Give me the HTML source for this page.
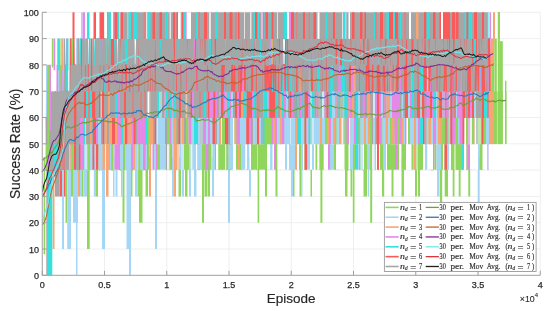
<!DOCTYPE html>
<html><head><meta charset="utf-8"><style>html,body{margin:0;padding:0;background:#fff;}svg{display:block}</style></head>
<body><svg width="550" height="311" viewBox="0 0 550 311">
<rect width="550" height="311" fill="#fff"/>
<path d="M104.50 12.30V275.30M166.75 12.30V275.30M229.00 12.30V275.30M291.25 12.30V275.30M353.50 12.30V275.30M415.75 12.30V275.30M478.00 12.30V275.30M540.25 12.30V275.30M42.25 249.00H540.25M42.25 222.70H540.25M42.25 196.40H540.25M42.25 170.10H540.25M42.25 143.80H540.25M42.25 117.50H540.25M42.25 91.20H540.25M42.25 64.90H540.25M42.25 38.60H540.25M42.25 12.30H540.25" stroke="#ebebeb" stroke-width="0.8" fill="none"/>
<path d="M43.6 157.0H45.2V254.3H43.6ZM65.5 157.0H67.2V222.7H65.5ZM71.0 157.0H73.0V196.4H71.0ZM82.0 157.0H83.3V196.4H82.0ZM87.0 157.0H89.7V249.0H87.0ZM96.0 157.0H98.0V196.4H96.0ZM122.5 157.0H124.5V222.7H122.5ZM131.0 157.0H132.5V196.4H131.0ZM137.5 157.0H139.0V196.4H137.5ZM139.0 157.0H142.5V222.7H139.0ZM145.5 157.0H148.0V196.4H145.5ZM178.5 157.0H181.0V196.4H178.5ZM185.0 157.0H187.5V196.4H185.0ZM202.0 157.0H204.0V222.7H202.0ZM204.5 157.0H205.5V196.4H204.5ZM205.5 157.0H207.0V196.4H205.5ZM207.5 157.0H210.0V196.4H207.5ZM257.6 157.0H259.2V222.7H257.6ZM265.0 157.0H267.0V196.4H265.0ZM275.5 157.0H277.5V196.4H275.5ZM293.0 157.0H294.5V196.4H293.0ZM299.5 157.0H301.0V196.4H299.5ZM310.5 157.0H312.0V196.4H310.5ZM320.4 157.0H322.4V222.7H320.4ZM345.0 157.0H347.5V196.4H345.0ZM350.5 157.0H352.3V196.4H350.5ZM352.8 157.0H354.5V222.7H352.8ZM363.5 157.0H367.0V196.4H363.5ZM370.2 157.0H372.2V222.7H370.2ZM382.0 157.0H384.2V196.4H382.0ZM391.5 157.0H393.5V196.4H391.5ZM401.5 157.0H404.0V196.4H401.5ZM415.0 157.0H417.0V196.4H415.0ZM418.0 157.0H420.0V196.4H418.0ZM440.0 157.0H442.2V222.7H440.0ZM444.7 157.0H448.0V196.4H444.7ZM452.7 157.0H454.5V196.4H452.7ZM458.7 157.0H460.6V196.4H458.7ZM468.3 157.0H470.2V196.4H468.3Z" fill="#90d65c"/>
<path d="M62.0 157.0H64.0V249.0H62.0ZM67.2 157.0H71.0V249.0H67.2ZM73.0 157.0H78.0V222.7H73.0ZM76.0 157.0H77.5V275.3H76.0ZM80.0 157.0H82.0V196.4H80.0ZM83.3 157.0H87.0V196.4H83.3ZM93.8 157.0H96.0V196.4H93.8ZM102.0 157.0H105.0V249.0H102.0ZM113.0 157.0H114.5V196.4H113.0ZM115.5 157.0H117.5V196.4H115.5ZM121.0 157.0H122.5V196.4H121.0ZM126.5 157.0H129.0V249.0H126.5ZM129.0 157.0H131.0V275.3H129.0ZM135.0 157.0H137.5V196.4H135.0ZM155.0 157.0H157.0V249.0H155.0ZM172.0 157.0H174.0V196.4H172.0ZM182.0 157.0H184.0V196.4H182.0ZM189.0 157.0H191.0V196.4H189.0ZM194.0 157.0H196.5V196.4H194.0ZM212.0 157.0H214.0V196.4H212.0ZM228.0 157.0H230.0V222.7H228.0ZM249.0 157.0H251.0V196.4H249.0ZM291.0 157.0H293.0V196.4H291.0ZM301.0 157.0H302.5V196.4H301.0ZM368.0 157.0H369.2V196.4H368.0ZM437.0 157.0H439.6V196.4H437.0ZM477.8 157.0H479.7V222.7H477.8Z" fill="#a5d7f5"/>
<path d="M52.6 157.0H54.5V249.0H52.6ZM78.0 157.0H80.0V196.4H78.0ZM106.0 157.0H108.5V196.4H106.0ZM149.0 157.0H151.0V196.4H149.0ZM174.0 157.0H176.0V196.4H174.0Z" fill="#f8a574"/>
<path d="M47.9 157.0H52.3V275.3H47.9Z" fill="#35e0de"/>
<path d="M59.5 157.0H62.0V196.4H59.5ZM64.0 157.0H65.5V196.4H64.0Z" fill="#fa5a5a"/>
<path d="M46.3 157.0H47.9V275.3H46.3ZM55.0 157.0H59.5V196.4H55.0Z" fill="#a6a6a6"/>
<path d="M46.30 170.1 46.80 143.8 47.30 143.8 47.80 170.1 48.30 143.8 48.80 91.2 49.30 170.1 49.80 170.1 50.30 143.8 50.80 117.5 51.30 170.1 51.80 143.8 52.30 91.2 52.80 170.1 53.30 170.1 53.80 143.8 54.30 170.1 54.80 170.1 55.30 91.2 55.80 143.8 56.30 117.5 56.80 170.1 57.30 170.1 57.80 143.8 58.30 170.1 58.80 117.5 59.30 170.1 59.80 38.6 60.30 143.8 60.80 170.1 61.30 64.9 61.80 143.8 62.80 143.8 63.30 117.5 63.80 170.1 64.30 91.2 64.80 117.5 65.30 64.9 65.80 117.5 66.30 143.8 66.80 117.5 67.30 143.8 67.80 143.8 68.30 91.2 68.80 143.8 69.30 170.1 70.80 170.1 71.30 143.8 71.80 143.8 72.30 38.6 72.80 64.9 73.30 91.2 73.80 117.5 74.30 143.8 74.80 170.1 75.30 117.5 75.80 170.1 76.30 143.8 76.80 143.8 77.30 170.1 78.30 170.1 78.80 117.5 79.80 117.5 80.30 91.2 80.80 117.5 81.30 143.8 81.80 64.9 82.30 117.5 82.80 143.8 83.30 91.2 83.80 143.8 84.30 170.1 84.80 117.5 85.30 91.2 85.80 143.8 86.30 91.2 86.80 143.8 87.30 170.1 87.80 143.8 88.30 64.9 88.80 170.1 89.30 143.8 89.80 170.1 90.30 117.5 90.80 91.2 91.30 170.1 91.80 117.5 92.30 64.9 92.80 91.2 93.30 143.8 93.80 64.9 94.30 143.8 95.30 143.8 95.80 91.2 96.30 117.5 96.80 170.1 97.30 170.1 97.80 117.5 98.30 38.6 98.80 91.2 99.30 170.1 99.80 170.1 100.30 143.8 100.80 91.2 101.30 117.5 101.80 143.8 102.30 117.5 102.80 91.2 103.30 91.2 103.80 64.9 104.30 91.2 104.80 117.5 105.30 170.1 105.80 117.5 106.30 143.8 106.80 64.9 107.30 117.5 107.80 38.6 108.30 143.8 109.30 143.8 109.80 170.1 110.30 143.8 110.80 170.1 111.30 143.8 111.80 170.1 112.30 170.1 112.80 143.8 113.30 143.8 113.80 91.2 114.30 117.5 114.80 91.2 115.30 143.8 115.80 117.5 116.30 143.8 117.30 143.8 117.80 117.5 118.30 143.8 118.80 91.2 119.30 117.5 119.80 117.5 120.30 170.1 120.80 170.1 121.30 64.9 121.80 117.5 122.30 91.2 122.80 117.5 123.30 143.8 123.80 170.1 124.30 117.5 124.80 91.2 125.30 91.2 125.80 170.1 126.30 143.8 126.80 143.8 127.30 64.9 127.80 143.8 128.30 117.5 129.30 117.5 129.80 170.1 130.30 143.8 130.80 91.2 131.30 117.5 131.80 91.2 132.30 170.1 132.80 170.1 133.30 91.2 133.80 91.2 134.30 64.9 134.80 91.2 135.30 170.1 135.80 117.5 136.80 117.5 137.30 170.1 137.80 117.5 138.30 91.2 138.80 117.5 139.30 143.8 139.80 170.1 140.30 64.9 140.80 91.2 141.30 170.1 141.80 117.5 142.30 143.8 142.80 64.9 143.30 143.8 143.80 117.5 144.30 91.2 144.80 143.8 145.30 117.5 145.80 117.5 146.30 143.8 146.80 64.9 147.30 91.2 147.80 38.6 148.30 117.5 148.80 91.2 149.30 143.8 149.80 38.6 150.30 117.5 150.80 91.2 151.30 143.8 151.80 117.5 152.30 117.5 152.80 91.2 153.30 38.6 153.80 117.5 154.30 117.5 154.80 170.1 155.30 117.5 156.30 117.5 156.80 91.2 157.30 143.8 157.80 143.8 158.30 38.6 158.80 117.5 159.30 143.8 159.80 91.2 160.30 143.8 160.80 117.5 161.30 117.5 161.80 91.2 162.30 143.8 162.80 143.8 163.30 117.5 163.80 117.5 164.30 91.2 164.80 117.5 165.30 91.2 166.30 91.2 166.80 143.8 167.30 170.1 167.80 117.5 168.30 117.5 168.80 170.1 169.30 91.2 170.30 91.2 170.80 170.1 171.30 91.2 171.80 117.5 172.80 117.5 173.30 64.9 173.80 143.8 174.30 143.8 174.80 117.5 175.80 117.5 176.30 170.1 176.80 117.5 177.30 143.8 177.80 117.5 178.30 117.5 178.80 143.8 179.30 91.2 179.80 117.5 180.30 143.8 180.80 117.5 181.80 117.5 182.30 91.2 182.80 143.8 183.30 143.8 183.80 91.2 184.30 117.5 184.80 117.5 185.30 91.2 185.80 91.2 186.30 143.8 186.80 143.8 187.30 170.1 187.80 117.5 188.30 117.5 188.80 91.2 189.30 117.5 189.80 64.9 190.30 64.9 190.80 170.1 191.30 91.2 191.80 64.9 192.30 91.2 192.80 143.8 193.30 117.5 193.80 143.8 194.30 117.5 194.80 170.1 195.30 117.5 196.30 117.5 196.80 91.2 197.30 117.5 197.80 170.1 198.30 117.5 198.80 143.8 199.30 91.2 199.80 143.8 200.30 91.2 200.80 91.2 201.30 117.5 201.80 170.1 202.30 117.5 202.80 64.9 203.30 91.2 203.80 38.6 204.30 143.8 204.80 91.2 205.30 117.5 205.80 170.1 206.30 91.2 206.80 143.8 207.30 117.5 207.80 143.8 208.30 117.5 208.80 117.5 209.30 143.8 209.80 170.1 210.30 143.8 210.80 117.5 211.30 117.5 211.80 64.9 212.30 143.8 212.80 117.5 213.30 117.5 213.80 143.8 214.30 91.2 214.80 117.5 215.30 64.9 215.80 38.6 216.30 143.8 216.80 117.5 217.30 170.1 217.80 91.2 218.30 143.8 218.80 170.1 219.30 117.5 220.30 117.5 220.80 91.2 221.30 117.5 221.80 91.2 222.30 143.8 222.80 91.2 223.30 91.2 223.80 117.5 224.80 117.5 225.30 91.2 225.80 143.8 226.30 91.2 226.80 170.1 227.30 117.5 227.80 64.9 228.30 143.8 228.80 91.2 229.30 170.1 229.80 170.1 230.30 143.8 230.80 91.2 231.30 117.5 231.80 38.6 232.30 91.2 233.30 91.2 233.80 117.5 234.30 143.8 234.80 91.2 235.30 38.6 235.80 91.2 236.30 91.2 236.80 143.8 237.30 117.5 237.80 91.2 238.30 143.8 238.80 91.2 239.30 91.2 239.80 64.9 240.30 91.2 240.80 91.2 241.30 170.1 241.80 64.9 242.30 64.9 242.80 117.5 243.30 64.9 243.80 117.5 244.30 38.6 244.80 91.2 245.30 91.2 245.80 38.6 246.30 64.9 246.80 64.9 247.30 91.2 247.80 117.5 248.30 143.8 248.80 117.5 249.30 91.2 249.80 91.2 250.30 64.9 250.80 91.2 251.30 117.5 251.80 38.6 252.30 117.5 252.80 91.2 253.80 91.2 254.30 143.8 254.80 38.6 255.30 64.9 255.80 91.2 256.30 64.9 256.80 117.5 258.30 117.5 258.80 91.2 259.30 91.2 259.80 117.5 260.30 91.2 260.80 117.5 261.30 91.2 261.80 143.8 262.30 91.2 262.80 117.5 263.80 117.5 264.30 143.8 264.80 64.9 265.30 143.8 265.80 170.1 266.30 143.8 266.80 117.5 267.30 117.5 267.80 170.1 268.30 91.2 268.80 170.1 269.30 143.8 269.80 117.5 270.80 117.5 271.30 64.9 271.80 117.5 272.30 38.6 272.80 91.2 273.30 143.8 273.80 91.2 274.30 117.5 274.80 117.5 275.30 143.8 275.80 117.5 276.30 170.1 276.80 91.2 277.30 117.5 277.80 117.5 278.30 91.2 278.80 91.2 279.30 117.5 279.80 117.5 280.30 170.1 280.80 64.9 281.30 117.5 281.80 143.8 282.30 91.2 282.80 117.5 283.30 91.2 283.80 143.8 284.30 91.2 284.80 117.5 285.30 143.8 285.80 64.9 286.30 143.8 286.80 38.6 287.30 143.8 287.80 91.2 288.30 117.5 288.80 91.2 290.30 91.2 290.80 117.5 291.30 117.5 291.80 64.9 292.30 91.2 292.80 64.9 293.30 117.5 293.80 91.2 294.30 91.2 294.80 117.5 295.30 143.8 295.80 143.8 296.30 117.5 296.80 143.8 297.30 170.1 297.80 117.5 298.30 91.2 299.30 91.2 299.80 38.6 300.30 91.2 300.80 91.2 301.30 117.5 301.80 64.9 302.30 117.5 303.30 117.5 303.80 91.2 304.30 64.9 304.80 170.1 305.30 91.2 305.80 117.5 306.30 170.1 306.80 117.5 307.30 143.8 308.80 143.8 309.30 64.9 309.80 64.9 310.30 117.5 310.80 117.5 311.30 170.1 311.80 117.5 312.30 143.8 312.80 64.9 313.30 64.9 313.80 143.8 314.30 64.9 314.80 38.6 315.30 91.2 315.80 64.9 316.30 117.5 316.80 64.9 317.30 117.5 317.80 143.8 318.30 117.5 318.80 91.2 319.30 38.6 319.80 38.6 320.30 91.2 320.80 143.8 321.30 170.1 321.80 64.9 322.30 91.2 322.80 91.2 323.30 64.9 323.80 64.9 324.30 170.1 324.80 143.8 325.30 117.5 325.80 143.8 326.30 117.5 326.80 91.2 327.30 64.9 327.80 143.8 328.30 64.9 328.80 64.9 329.30 117.5 329.80 64.9 330.30 117.5 330.80 117.5 331.30 91.2 331.80 91.2 332.30 143.8 332.80 91.2 334.30 91.2 334.80 64.9 335.30 91.2 335.80 170.1 336.30 143.8 336.80 170.1 337.30 91.2 337.80 91.2 338.30 170.1 338.80 38.6 339.30 38.6 339.80 91.2 340.30 38.6 340.80 143.8 341.30 117.5 341.80 64.9 342.30 170.1 342.80 91.2 343.80 91.2 344.30 143.8 344.80 117.5 345.30 91.2 345.80 64.9 346.30 91.2 346.80 170.1 347.80 170.1 348.30 117.5 348.80 38.6 349.30 170.1 349.80 91.2 350.30 117.5 350.80 91.2 351.30 91.2 351.80 143.8 352.80 143.8 353.30 91.2 353.80 170.1 354.30 117.5 354.80 117.5 355.30 143.8 355.80 91.2 356.30 117.5 356.80 64.9 357.30 117.5 358.80 117.5 359.30 64.9 359.80 170.1 360.30 91.2 360.80 91.2 361.30 143.8 361.80 117.5 362.30 170.1 362.80 143.8 363.30 170.1 363.80 170.1 364.30 143.8 364.80 91.2 365.30 91.2 365.80 64.9 366.30 91.2 366.80 143.8 367.30 91.2 367.80 117.5 368.30 64.9 368.80 117.5 369.80 117.5 370.30 143.8 370.80 91.2 371.30 117.5 371.80 64.9 372.30 170.1 372.80 91.2 373.30 91.2 373.80 143.8 374.30 117.5 374.80 64.9 375.30 91.2 375.80 170.1 376.30 91.2 376.80 91.2 377.30 143.8 378.30 143.8 378.80 64.9 379.30 91.2 379.80 64.9 380.30 170.1 380.80 91.2 381.30 91.2 381.80 143.8 382.30 91.2 382.80 91.2 383.30 170.1 383.80 117.5 384.30 117.5 384.80 170.1 385.30 91.2 385.80 117.5 386.30 143.8 386.80 91.2 387.30 117.5 387.80 64.9 388.30 117.5 388.80 170.1 389.30 143.8 389.80 117.5 390.30 38.6 390.80 91.2 391.30 91.2 391.80 38.6 392.30 143.8 392.80 91.2 393.30 64.9 393.80 143.8 394.30 117.5 394.80 91.2 395.30 117.5 395.80 64.9 396.30 117.5 396.80 64.9 397.30 143.8 397.80 117.5 398.30 91.2 398.80 117.5 399.30 143.8 399.80 117.5 400.30 117.5 400.80 64.9 401.30 117.5 401.80 143.8 402.30 117.5 402.80 91.2 403.30 117.5 403.80 91.2 404.30 91.2 404.80 117.5 405.30 170.1 405.80 117.5 406.30 117.5 406.80 64.9 407.30 64.9 407.80 143.8 408.30 91.2 408.80 91.2 409.30 143.8 409.80 143.8 410.30 91.2 410.80 117.5 411.30 143.8 411.80 143.8 412.30 64.9 412.80 64.9 413.30 143.8 413.80 91.2 414.30 143.8 414.80 91.2 415.30 170.1 415.80 143.8 416.30 117.5 416.80 143.8 417.30 38.6 417.80 64.9 418.30 170.1 418.80 117.5 419.30 170.1 419.80 64.9 420.30 143.8 420.80 170.1 421.30 64.9 421.80 143.8 422.30 64.9 422.80 143.8 423.30 64.9 423.80 91.2 424.30 170.1 424.80 143.8 425.30 117.5 425.80 64.9 426.30 117.5 426.80 143.8 427.30 91.2 427.80 117.5 428.30 117.5 428.80 91.2 429.30 170.1 429.80 64.9 430.30 117.5 430.80 91.2 431.30 64.9 431.80 170.1 432.30 170.1 432.80 91.2 433.30 64.9 433.80 117.5 434.30 64.9 434.80 117.5 435.30 91.2 435.80 117.5 436.30 91.2 436.80 117.5 437.30 117.5 437.80 91.2 438.30 64.9 438.80 91.2 439.30 170.1 439.80 117.5 440.30 143.8 440.80 117.5 441.30 170.1 441.80 91.2 442.30 117.5 442.80 117.5 443.30 64.9 443.80 143.8 444.30 170.1 444.80 117.5 445.30 38.6 445.80 91.2 446.30 64.9 446.80 91.2 447.30 38.6 447.80 91.2 448.30 143.8 448.80 91.2 449.30 143.8 449.80 38.6 450.30 143.8 450.80 91.2 451.30 143.8 451.80 91.2 452.30 170.1 452.80 91.2 453.30 117.5 453.80 117.5 454.30 170.1 454.80 143.8 455.30 64.9 455.80 91.2 456.30 91.2 456.80 143.8 457.30 117.5 457.80 91.2 458.30 38.6 458.80 143.8 459.30 38.6 459.80 64.9 460.30 64.9 460.80 38.6 461.30 64.9 461.80 91.2 462.30 117.5 462.80 91.2 463.30 117.5 463.80 117.5 464.30 64.9 464.80 64.9 465.30 143.8 465.80 38.6 466.30 170.1 466.80 117.5 467.30 64.9 467.80 64.9 468.30 91.2 468.80 143.8 469.30 91.2 469.80 117.5 470.30 64.9 470.80 117.5 471.30 170.1 471.80 117.5 472.80 117.5 473.30 64.9 473.80 91.2 474.30 64.9 474.80 91.2 475.30 143.8 475.80 117.5 476.30 91.2 476.80 117.5 477.80 117.5 478.30 143.8 478.80 143.8 479.30 117.5 480.30 117.5 480.80 91.2 481.30 91.2 481.80 38.6 482.30 64.9 482.80 170.1 483.30 117.5 483.80 117.5 484.30 91.2 484.80 64.9 485.30 117.5 485.80 117.5 486.30 91.2 486.80 117.5 487.30 91.2 487.80 117.5 488.30 64.9 488.80 64.9 489.30 143.8 489.80 117.5 490.30 64.9 490.80 64.9 491.30 117.5 491.80 91.2 492.30 143.8 492.80 64.9 493.30 117.5 493.80 38.6" stroke="#90d65c" stroke-width="1.5" fill="none" stroke-linejoin="bevel" stroke-miterlimit="4"/>
<path d="M46.30 170.1 46.80 64.9 47.30 170.1 47.80 170.1 48.30 117.5 48.80 170.1 50.80 170.1 51.30 143.8 51.80 170.1 52.30 170.1 52.80 143.8 53.30 170.1 57.80 170.1 58.30 38.6 58.80 170.1 59.80 170.1 60.30 91.2 60.80 117.5 61.30 170.1 61.80 170.1 62.30 38.6 62.80 170.1 63.30 143.8 63.80 91.2 64.30 143.8 64.80 91.2 65.30 170.1 65.80 170.1 66.30 117.5 66.80 143.8 67.30 170.1 68.30 170.1 68.80 91.2 69.30 170.1 69.80 170.1 70.30 143.8 70.80 170.1 71.30 143.8 71.80 117.5 72.30 143.8 72.80 170.1 73.30 143.8 73.80 143.8 74.30 170.1 74.80 170.1 75.30 64.9 75.80 143.8 76.30 143.8 76.80 38.6 77.30 143.8 77.80 170.1 78.30 143.8 78.80 91.2 79.30 143.8 80.30 143.8 80.80 170.1 81.30 64.9 81.80 143.8 82.30 64.9 82.80 117.5 83.30 117.5 83.80 143.8 84.30 143.8 84.80 170.1 85.30 143.8 85.80 170.1 87.30 170.1 87.80 91.2 88.30 143.8 88.80 64.9 89.30 170.1 89.80 170.1 90.30 91.2 90.80 170.1 91.30 64.9 91.80 143.8 92.30 170.1 92.80 117.5 93.30 143.8 93.80 64.9 94.30 91.2 94.80 117.5 97.30 117.5 97.80 91.2 98.30 117.5 98.80 91.2 99.30 117.5 99.80 117.5 100.30 143.8 100.80 117.5 101.30 170.1 101.80 170.1 102.30 143.8 102.80 38.6 103.30 38.6 103.80 117.5 104.30 170.1 104.80 117.5 105.30 38.6 105.80 143.8 106.30 38.6 106.80 117.5 107.30 117.5 107.80 91.2 108.30 64.9 108.80 117.5 109.30 91.2 109.80 117.5 110.30 91.2 110.80 91.2 111.30 117.5 111.80 38.6 112.30 91.2 112.80 143.8 113.30 143.8 113.80 117.5 114.30 91.2 114.80 143.8 115.30 117.5 115.80 38.6 116.30 64.9 116.80 117.5 117.30 91.2 117.80 117.5 118.30 117.5 118.80 91.2 119.30 117.5 119.80 38.6 120.30 170.1 120.80 117.5 121.30 143.8 121.80 91.2 122.80 91.2 123.30 143.8 123.80 91.2 124.30 117.5 124.80 117.5 125.30 143.8 125.80 117.5 126.30 117.5 126.80 38.6 127.30 143.8 127.80 91.2 128.30 91.2 128.80 117.5 129.30 170.1 129.80 38.6 130.30 91.2 130.80 143.8 131.30 38.6 131.80 91.2 132.30 91.2 132.80 117.5 133.30 91.2 133.80 170.1 134.30 117.5 134.80 91.2 135.30 117.5 135.80 143.8 136.30 170.1 136.80 143.8 137.30 170.1 137.80 170.1 138.30 117.5 138.80 64.9 139.30 117.5 139.80 143.8 140.30 91.2 140.80 170.1 141.30 91.2 141.80 117.5 142.30 91.2 142.80 64.9 143.30 170.1 143.80 170.1 144.30 117.5 144.80 91.2 145.30 91.2 145.80 170.1 146.30 91.2 146.80 117.5 147.30 143.8 147.80 117.5 148.30 38.6 148.80 64.9 149.30 117.5 149.80 64.9 150.30 91.2 150.80 143.8 151.30 117.5 151.80 143.8 152.30 91.2 152.80 143.8 153.80 143.8 154.30 170.1 154.80 143.8 155.30 64.9 155.80 117.5 156.30 143.8 156.80 170.1 157.30 143.8 157.80 91.2 158.30 38.6 158.80 64.9 159.30 117.5 159.80 117.5 160.30 143.8 160.80 143.8 161.30 117.5 161.80 91.2 162.30 117.5 162.80 143.8 163.30 117.5 164.30 117.5 164.80 91.2 165.30 91.2 165.80 143.8 166.30 38.6 166.80 64.9 167.30 64.9 167.80 91.2 168.30 64.9 168.80 143.8 169.30 170.1 169.80 91.2 170.30 170.1 170.80 143.8 171.30 91.2 171.80 117.5 172.80 117.5 173.30 64.9 173.80 117.5 174.30 117.5 174.80 64.9 175.30 117.5 175.80 64.9 176.30 117.5 176.80 91.2 177.30 91.2 177.80 38.6 178.30 38.6 178.80 91.2 179.30 64.9 179.80 117.5 180.30 91.2 181.30 91.2 181.80 64.9 182.30 117.5 182.80 64.9 183.30 91.2 183.80 91.2 184.30 143.8 184.80 117.5 185.30 38.6 185.80 91.2 186.30 117.5 186.80 91.2 187.30 64.9 187.80 117.5 188.30 117.5 188.80 38.6 189.30 64.9 189.80 64.9 190.30 117.5 190.80 143.8 191.30 117.5 191.80 170.1 192.30 117.5 192.80 117.5 193.30 64.9 193.80 117.5 194.30 91.2 194.80 143.8 195.30 117.5 195.80 117.5 196.30 91.2 196.80 64.9 197.30 38.6 197.80 143.8 198.30 38.6 198.80 117.5 199.30 117.5 199.80 64.9 200.30 117.5 201.80 117.5 202.30 143.8 202.80 117.5 203.30 143.8 203.80 64.9 204.30 117.5 204.80 38.6 205.30 64.9 205.80 91.2 206.30 170.1 206.80 170.1 207.30 143.8 207.80 91.2 208.30 117.5 208.80 117.5 209.30 91.2 209.80 170.1 210.30 170.1 210.80 117.5 211.80 117.5 212.30 143.8 212.80 64.9 213.30 117.5 213.80 38.6 214.30 143.8 214.80 117.5 215.30 170.1 215.80 117.5 216.30 170.1 216.80 143.8 217.30 143.8 217.80 91.2 218.30 143.8 218.80 91.2 219.30 117.5 219.80 143.8 220.30 117.5 220.80 64.9 221.30 91.2 221.80 64.9 222.30 64.9 222.80 91.2 223.30 38.6 223.80 91.2 224.30 64.9 224.80 38.6 225.30 170.1 225.80 143.8 226.30 91.2 226.80 117.5 227.30 38.6 227.80 64.9 228.80 64.9 229.30 117.5 229.80 117.5 230.30 64.9 230.80 64.9 231.30 91.2 231.80 91.2 232.30 117.5 232.80 64.9 233.30 91.2 233.80 117.5 234.30 64.9 234.80 64.9 235.30 117.5 235.80 38.6 236.30 117.5 236.80 38.6 237.30 64.9 237.80 117.5 238.30 117.5 238.80 91.2 239.30 64.9 239.80 170.1 240.30 64.9 240.80 91.2 241.30 64.9 241.80 91.2 242.80 91.2 243.30 64.9 243.80 117.5 244.30 91.2 244.80 91.2 245.30 117.5 245.80 117.5 246.30 64.9 246.80 91.2 247.30 91.2 247.80 64.9 248.30 91.2 248.80 117.5 249.30 38.6 249.80 91.2 250.30 117.5 250.80 91.2 251.30 170.1 251.80 91.2 252.30 170.1 252.80 91.2 254.30 91.2 254.80 143.8 255.30 64.9 255.80 117.5 256.30 38.6 256.80 143.8 257.30 91.2 258.30 91.2 258.80 117.5 259.30 91.2 259.80 38.6 260.30 64.9 260.80 38.6 261.30 91.2 261.80 117.5 262.30 91.2 262.80 117.5 263.30 38.6 263.80 117.5 264.30 38.6 264.80 117.5 265.30 91.2 265.80 91.2 266.30 64.9 266.80 64.9 267.30 38.6 267.80 64.9 268.30 38.6 268.80 91.2 269.30 91.2 269.80 64.9 270.30 91.2 270.80 64.9 271.30 64.9 271.80 143.8 272.30 64.9 272.80 170.1 273.30 91.2 273.80 91.2 274.30 38.6 274.80 91.2 275.30 117.5 275.80 91.2 276.30 143.8 276.80 38.6 277.30 38.6 277.80 91.2 278.30 117.5 278.80 91.2 279.30 91.2 279.80 117.5 280.30 38.6 280.80 143.8 281.30 117.5 281.80 117.5 282.30 91.2 282.80 143.8 283.30 91.2 283.80 64.9 284.30 64.9 284.80 143.8 285.30 64.9 285.80 117.5 286.30 117.5 286.80 91.2 287.30 91.2 287.80 64.9 288.30 170.1 288.80 64.9 289.30 91.2 289.80 170.1 290.30 64.9 290.80 117.5 291.30 64.9 291.80 38.6 292.30 91.2 292.80 143.8 293.30 38.6 293.80 91.2 294.30 91.2 294.80 117.5 295.30 38.6 295.80 38.6 296.30 117.5 296.80 91.2 297.30 117.5 297.80 91.2 298.80 91.2 299.30 64.9 299.80 117.5 300.80 117.5 301.30 143.8 301.80 38.6 302.30 143.8 302.80 170.1 303.30 91.2 303.80 64.9 304.30 91.2 304.80 38.6 305.30 117.5 305.80 91.2 306.30 64.9 306.80 143.8 307.30 91.2 307.80 117.5 308.30 143.8 308.80 91.2 309.30 64.9 309.80 91.2 310.30 64.9 310.80 64.9 311.30 91.2 311.80 91.2 312.30 64.9 312.80 117.5 313.30 117.5 313.80 143.8 314.30 117.5 314.80 64.9 315.30 91.2 315.80 38.6 316.30 117.5 316.80 117.5 317.30 143.8 317.80 38.6 318.30 143.8 318.80 64.9 319.30 91.2 319.80 143.8 320.30 91.2 320.80 64.9 321.30 117.5 321.80 143.8 322.30 38.6 322.80 91.2 323.30 64.9 323.80 117.5 324.30 91.2 324.80 117.5 325.30 117.5 325.80 38.6 326.30 91.2 326.80 64.9 327.30 64.9 327.80 91.2 328.30 91.2 328.80 117.5 329.30 143.8 329.80 91.2 330.30 170.1 330.80 91.2 331.30 64.9 331.80 117.5 332.30 38.6 332.80 91.2 333.30 117.5 333.80 117.5 334.30 91.2 334.80 91.2 335.30 117.5 335.80 38.6 336.30 91.2 336.80 64.9 337.30 91.2 337.80 91.2 338.30 64.9 338.80 38.6 339.30 91.2 339.80 117.5 340.30 170.1 340.80 117.5 341.30 117.5 341.80 38.6 342.30 117.5 342.80 91.2 343.30 38.6 343.80 143.8 344.30 64.9 344.80 91.2 345.30 117.5 346.30 117.5 346.80 91.2 347.30 117.5 347.80 64.9 348.30 91.2 348.80 91.2 349.30 143.8 349.80 143.8 350.30 117.5 350.80 64.9 353.30 64.9 353.80 38.6 354.30 38.6 354.80 64.9 355.30 117.5 355.80 64.9 356.30 91.2 356.80 117.5 357.30 143.8 357.80 117.5 359.30 117.5 359.80 38.6 360.30 170.1 360.80 64.9 361.30 117.5 361.80 91.2 362.30 117.5 362.80 64.9 363.30 64.9 363.80 117.5 364.30 64.9 364.80 117.5 365.30 117.5 365.80 170.1 366.30 143.8 366.80 117.5 367.30 64.9 367.80 143.8 368.30 117.5 368.80 91.2 369.30 117.5 369.80 91.2 370.30 117.5 370.80 91.2 371.30 91.2 371.80 143.8 372.30 117.5 372.80 91.2 373.30 91.2 373.80 117.5 374.30 91.2 375.30 91.2 375.80 117.5 376.30 117.5 376.80 91.2 377.30 117.5 377.80 91.2 378.80 91.2 379.30 117.5 379.80 91.2 380.30 117.5 380.80 64.9 381.30 143.8 381.80 91.2 382.30 143.8 382.80 117.5 383.80 117.5 384.30 91.2 384.80 170.1 385.30 117.5 385.80 117.5 386.30 91.2 386.80 117.5 387.30 143.8 387.80 91.2 388.30 117.5 388.80 91.2 389.30 91.2 389.80 143.8 390.30 117.5 390.80 38.6 391.30 143.8 391.80 117.5 392.30 38.6 392.80 91.2 394.30 91.2 394.80 117.5 395.30 91.2 395.80 38.6 396.30 91.2 396.80 91.2 397.30 64.9 397.80 91.2 398.30 64.9 398.80 117.5 399.30 143.8 399.80 117.5 400.30 91.2 401.30 91.2 401.80 117.5 402.30 143.8 402.80 170.1 403.30 91.2 403.80 38.6 404.30 91.2 405.30 91.2 405.80 64.9 406.30 91.2 407.30 91.2 407.80 117.5 408.30 64.9 408.80 117.5 409.30 91.2 409.80 64.9 410.30 91.2 410.80 64.9 411.30 91.2 411.80 117.5 412.30 38.6 412.80 117.5 413.30 91.2 413.80 117.5 414.30 38.6 414.80 117.5 415.30 91.2 415.80 91.2 416.30 38.6 416.80 64.9 417.30 64.9 417.80 91.2 418.30 117.5 418.80 91.2 419.30 117.5 419.80 64.9 420.30 91.2 420.80 91.2 421.30 64.9 421.80 91.2 422.30 64.9 422.80 91.2 423.30 64.9 423.80 117.5 425.30 117.5 425.80 64.9 426.30 91.2 426.80 117.5 427.80 117.5 428.30 38.6 428.80 117.5 429.30 64.9 429.80 117.5 430.30 64.9 430.80 117.5 431.80 117.5 432.30 38.6 432.80 91.2 433.30 170.1 433.80 117.5 434.30 117.5 434.80 91.2 435.30 64.9 435.80 91.2 436.30 64.9 437.30 64.9 437.80 91.2 438.30 64.9 438.80 64.9 439.30 38.6 439.80 117.5 440.30 117.5 440.80 91.2 441.30 91.2 441.80 170.1 442.30 38.6 442.80 64.9 443.30 117.5 443.80 117.5 444.30 38.6 444.80 91.2 445.30 64.9 445.80 91.2 446.80 91.2 447.30 117.5 447.80 91.2 448.30 91.2 448.80 64.9 449.30 91.2 449.80 143.8 450.30 170.1 450.80 117.5 451.30 91.2 451.80 143.8 452.30 143.8 452.80 38.6 453.30 91.2 454.80 91.2 455.30 38.6 455.80 91.2 456.30 91.2 456.80 170.1 457.30 91.2 457.80 117.5 458.30 64.9 458.80 117.5 459.80 117.5 460.30 170.1 460.80 91.2 461.30 117.5 461.80 64.9 462.30 117.5 462.80 91.2 463.30 117.5 463.80 38.6 464.30 117.5 464.80 38.6 465.30 117.5 465.80 91.2 466.30 91.2 466.80 117.5 467.30 91.2 467.80 64.9 468.30 117.5 468.80 64.9 469.30 91.2 469.80 38.6 470.30 91.2 470.80 64.9 471.80 64.9 472.30 38.6 473.30 38.6 473.80 91.2 474.30 117.5 474.80 91.2 475.30 91.2 475.80 117.5 476.30 91.2 476.80 117.5 477.30 64.9 477.80 117.5 478.30 64.9 478.80 117.5 479.30 64.9 479.80 117.5 480.30 91.2 480.80 117.5 481.30 91.2 481.80 64.9 482.30 117.5 482.80 91.2 483.30 91.2 483.80 64.9 484.30 170.1 484.80 117.5 485.30 64.9 485.80 91.2 486.30 143.8 486.80 91.2 487.30 91.2 487.80 170.1 488.30 143.8 488.80 143.8 489.30 91.2" stroke="#a5d7f5" stroke-width="1.5" fill="none" stroke-linejoin="bevel" stroke-miterlimit="4"/>
<path d="M46.30 170.1 57.80 170.1 58.30 117.5 58.80 143.8 59.30 143.8 59.80 170.1 60.30 170.1 60.80 143.8 61.30 170.1 61.80 117.5 62.30 117.5 62.80 170.1 63.30 143.8 63.80 143.8 64.30 170.1 64.80 143.8 65.30 143.8 65.80 170.1 66.30 143.8 66.80 143.8 67.30 117.5 67.80 91.2 68.30 117.5 68.80 117.5 69.30 91.2 69.80 170.1 70.30 38.6 70.80 117.5 71.30 91.2 72.30 91.2 72.80 170.1 73.30 117.5 74.30 117.5 74.80 91.2 75.30 91.2 75.80 117.5 76.30 117.5 76.80 64.9 77.30 117.5 77.80 38.6 78.30 91.2 78.80 91.2 79.30 143.8 79.80 64.9 80.30 91.2 81.30 91.2 81.80 64.9 82.30 91.2 82.80 91.2 83.30 117.5 83.80 117.5 84.30 38.6 84.80 91.2 85.30 117.5 85.80 91.2 86.30 117.5 86.80 91.2 87.30 64.9 87.80 91.2 88.30 117.5 88.80 143.8 89.30 91.2 89.80 117.5 90.30 117.5 90.80 91.2 91.30 117.5 91.80 64.9 92.30 64.9 92.80 117.5 93.30 64.9 93.80 91.2 94.30 64.9 94.80 91.2 95.30 91.2 95.80 143.8 96.30 91.2 96.80 117.5 97.30 91.2 97.80 91.2 98.30 117.5 98.80 91.2 99.30 64.9 99.80 64.9 100.30 117.5 100.80 91.2 101.30 143.8 101.80 91.2 102.30 91.2 102.80 117.5 103.30 91.2 103.80 117.5 104.30 91.2 104.80 117.5 105.30 38.6 105.80 143.8 106.30 91.2 106.80 38.6 107.30 64.9 108.80 64.9 109.30 91.2 109.80 117.5 110.30 64.9 110.80 64.9 111.30 91.2 111.80 64.9 112.30 91.2 112.80 64.9 113.30 117.5 113.80 91.2 114.30 143.8 114.80 64.9 115.30 91.2 115.80 64.9 116.30 91.2 117.30 91.2 117.80 117.5 118.30 64.9 118.80 117.5 119.30 91.2 119.80 117.5 120.30 64.9 120.80 91.2 121.30 91.2 121.80 64.9 122.80 64.9 123.30 91.2 123.80 38.6 124.30 91.2 124.80 117.5 125.30 117.5 125.80 38.6 126.30 64.9 126.80 91.2 127.30 64.9 127.80 117.5 128.30 91.2 128.80 91.2 129.30 143.8 129.80 91.2 130.30 64.9 130.80 64.9 131.30 91.2 133.80 91.2 134.30 143.8 134.80 64.9 135.30 91.2 135.80 143.8 136.30 91.2 136.80 117.5 137.30 117.5 137.80 64.9 138.30 91.2 138.80 117.5 139.30 64.9 139.80 117.5 140.30 91.2 140.80 91.2 141.30 64.9 141.80 91.2 142.30 64.9 143.30 64.9 143.80 117.5 144.30 91.2 144.80 91.2 145.30 143.8 145.80 91.2 146.30 38.6 146.80 117.5 147.30 64.9 147.80 91.2 148.30 143.8 148.80 91.2 149.30 91.2 149.80 143.8 150.30 117.5 150.80 143.8 151.30 170.1 151.80 38.6 152.80 38.6 153.30 64.9 153.80 38.6 154.30 38.6 154.80 91.2 155.30 38.6 155.80 64.9 156.30 91.2 157.30 91.2 157.80 143.8 158.30 117.5 158.80 91.2 159.30 91.2 159.80 38.6 160.30 91.2 160.80 91.2 161.30 117.5 161.80 91.2 162.30 64.9 162.80 64.9 163.30 91.2 163.80 64.9 164.30 38.6 164.80 91.2 165.30 64.9 165.80 117.5 166.30 64.9 166.80 38.6 167.30 38.6 167.80 117.5 168.30 91.2 169.30 91.2 169.80 64.9 170.30 91.2 173.30 91.2 173.80 64.9 174.30 117.5 174.80 91.2 176.30 91.2 176.80 117.5 177.30 64.9 177.80 117.5 178.30 91.2 179.30 91.2 179.80 143.8 180.30 117.5 180.80 117.5 181.30 91.2 181.80 117.5 182.30 64.9 182.80 143.8 183.30 91.2 183.80 91.2 184.30 143.8 184.80 91.2 185.30 64.9 185.80 64.9 186.30 91.2 186.80 64.9 187.30 91.2 187.80 64.9 188.30 64.9 188.80 91.2 189.30 64.9 189.80 91.2 190.30 91.2 190.80 64.9 191.30 38.6 191.80 91.2 192.30 91.2 192.80 64.9 193.80 64.9 194.30 117.5 194.80 91.2 195.30 91.2 195.80 117.5 196.30 91.2 196.80 170.1 197.30 91.2 197.80 64.9 199.30 64.9 199.80 38.6 200.30 64.9 200.80 64.9 201.30 91.2 201.80 64.9 202.30 91.2 202.80 64.9 203.30 91.2 204.30 91.2 204.80 64.9 205.30 91.2 206.30 91.2 206.80 38.6 207.30 38.6 207.80 91.2 208.30 64.9 208.80 117.5 209.30 64.9 211.30 64.9 211.80 91.2 212.30 91.2 212.80 64.9 213.30 64.9 213.80 91.2 214.30 38.6 214.80 91.2 215.30 91.2 215.80 64.9 216.30 38.6 216.80 38.6 217.30 117.5 217.80 38.6 218.30 38.6 218.80 64.9 219.30 38.6 219.80 38.6 220.30 91.2 220.80 117.5 221.30 91.2 221.80 91.2 222.30 117.5 222.80 38.6 223.30 91.2 223.80 64.9 224.30 91.2 224.80 117.5 225.30 117.5 225.80 38.6 226.30 117.5 226.80 91.2 227.30 117.5 227.80 64.9 228.30 91.2 228.80 117.5 229.30 91.2 229.80 64.9 230.30 91.2 230.80 91.2 231.30 117.5 231.80 64.9 232.30 64.9 232.80 143.8 233.30 91.2 233.80 64.9 234.30 117.5 234.80 64.9 235.30 117.5 235.80 117.5 236.30 64.9 236.80 91.2 237.30 91.2 237.80 64.9 238.30 64.9 238.80 38.6 239.30 117.5 239.80 38.6 240.30 117.5 240.80 38.6 241.30 117.5 241.80 64.9 242.30 170.1 242.80 91.2 243.30 91.2 243.80 64.9 244.30 117.5 244.80 91.2 245.30 117.5 245.80 143.8 246.30 91.2 246.80 64.9 247.80 64.9 248.30 91.2 249.30 91.2 249.80 117.5 250.30 91.2 250.80 143.8 251.30 64.9 251.80 38.6 252.30 38.6 252.80 64.9 253.30 38.6 253.80 117.5 254.30 64.9 254.80 117.5 255.30 38.6 255.80 64.9 256.30 143.8 256.80 91.2 257.30 64.9 257.80 91.2 258.30 64.9 259.30 64.9 259.80 91.2 260.80 91.2 261.30 64.9 261.80 143.8 262.30 91.2 262.80 64.9 263.30 91.2 263.80 91.2 264.30 64.9 265.30 64.9 265.80 117.5 266.30 38.6 266.80 64.9 267.30 38.6 267.80 64.9 268.80 64.9 269.30 38.6 269.80 64.9 270.30 117.5 270.80 64.9 271.30 64.9 271.80 38.6 272.30 64.9 272.80 117.5 273.30 64.9 273.80 91.2 274.30 64.9 274.80 64.9 275.30 117.5 275.80 64.9 276.30 117.5 276.80 38.6 277.30 91.2 277.80 91.2 278.30 38.6 278.80 64.9 279.30 64.9 279.80 38.6 280.30 64.9 280.80 64.9 281.30 143.8 281.80 91.2 282.30 38.6 282.80 64.9 283.30 117.5 283.80 64.9 285.80 64.9 286.30 91.2 287.30 91.2 287.80 117.5 288.30 91.2 288.80 64.9 289.30 91.2 289.80 64.9 290.30 38.6 290.80 64.9 291.30 38.6 291.80 64.9 292.30 38.6 292.80 64.9 293.30 64.9 293.80 38.6 294.30 91.2 294.80 64.9 295.30 64.9 295.80 117.5 296.30 91.2 296.80 64.9 297.30 117.5 297.80 64.9 298.30 91.2 298.80 91.2 299.30 64.9 299.80 64.9 300.30 143.8 300.80 91.2 301.30 38.6 301.80 117.5 302.30 38.6 302.80 91.2 303.30 64.9 303.80 91.2 304.30 64.9 304.80 91.2 305.30 64.9 305.80 91.2 306.30 91.2 306.80 64.9 307.30 91.2 307.80 64.9 308.30 91.2 308.80 91.2 309.30 117.5 309.80 64.9 310.30 64.9 310.80 91.2 311.30 117.5 311.80 38.6 312.30 143.8 312.80 64.9 313.30 38.6 313.80 38.6 314.30 91.2 314.80 38.6 315.30 91.2 315.80 117.5 316.30 38.6 316.80 38.6 317.30 91.2 317.80 64.9 318.30 117.5 318.80 170.1 319.30 64.9 319.80 91.2 320.30 91.2 320.80 117.5 321.30 91.2 321.80 117.5 322.30 117.5 322.80 64.9 323.30 38.6 323.80 64.9 324.30 38.6 324.80 117.5 325.30 64.9 325.80 91.2 326.30 91.2 326.80 64.9 327.80 64.9 328.30 91.2 329.30 91.2 329.80 117.5 330.30 64.9 330.80 38.6 331.30 117.5 331.80 38.6 332.30 64.9 332.80 64.9 333.30 91.2 333.80 38.6 334.30 64.9 335.30 64.9 335.80 91.2 336.30 64.9 336.80 64.9 337.30 91.2 337.80 64.9 338.30 91.2 338.80 64.9 339.30 38.6 339.80 64.9 340.30 91.2 340.80 64.9 341.30 91.2 341.80 117.5 342.30 91.2 342.80 91.2 343.30 64.9 343.80 91.2 344.30 38.6 344.80 91.2 345.30 117.5 345.80 117.5 346.30 91.2 346.80 91.2 347.30 38.6 347.80 91.2 348.30 91.2 348.80 64.9 349.30 91.2 349.80 64.9 350.30 64.9 350.80 91.2 351.30 64.9 351.80 117.5 352.30 91.2 352.80 64.9 353.30 117.5 353.80 38.6 354.30 64.9 354.80 38.6 355.30 117.5 355.80 91.2 356.30 64.9 357.30 64.9 357.80 38.6 358.30 64.9 358.80 91.2 359.30 38.6 359.80 117.5 360.30 64.9 360.80 91.2 361.30 64.9 361.80 38.6 362.30 91.2 362.80 91.2 363.30 64.9 363.80 91.2 364.30 91.2 364.80 64.9 365.30 64.9 365.80 91.2 366.30 64.9 366.80 91.2 367.30 143.8 367.80 64.9 368.30 91.2 368.80 64.9 369.30 91.2 370.30 91.2 370.80 64.9 371.30 64.9 371.80 38.6 372.30 64.9 379.80 64.9 380.30 91.2 380.80 64.9 382.80 64.9 383.30 117.5 383.80 143.8 384.30 64.9 386.30 64.9 386.80 91.2 387.30 91.2 387.80 38.6 388.30 64.9 388.80 91.2 389.30 64.9 389.80 91.2 390.30 143.8 390.80 64.9 391.30 64.9 391.80 38.6 392.30 38.6 392.80 64.9 393.30 38.6 393.80 64.9 394.30 64.9 394.80 91.2 395.30 91.2 395.80 38.6 396.30 117.5 396.80 91.2 397.30 38.6 397.80 91.2 398.30 38.6 398.80 91.2 399.30 64.9 399.80 64.9 400.30 38.6 401.30 38.6 401.80 91.2 402.30 91.2 402.80 38.6 403.30 64.9 403.80 38.6 404.80 38.6 405.30 91.2 405.80 64.9 406.30 64.9 406.80 117.5 407.30 91.2 407.80 91.2 408.30 64.9 409.30 64.9 409.80 38.6 410.30 38.6 410.80 91.2 411.30 38.6 411.80 64.9 412.30 38.6 412.80 64.9 413.30 91.2 413.80 64.9 414.80 64.9 415.30 117.5 415.80 38.6 416.30 64.9 416.80 38.6 417.30 91.2 417.80 64.9 418.30 64.9 418.80 91.2 419.30 64.9 419.80 64.9 420.30 91.2 420.80 64.9 421.30 91.2 421.80 38.6 422.30 91.2 422.80 117.5 423.30 64.9 423.80 38.6 424.30 91.2 425.30 91.2 425.80 38.6 426.30 91.2 428.80 91.2 429.30 64.9 429.80 91.2 430.30 117.5 430.80 91.2 431.30 64.9 431.80 91.2 432.30 91.2 432.80 64.9 433.30 91.2 433.80 64.9 434.30 91.2 434.80 64.9 435.30 91.2 435.80 64.9 436.30 91.2 436.80 64.9 437.30 91.2 437.80 38.6 438.30 117.5 438.80 64.9 439.30 91.2 439.80 91.2 440.30 64.9 440.80 64.9 441.30 91.2 441.80 38.6 442.30 91.2 442.80 38.6 443.30 91.2 443.80 38.6 444.30 91.2 444.80 64.9 445.30 91.2 445.80 38.6 446.30 64.9 447.80 64.9 448.30 38.6 448.80 64.9 449.30 64.9 449.80 91.2 450.30 64.9 450.80 64.9 451.30 38.6 451.80 64.9 452.30 38.6 452.80 38.6 453.30 91.2 453.80 91.2 454.30 64.9 454.80 38.6 455.30 91.2 456.80 91.2 457.30 64.9 457.80 91.2 458.30 91.2 458.80 38.6 459.30 64.9 459.80 64.9 460.30 38.6 461.80 38.6 462.30 64.9 462.80 64.9 463.30 38.6 463.80 38.6 464.30 64.9 466.80 64.9 467.30 91.2 467.80 64.9 468.80 64.9 469.30 91.2 469.80 64.9 470.30 38.6 470.80 64.9 471.30 64.9 471.80 38.6 472.30 64.9 473.30 64.9 473.80 38.6 474.30 64.9 477.30 64.9 477.80 38.6 478.30 91.2 478.80 38.6 479.30 91.2 479.80 64.9 481.30 64.9 481.80 38.6 482.30 64.9 482.80 64.9 483.30 38.6 484.30 38.6 484.80 91.2 485.30 64.9 485.80 91.2 486.30 64.9 486.80 91.2 487.30 91.2 487.80 64.9 488.30 64.9 488.80 91.2 489.30 38.6 489.80 64.9 490.30 64.9 490.80 91.2 491.30 38.6 491.80 64.9 492.30 38.6 492.80 64.9 493.30 64.9 493.80 38.6 494.30 38.6" stroke="#f8a574" stroke-width="1.5" fill="none" stroke-linejoin="bevel" stroke-miterlimit="4"/>
<path d="M46.30 117.5 46.80 170.1 47.30 143.8 47.80 143.8 48.30 64.9 48.80 170.1 49.30 143.8 49.80 170.1 50.30 170.1 50.80 143.8 51.30 117.5 51.80 170.1 52.30 143.8 52.80 117.5 53.30 143.8 53.80 170.1 54.30 143.8 54.80 143.8 55.30 117.5 56.30 117.5 56.80 143.8 57.30 64.9 57.80 143.8 58.30 117.5 58.80 143.8 59.30 143.8 59.80 91.2 60.30 117.5 60.80 91.2 61.30 91.2 61.80 64.9 62.30 143.8 62.80 143.8 63.30 117.5 64.30 117.5 64.80 64.9 65.30 64.9 65.80 91.2 66.30 117.5 66.80 38.6 67.30 91.2 67.80 117.5 68.80 117.5 69.30 91.2 69.80 117.5 70.80 117.5 71.30 91.2 71.80 91.2 72.30 143.8 72.80 91.2 77.80 91.2 78.30 38.6 78.80 64.9 79.30 64.9 79.80 117.5 80.30 91.2 80.80 64.9 81.30 38.6 81.80 38.6 82.30 91.2 82.80 38.6 83.30 38.6 83.80 64.9 84.30 91.2 84.80 64.9 85.30 117.5 85.80 117.5 86.30 64.9 86.80 91.2 87.30 38.6 87.80 91.2 88.30 64.9 88.80 91.2 89.80 91.2 90.30 64.9 90.80 91.2 91.30 117.5 91.80 91.2 92.30 91.2 92.80 117.5 93.30 91.2 94.80 91.2 95.30 64.9 95.80 117.5 96.30 91.2 96.80 91.2 97.30 64.9 97.80 38.6 98.30 38.6 98.80 91.2 99.30 64.9 99.80 64.9 100.30 38.6 100.80 64.9 101.30 38.6 101.80 38.6 102.30 64.9 102.80 91.2 103.30 38.6 103.80 64.9 104.30 64.9 104.80 91.2 106.30 91.2 106.80 64.9 108.30 64.9 108.80 117.5 109.30 64.9 109.80 117.5 110.30 117.5 110.80 91.2 111.30 64.9 112.80 64.9 113.30 38.6 113.80 91.2 114.30 38.6 114.80 38.6 115.30 64.9 115.80 64.9 116.30 38.6 116.80 91.2 117.30 64.9 117.80 91.2 118.30 91.2 118.80 64.9 119.80 64.9 120.30 117.5 121.30 117.5 121.80 91.2 122.80 91.2 123.30 38.6 123.80 91.2 124.30 64.9 124.80 64.9 125.30 38.6 125.80 64.9 126.30 91.2 126.80 38.6 127.30 64.9 127.80 64.9 128.30 38.6 128.80 91.2 129.30 64.9 130.80 64.9 131.30 91.2 132.30 91.2 132.80 64.9 133.80 64.9 134.30 91.2 134.80 91.2 135.30 117.5 135.80 64.9 136.30 64.9 136.80 91.2 137.30 64.9 137.80 38.6 138.30 91.2 138.80 64.9 139.30 64.9 139.80 38.6 140.30 91.2 140.80 38.6 141.30 38.6 141.80 91.2 142.30 38.6 142.80 64.9 143.30 64.9 143.80 38.6 144.30 91.2 144.80 64.9 145.30 38.6 145.80 91.2 146.30 117.5 146.80 64.9 147.30 91.2 147.80 38.6 148.30 64.9 148.80 91.2 149.30 91.2 149.80 38.6 150.30 64.9 150.80 91.2 151.80 91.2 152.30 64.9 152.80 64.9 153.30 38.6 153.80 64.9 154.30 38.6 154.80 91.2 155.30 38.6 155.80 64.9 156.30 91.2 156.80 64.9 157.30 38.6 157.80 91.2 158.30 64.9 158.80 91.2 159.30 91.2 159.80 38.6 160.30 64.9 160.80 38.6 161.30 64.9 161.80 64.9 162.30 38.6 162.80 38.6 163.30 117.5 163.80 91.2 164.30 64.9 164.80 117.5 165.30 64.9 165.80 64.9 166.30 38.6 166.80 38.6 167.30 64.9 167.80 38.6 168.30 91.2 168.80 64.9 169.30 64.9 169.80 117.5 170.30 91.2 170.80 91.2 171.30 38.6 172.30 38.6 172.80 64.9 173.30 64.9 173.80 91.2 174.30 64.9 174.80 91.2 175.30 91.2 175.80 38.6 176.30 117.5 176.80 64.9 177.30 64.9 177.80 117.5 178.30 64.9 178.80 64.9 179.30 91.2 179.80 38.6 180.30 64.9 180.80 64.9 181.30 91.2 181.80 117.5 182.30 91.2 182.80 117.5 183.30 64.9 183.80 64.9 184.30 38.6 184.80 117.5 185.30 64.9 185.80 117.5 186.30 64.9 186.80 91.2 187.30 117.5 187.80 117.5 188.30 64.9 188.80 38.6 189.30 91.2 189.80 64.9 190.30 64.9 190.80 91.2 191.30 64.9 191.80 38.6 192.30 38.6 192.80 64.9 193.30 91.2 193.80 38.6 194.30 64.9 194.80 38.6 195.30 64.9 196.30 64.9 196.80 91.2 197.30 64.9 197.80 38.6 198.30 38.6 198.80 91.2 199.30 64.9 199.80 64.9 200.30 91.2 200.80 64.9 201.80 64.9 202.30 38.6 202.80 91.2 204.30 91.2 204.80 38.6 205.30 64.9 205.80 38.6 206.30 38.6 206.80 64.9 207.30 64.9 207.80 91.2 208.30 91.2 208.80 64.9 209.30 38.6 209.80 64.9 210.30 91.2 210.80 117.5 211.30 38.6 211.80 91.2 212.30 91.2 212.80 38.6 213.80 38.6 214.30 91.2 214.80 64.9 215.30 91.2 215.80 64.9 216.30 91.2 216.80 91.2 217.30 64.9 218.30 64.9 218.80 38.6 219.30 64.9 219.80 91.2 221.30 91.2 221.80 117.5 222.30 170.1 222.80 64.9 223.30 91.2 224.30 91.2 224.80 64.9 225.30 91.2 225.80 91.2 226.30 64.9 226.80 91.2 227.30 91.2 227.80 64.9 228.30 38.6 228.80 91.2 229.30 64.9 229.80 38.6 230.30 64.9 230.80 91.2 231.30 64.9 231.80 64.9 232.30 38.6 232.80 38.6 233.30 64.9 233.80 64.9 234.30 117.5 234.80 38.6 235.30 38.6 235.80 91.2 236.30 38.6 236.80 117.5 237.30 64.9 237.80 64.9 238.30 91.2 239.30 91.2 239.80 64.9 240.30 91.2 240.80 64.9 241.30 91.2 241.80 91.2 242.30 117.5 242.80 64.9 243.30 38.6 243.80 91.2 244.30 38.6 244.80 64.9 245.30 91.2 245.80 64.9 246.30 38.6 247.30 38.6 247.80 64.9 248.30 64.9 248.80 91.2 249.30 64.9 251.30 64.9 251.80 38.6 252.30 38.6 252.80 64.9 253.30 117.5 253.80 91.2 254.30 38.6 254.80 38.6 255.30 64.9 255.80 117.5 256.30 64.9 256.80 64.9 257.30 38.6 257.80 38.6 258.30 91.2 258.80 64.9 259.30 38.6 259.80 91.2 260.30 64.9 260.80 64.9 261.30 143.8 261.80 64.9 262.30 38.6 262.80 64.9 264.80 64.9 265.30 91.2 265.80 64.9 266.30 91.2 266.80 91.2 267.30 117.5 267.80 38.6 268.30 64.9 268.80 38.6 269.30 64.9 269.80 117.5 270.30 38.6 270.80 91.2 271.30 64.9 271.80 64.9 272.30 91.2 272.80 91.2 273.30 64.9 273.80 91.2 274.80 91.2 275.30 64.9 275.80 38.6 276.30 91.2 276.80 64.9 277.30 64.9 277.80 38.6 278.30 64.9 279.80 64.9 280.30 91.2 280.80 38.6 281.30 64.9 281.80 38.6 282.30 38.6 282.80 91.2 283.30 64.9 283.80 64.9 284.30 91.2 284.80 91.2 285.30 64.9 285.80 64.9 286.30 38.6 286.80 91.2 287.30 91.2 287.80 64.9 288.30 64.9 288.80 91.2 289.30 38.6 289.80 64.9 290.30 64.9 290.80 117.5 291.30 117.5 291.80 64.9 292.30 64.9 292.80 91.2 293.80 91.2 294.30 38.6 294.80 91.2 295.30 38.6 295.80 38.6 296.30 64.9 296.80 91.2 297.30 64.9 297.80 64.9 298.30 38.6 299.30 38.6 299.80 64.9 302.80 64.9 303.30 38.6 303.80 91.2 304.80 91.2 305.30 64.9 305.80 117.5 306.30 91.2 306.80 91.2 307.30 64.9 307.80 91.2 308.30 64.9 308.80 91.2 309.30 38.6 309.80 64.9 311.30 64.9 311.80 91.2 312.30 38.6 313.80 38.6 314.30 64.9 314.80 38.6 315.30 91.2 315.80 91.2 316.30 38.6 316.80 64.9 317.30 38.6 317.80 91.2 318.30 91.2 318.80 64.9 319.30 64.9 319.80 38.6 320.30 91.2 320.80 64.9 321.30 64.9 321.80 170.1 322.30 64.9 322.80 64.9 323.30 38.6 323.80 64.9 324.30 38.6 325.30 38.6 325.80 64.9 326.30 91.2 326.80 64.9 327.30 38.6 327.80 64.9 328.30 117.5 328.80 117.5 329.30 64.9 329.80 38.6 330.30 91.2 330.80 38.6 331.30 38.6 331.80 64.9 332.30 64.9 332.80 117.5 333.30 64.9 333.80 117.5 334.30 91.2 335.30 91.2 335.80 64.9 336.80 64.9 337.30 91.2 337.80 38.6 338.30 91.2 338.80 38.6 339.30 91.2 339.80 38.6 340.30 91.2 340.80 91.2 341.30 64.9 342.30 64.9 342.80 143.8 343.30 91.2 344.30 91.2 344.80 38.6 345.30 64.9 345.80 91.2 346.30 91.2 346.80 38.6 347.30 91.2 347.80 91.2 348.30 64.9 348.80 143.8 349.30 91.2 349.80 38.6 350.30 64.9 350.80 91.2 351.30 38.6 351.80 91.2 352.30 143.8 352.80 38.6 353.30 64.9 354.80 64.9 355.30 38.6 355.80 64.9 356.30 91.2 356.80 91.2 357.30 64.9 357.80 91.2 358.30 117.5 358.80 38.6 359.30 64.9 359.80 91.2 360.30 117.5 360.80 64.9 361.30 91.2 361.80 64.9 362.30 38.6 362.80 91.2 363.30 38.6 364.30 38.6 364.80 91.2 365.30 91.2 365.80 117.5 366.30 64.9 366.80 117.5 367.30 38.6 367.80 64.9 368.30 64.9 368.80 91.2 369.30 64.9 369.80 91.2 370.30 117.5 370.80 117.5 371.30 64.9 371.80 64.9 372.30 38.6 372.80 64.9 373.30 64.9 373.80 91.2 374.30 64.9 375.30 64.9 375.80 91.2 376.30 64.9 376.80 117.5 377.30 117.5 377.80 38.6 378.30 170.1 378.80 64.9 379.30 64.9 379.80 91.2 380.30 64.9 380.80 91.2 381.30 91.2 381.80 64.9 382.30 64.9 382.80 117.5 383.30 91.2 383.80 38.6 384.30 38.6 384.80 91.2 385.30 38.6 385.80 64.9 386.30 38.6 386.80 91.2 387.30 91.2 387.80 38.6 388.30 38.6 388.80 91.2 389.30 143.8 389.80 64.9 391.30 64.9 391.80 38.6 392.30 143.8 392.80 91.2 393.30 64.9 393.80 38.6 394.30 64.9 395.30 64.9 395.80 38.6 396.30 91.2 396.80 91.2 397.30 38.6 397.80 64.9 398.30 38.6 398.80 91.2 399.30 38.6 399.80 91.2 400.30 64.9 400.80 38.6 401.30 117.5 401.80 64.9 402.30 143.8 403.30 143.8 403.80 91.2 404.30 38.6 404.80 64.9 405.30 38.6 405.80 64.9 406.30 38.6 406.80 64.9 407.30 143.8 407.80 91.2 408.30 38.6 408.80 117.5 409.30 91.2 409.80 117.5 410.30 64.9 410.80 143.8 411.30 117.5 411.80 117.5 412.30 143.8 412.80 38.6 413.30 117.5 413.80 38.6 414.30 91.2 414.80 64.9 415.30 38.6 415.80 143.8 416.30 38.6 416.80 64.9 417.30 91.2 417.80 64.9 418.30 64.9 418.80 38.6 419.30 64.9 419.80 64.9 420.30 170.1 420.80 91.2 421.30 143.8 421.80 38.6 423.30 38.6 423.80 64.9 424.30 91.2 424.80 117.5 425.30 64.9 425.80 38.6 426.30 117.5 426.80 38.6 427.30 38.6 427.80 64.9 428.30 64.9 428.80 38.6 429.30 64.9 430.30 64.9 430.80 170.1 431.30 38.6 431.80 117.5 432.30 64.9 432.80 91.2 433.30 117.5 433.80 91.2 434.30 117.5 434.80 38.6 435.30 64.9 435.80 38.6 436.30 38.6 436.80 117.5 437.30 91.2 437.80 38.6 438.30 64.9 439.30 64.9 439.80 38.6 440.30 64.9 440.80 38.6 441.30 38.6 441.80 91.2 442.30 38.6 442.80 38.6 443.30 91.2 443.80 38.6 444.30 38.6 444.80 91.2 445.30 38.6 445.80 38.6 446.30 64.9 446.80 143.8 447.30 143.8 447.80 91.2 448.30 38.6 448.80 38.6 449.30 91.2 449.80 64.9 450.30 91.2 450.80 117.5 451.30 117.5 451.80 38.6 452.30 143.8 452.80 64.9 453.30 64.9 453.80 143.8 454.30 143.8 454.80 117.5 455.30 64.9 455.80 117.5 456.30 64.9 456.80 64.9 457.30 117.5 457.80 170.1 458.30 91.2 458.80 117.5 459.30 64.9 459.80 117.5 460.30 38.6 460.80 91.2 461.30 91.2 461.80 38.6 462.30 170.1 462.80 117.5 463.30 117.5 463.80 91.2 464.30 91.2 464.80 64.9 465.30 64.9 465.80 117.5 466.30 117.5 466.80 170.1 467.30 117.5 467.80 38.6 468.30 64.9 468.80 91.2 469.30 64.9 469.80 143.8 470.30 38.6 470.80 38.6 471.30 117.5 471.80 38.6 472.30 38.6 472.80 64.9 473.80 64.9 474.30 170.1 474.80 91.2 475.30 91.2 475.80 38.6 476.30 64.9 476.80 38.6 477.30 38.6 477.80 64.9 478.30 64.9 478.80 91.2 479.30 64.9 479.80 38.6 480.30 91.2 480.80 64.9 481.30 170.1 481.80 64.9 482.80 64.9 483.30 143.8 483.80 91.2 484.30 64.9 484.80 64.9 485.30 91.2 485.80 64.9 486.80 64.9 487.30 91.2 487.80 117.5 488.30 170.1 488.80 64.9 489.30 64.9 489.80 38.6 490.30 38.6" stroke="#e588e6" stroke-width="1.5" fill="none" stroke-linejoin="bevel" stroke-miterlimit="4"/>
<path d="M46.30 170.1 49.30 170.1 49.80 143.8 50.30 117.5 50.80 170.1 52.30 170.1 52.80 143.8 53.30 170.1 56.80 170.1 57.30 143.8 57.80 117.5 58.30 170.1 58.80 170.1 59.30 143.8 59.80 143.8 60.30 170.1 61.30 170.1 61.80 143.8 62.30 91.2 62.80 91.2 63.30 117.5 63.80 170.1 64.30 117.5 64.80 117.5 65.30 170.1 65.80 170.1 66.30 64.9 66.80 143.8 67.30 64.9 67.80 170.1 68.30 143.8 69.30 143.8 69.80 91.2 70.30 117.5 70.80 91.2 71.80 91.2 72.30 64.9 72.80 64.9 73.30 91.2 73.80 91.2 74.30 64.9 75.30 64.9 75.80 91.2 76.30 170.1 76.80 91.2 77.30 170.1 77.80 64.9 78.30 91.2 78.80 64.9 79.30 91.2 79.80 64.9 80.30 117.5 80.80 38.6 81.30 38.6 81.80 64.9 82.30 64.9 82.80 91.2 83.30 117.5 83.80 91.2 84.30 64.9 84.80 64.9 85.30 38.6 85.80 64.9 86.30 91.2 86.80 91.2 87.30 38.6 87.80 64.9 88.30 64.9 88.80 91.2 89.30 117.5 89.80 38.6 90.30 117.5 90.80 64.9 91.30 91.2 91.80 91.2 92.30 64.9 92.80 91.2 93.30 91.2 93.80 38.6 94.30 91.2 94.80 91.2 95.30 64.9 95.80 38.6 96.30 117.5 96.80 91.2 97.30 38.6 97.80 143.8 98.30 91.2 98.80 38.6 99.30 64.9 99.80 38.6 100.30 117.5 100.80 64.9 102.30 64.9 102.80 91.2 103.30 64.9 103.80 117.5 104.30 38.6 104.80 91.2 105.30 143.8 105.80 38.6 106.30 91.2 106.80 64.9 107.30 64.9 107.80 91.2 108.30 64.9 108.80 64.9 109.30 38.6 109.80 38.6 110.30 64.9 110.80 38.6 111.30 91.2 112.30 91.2 112.80 38.6 113.30 64.9 113.80 38.6 114.30 64.9 114.80 38.6 115.30 38.6 115.80 117.5 116.30 38.6 116.80 91.2 117.30 64.9 117.80 64.9 118.30 91.2 118.80 38.6 119.30 143.8 119.80 91.2 120.30 64.9 120.80 91.2 121.30 64.9 121.80 91.2 122.30 64.9 122.80 38.6 123.30 91.2 123.80 38.6 124.80 38.6 125.30 64.9 125.80 38.6 126.30 64.9 126.80 38.6 127.30 64.9 128.30 64.9 128.80 38.6 130.30 38.6 130.80 64.9 131.30 38.6 131.80 91.2 132.30 38.6 133.30 38.6 133.80 91.2 134.30 64.9 134.80 64.9 135.30 117.5 135.80 64.9 136.30 64.9 136.80 38.6 137.30 117.5 137.80 64.9 138.30 91.2 138.80 117.5 139.30 143.8 139.80 38.6 140.80 38.6 141.30 64.9 141.80 64.9 142.30 117.5 142.80 64.9 143.30 64.9 143.80 91.2 144.30 64.9 144.80 91.2 145.30 38.6 145.80 38.6 146.30 64.9 148.30 64.9 148.80 38.6 149.30 117.5 149.80 38.6 150.30 64.9 150.80 64.9 151.30 38.6 151.80 91.2 152.30 117.5 152.80 64.9 153.30 38.6 154.30 38.6 154.80 64.9 155.30 117.5 155.80 38.6 156.30 64.9 156.80 91.2 157.30 143.8 157.80 38.6 158.30 38.6 158.80 117.5 159.30 64.9 159.80 38.6 160.80 38.6 161.30 91.2 161.80 64.9 162.30 64.9 162.80 38.6 163.30 64.9 163.80 64.9 164.30 38.6 164.80 64.9 165.30 91.2 165.80 38.6 166.30 91.2 166.80 38.6 167.80 38.6 168.30 64.9 168.80 38.6 169.30 38.6 169.80 64.9 170.30 38.6 170.80 64.9 171.30 38.6 171.80 64.9 172.30 38.6 172.80 64.9 173.30 38.6 173.80 64.9 174.30 38.6 174.80 91.2 175.30 38.6 175.80 117.5 176.30 64.9 176.80 91.2 177.30 64.9 177.80 38.6 179.30 38.6 179.80 64.9 180.30 64.9 180.80 91.2 181.30 38.6 181.80 117.5 182.30 64.9 182.80 38.6 183.30 64.9 183.80 38.6 185.30 38.6 185.80 64.9 186.30 38.6 186.80 64.9 187.30 38.6 187.80 38.6 188.30 64.9 189.30 64.9 189.80 38.6 190.30 91.2 190.80 64.9 191.30 38.6 191.80 64.9 192.30 91.2 193.80 91.2 194.30 64.9 194.80 91.2 195.30 64.9 196.80 64.9 197.30 38.6 197.80 64.9 198.30 143.8 198.80 64.9 199.30 170.1 199.80 38.6 200.30 91.2 200.80 38.6 201.80 38.6 202.30 91.2 202.80 38.6 203.30 38.6 203.80 64.9 204.30 38.6 204.80 143.8 205.30 38.6 205.80 170.1 206.30 91.2 206.80 64.9 207.30 64.9 207.80 38.6 208.30 64.9 208.80 117.5 209.30 64.9 209.80 64.9 210.30 38.6 210.80 91.2 211.30 38.6 211.80 91.2 212.30 91.2 212.80 38.6 213.30 91.2 213.80 64.9 214.30 117.5 214.80 38.6 215.30 64.9 215.80 91.2 216.30 117.5 216.80 38.6 217.30 64.9 217.80 38.6 218.30 38.6 218.80 91.2 219.30 38.6 219.80 91.2 220.30 64.9 220.80 91.2 221.30 38.6 221.80 64.9 223.30 64.9 223.80 91.2 224.30 38.6 224.80 64.9 225.80 64.9 226.30 170.1 226.80 38.6 227.30 91.2 227.80 64.9 228.30 91.2 228.80 38.6 229.30 64.9 229.80 64.9 230.30 91.2 230.80 38.6 232.30 38.6 232.80 117.5 233.30 64.9 233.80 38.6 235.30 38.6 235.80 64.9 236.80 64.9 237.30 38.6 237.80 64.9 238.30 38.6 238.80 91.2 239.30 38.6 239.80 117.5 240.30 38.6 240.80 91.2 241.30 38.6 241.80 64.9 242.80 64.9 243.30 38.6 243.80 91.2 244.30 64.9 244.80 91.2 245.30 38.6 245.80 38.6 246.30 64.9 246.80 38.6 247.30 38.6 247.80 117.5 248.30 64.9 248.80 38.6 250.30 38.6 250.80 64.9 251.30 38.6 251.80 91.2 252.30 38.6 252.80 64.9 253.30 38.6 253.80 91.2 254.30 64.9 254.80 91.2 255.80 91.2 256.30 38.6 256.80 38.6 257.30 64.9 257.80 38.6 258.80 38.6 259.30 143.8 259.80 64.9 260.30 38.6 261.80 38.6 262.30 64.9 262.80 64.9 263.30 38.6 263.80 91.2 264.30 38.6 264.80 38.6 265.30 170.1 265.80 91.2 266.30 64.9 267.30 64.9 267.80 91.2 268.30 38.6 268.80 64.9 269.30 38.6 269.80 64.9 270.30 170.1 270.80 64.9 271.30 117.5 271.80 91.2 272.30 91.2 272.80 64.9 273.30 117.5 273.80 38.6 274.30 91.2 274.80 38.6 275.30 91.2 275.80 38.6 276.30 170.1 276.80 38.6 277.30 38.6 277.80 64.9 278.30 38.6 278.80 38.6 279.30 64.9 279.80 38.6 280.30 64.9 280.80 117.5 281.30 64.9 282.30 64.9 282.80 91.2 283.30 64.9 285.30 64.9 285.80 38.6 286.30 38.6 286.80 91.2 287.30 64.9 287.80 38.6 288.30 38.6 288.80 91.2 289.30 91.2 289.80 38.6 290.30 64.9 290.80 91.2 291.30 38.6 291.80 64.9 292.30 38.6 292.80 64.9 293.30 64.9 293.80 143.8 294.30 64.9 294.80 64.9 295.30 91.2 295.80 38.6 297.30 38.6 297.80 64.9 298.30 38.6 298.80 64.9 299.30 38.6 301.80 38.6 302.30 64.9 302.80 64.9 303.30 38.6 303.80 38.6 304.30 64.9 304.80 64.9 305.30 91.2 305.80 38.6 306.30 38.6 306.80 91.2 307.30 64.9 307.80 38.6 308.80 38.6 309.30 64.9 309.80 38.6 310.30 64.9 310.80 38.6 311.30 91.2 311.80 64.9 313.30 64.9 313.80 38.6 314.30 64.9 314.80 38.6 315.30 38.6 315.80 64.9 316.30 38.6 318.30 38.6 318.80 117.5 319.30 38.6 319.80 38.6 320.30 64.9 320.80 38.6 321.30 64.9 321.80 38.6 322.30 64.9 322.80 91.2 323.30 64.9 323.80 38.6 324.30 38.6 324.80 91.2 325.30 64.9 325.80 64.9 326.30 38.6 326.80 64.9 327.30 64.9 327.80 38.6 328.30 38.6 328.80 64.9 329.30 38.6 329.80 117.5 330.30 64.9 330.80 91.2 331.30 38.6 331.80 64.9 332.30 91.2 332.80 64.9 333.30 64.9 333.80 91.2 334.30 64.9 334.80 91.2 335.30 91.2 335.80 64.9 336.30 64.9 336.80 38.6 337.30 38.6 337.80 64.9 338.30 38.6 340.30 38.6 340.80 64.9 341.30 38.6 341.80 117.5 342.30 117.5 342.80 38.6 343.30 64.9 343.80 64.9 344.30 91.2 344.80 117.5 345.30 64.9 345.80 91.2 346.30 38.6 346.80 91.2 347.30 91.2 347.80 38.6 348.30 38.6 348.80 64.9 349.30 64.9 349.80 170.1 350.30 64.9 350.80 38.6 351.80 38.6 352.30 64.9 352.80 38.6 353.30 38.6 353.80 64.9 354.30 64.9 354.80 38.6 355.30 38.6 355.80 64.9 356.30 64.9 356.80 38.6 357.30 91.2 357.80 117.5 358.30 64.9 358.80 38.6 359.30 117.5 359.80 64.9 360.30 64.9 360.80 91.2 361.30 64.9 361.80 38.6 362.30 64.9 362.80 117.5 363.30 38.6 363.80 64.9 364.80 64.9 365.30 38.6 365.80 38.6 366.30 64.9 366.80 38.6 367.30 91.2 367.80 91.2 368.30 64.9 368.80 38.6 369.30 64.9 369.80 38.6 375.30 38.6 375.80 64.9 376.30 38.6 377.30 38.6 377.80 64.9 378.30 38.6 379.80 38.6 380.30 64.9 380.80 64.9 381.30 38.6 381.80 117.5 382.30 64.9 382.80 38.6 383.30 38.6 383.80 64.9 384.30 38.6 387.30 38.6 387.80 91.2 388.30 38.6 388.80 38.6 389.30 64.9 389.80 64.9 390.30 38.6 391.80 38.6 392.30 64.9 392.80 38.6 393.80 38.6 394.30 64.9 395.80 64.9 396.30 91.2 396.80 64.9 397.30 38.6 398.30 38.6 398.80 91.2 399.30 38.6 400.30 38.6 400.80 64.9 401.30 38.6 402.30 38.6 402.80 64.9 403.80 64.9 404.30 38.6 405.30 38.6 405.80 64.9 406.30 38.6 406.80 38.6 407.30 91.2 407.80 64.9 408.30 64.9 408.80 38.6 409.30 64.9 409.80 91.2 410.30 64.9 411.80 64.9 412.30 38.6 412.80 91.2 413.30 38.6 413.80 64.9 414.30 91.2 414.80 64.9 415.30 38.6 415.80 64.9 416.30 64.9 416.80 38.6 417.30 64.9 417.80 38.6 418.30 64.9 418.80 38.6 419.30 117.5 419.80 64.9 420.30 91.2 420.80 38.6 421.30 38.6 421.80 64.9 422.30 91.2 422.80 64.9 423.30 64.9 423.80 38.6 424.30 38.6 424.80 64.9 425.30 91.2 425.80 38.6 426.30 64.9 426.80 64.9 427.30 38.6 427.80 64.9 428.30 64.9 428.80 38.6 430.80 38.6 431.30 64.9 431.80 38.6 432.30 64.9 432.80 38.6 433.30 64.9 433.80 64.9 434.30 91.2 434.80 91.2 435.30 64.9 435.80 38.6 436.80 38.6 437.30 64.9 437.80 38.6 439.30 38.6 439.80 91.2 440.30 64.9 441.30 64.9 441.80 38.6 442.30 64.9 442.80 64.9 443.30 91.2 443.80 64.9 444.30 38.6 444.80 91.2 445.30 38.6 445.80 38.6 446.30 64.9 446.80 64.9 447.30 38.6 448.80 38.6 449.30 117.5 449.80 38.6 450.30 64.9 450.80 38.6 451.30 38.6 451.80 64.9 452.30 38.6 452.80 64.9 453.30 38.6 453.80 38.6 454.30 64.9 454.80 38.6 455.80 38.6 456.30 64.9 456.80 38.6 457.80 38.6 458.30 64.9 458.80 38.6 459.30 64.9 459.80 38.6 460.80 38.6 461.30 64.9 462.30 64.9 462.80 91.2 463.30 64.9 463.80 38.6 464.30 38.6 464.80 64.9 465.30 64.9 465.80 38.6 466.30 64.9 466.80 64.9 467.30 38.6 467.80 91.2 468.30 64.9 468.80 91.2 469.30 64.9 469.80 38.6 470.30 38.6 470.80 64.9 471.30 64.9 471.80 38.6 472.80 38.6 473.30 64.9 473.80 64.9 474.30 38.6 474.80 38.6 475.30 64.9 475.80 38.6 476.30 143.8 476.80 38.6 477.30 64.9 477.80 38.6 478.80 38.6 479.30 117.5 479.80 64.9 480.30 64.9 480.80 38.6 481.30 38.6 481.80 64.9 482.30 91.2 482.80 64.9 483.30 38.6 483.80 64.9 484.80 64.9 485.30 38.6 486.30 38.6 486.80 64.9 487.30 38.6" stroke="#35e0de" stroke-width="1.5" fill="none" stroke-linejoin="bevel" stroke-miterlimit="4"/>
<path d="M46.30 170.1 46.80 170.1 47.30 143.8 47.80 170.1 48.80 170.1 49.30 143.8 49.80 170.1 51.80 170.1 52.30 143.8 52.80 170.1 53.30 143.8 53.80 143.8 54.30 170.1 54.80 143.8 55.30 143.8 55.80 170.1 57.30 170.1 57.80 143.8 58.30 143.8 58.80 170.1 59.30 143.8 59.80 143.8 60.30 170.1 60.80 170.1 61.30 143.8 61.80 143.8 62.30 91.2 62.80 170.1 63.30 91.2 63.80 170.1 64.30 143.8 64.80 143.8 65.30 117.5 65.80 117.5 66.30 143.8 66.80 91.2 67.30 91.2 67.80 117.5 68.80 117.5 69.30 143.8 69.80 91.2 70.30 117.5 70.80 38.6 71.30 117.5 71.80 170.1 72.30 91.2 72.80 117.5 73.30 117.5 73.80 38.6 74.30 91.2 74.80 117.5 75.30 117.5 75.80 91.2 76.30 64.9 76.80 117.5 77.30 117.5 77.80 143.8 78.30 91.2 78.80 117.5 79.30 91.2 79.80 170.1 80.30 91.2 81.30 91.2 81.80 38.6 82.30 64.9 82.80 91.2 83.30 117.5 83.80 91.2 84.80 91.2 85.30 64.9 85.80 91.2 86.30 170.1 86.80 91.2 87.30 117.5 87.80 91.2 88.30 64.9 88.80 64.9 89.30 143.8 89.80 143.8 90.30 117.5 90.80 117.5 91.30 91.2 91.80 38.6 92.30 91.2 92.80 91.2 93.30 64.9 93.80 91.2 94.30 64.9 94.80 91.2 95.80 91.2 96.30 143.8 96.80 91.2 97.30 64.9 97.80 91.2 98.30 64.9 98.80 64.9 99.30 117.5 99.80 64.9 100.30 91.2 100.80 143.8 101.30 64.9 101.80 117.5 102.30 91.2 103.30 91.2 103.80 64.9 104.30 38.6 104.80 64.9 107.30 64.9 107.80 117.5 108.30 64.9 109.30 64.9 109.80 117.5 110.30 64.9 110.80 91.2 111.30 64.9 111.80 38.6 112.30 91.2 112.80 64.9 113.30 38.6 113.80 64.9 114.80 64.9 115.30 117.5 115.80 64.9 116.30 91.2 116.80 91.2 117.30 64.9 118.80 64.9 119.30 117.5 119.80 170.1 120.30 38.6 120.80 91.2 121.30 64.9 121.80 91.2 122.30 91.2 122.80 64.9 124.30 64.9 124.80 91.2 125.30 64.9 126.30 64.9 126.80 91.2 127.80 91.2 128.30 117.5 128.80 117.5 129.30 64.9 129.80 143.8 130.30 64.9 130.80 64.9 131.30 117.5 131.80 64.9 133.80 64.9 134.30 117.5 134.80 64.9 135.30 143.8 135.80 117.5 136.30 91.2 136.80 38.6 137.30 64.9 137.80 117.5 138.30 38.6 139.30 38.6 139.80 64.9 140.30 91.2 140.80 38.6 141.30 38.6 141.80 64.9 142.80 64.9 143.30 91.2 143.80 91.2 144.30 117.5 144.80 170.1 145.30 64.9 145.80 64.9 146.30 91.2 146.80 143.8 147.30 170.1 147.80 64.9 148.30 117.5 148.80 64.9 149.30 91.2 149.80 91.2 150.30 64.9 150.80 38.6 151.30 91.2 151.80 64.9 152.30 91.2 152.80 64.9 153.30 64.9 153.80 38.6 154.30 91.2 154.80 91.2 155.30 64.9 155.80 64.9 156.30 38.6 156.80 64.9 157.30 64.9 157.80 91.2 158.30 64.9 158.80 64.9 159.30 117.5 159.80 91.2 160.30 64.9 160.80 91.2 161.30 91.2 161.80 38.6 162.30 64.9 162.80 38.6 163.30 64.9 163.80 38.6 166.30 38.6 166.80 64.9 167.30 38.6 167.80 91.2 168.30 38.6 168.80 38.6 169.30 64.9 169.80 38.6 170.30 38.6 170.80 91.2 171.30 91.2 171.80 38.6 172.30 38.6 172.80 91.2 173.30 38.6 173.80 64.9 174.30 38.6 174.80 64.9 175.30 64.9 175.80 38.6 176.30 64.9 176.80 91.2 177.30 38.6 177.80 64.9 178.30 91.2 178.80 64.9 179.30 64.9 179.80 91.2 180.30 64.9 180.80 64.9 181.30 38.6 181.80 91.2 182.30 143.8 182.80 64.9 183.30 64.9 183.80 91.2 184.30 91.2 184.80 64.9 185.30 64.9 185.80 91.2 186.30 64.9 186.80 64.9 187.30 38.6 187.80 64.9 188.30 38.6 188.80 64.9 189.80 64.9 190.30 38.6 190.80 64.9 193.30 64.9 193.80 91.2 194.30 117.5 194.80 91.2 195.30 64.9 195.80 38.6 196.30 64.9 196.80 64.9 197.30 91.2 197.80 64.9 198.30 64.9 198.80 170.1 199.30 91.2 199.80 143.8 200.30 38.6 200.80 64.9 201.30 91.2 201.80 38.6 202.30 64.9 202.80 38.6 203.30 38.6 203.80 64.9 204.30 38.6 204.80 64.9 205.30 38.6 205.80 38.6 206.30 64.9 206.80 91.2 207.30 64.9 207.80 64.9 208.30 170.1 208.80 91.2 209.30 64.9 209.80 91.2 210.30 64.9 210.80 117.5 211.30 117.5 211.80 38.6 212.30 91.2 212.80 64.9 213.80 64.9 214.30 38.6 215.30 38.6 215.80 91.2 216.30 38.6 217.30 38.6 217.80 64.9 218.30 64.9 218.80 38.6 219.30 91.2 219.80 117.5 220.30 64.9 220.80 64.9 221.30 91.2 221.80 91.2 222.30 64.9 222.80 117.5 223.30 91.2 223.80 64.9 225.30 64.9 225.80 91.2 226.30 64.9 226.80 117.5 227.30 64.9 227.80 64.9 228.30 91.2 228.80 64.9 229.30 91.2 229.80 117.5 230.30 91.2 230.80 170.1 231.30 117.5 231.80 64.9 232.80 64.9 233.30 117.5 233.80 91.2 234.30 91.2 234.80 64.9 235.30 64.9 235.80 91.2 236.30 64.9 237.30 64.9 237.80 117.5 238.30 64.9 238.80 64.9 239.30 38.6 239.80 38.6 240.30 91.2 241.30 91.2 241.80 64.9 242.30 64.9 242.80 38.6 244.30 38.6 244.80 91.2 245.30 38.6 246.30 38.6 246.80 170.1 247.30 91.2 247.80 38.6 248.30 38.6 248.80 64.9 250.30 64.9 250.80 91.2 251.30 64.9 251.80 64.9 252.30 91.2 252.80 64.9 253.30 64.9 253.80 38.6 254.30 91.2 254.80 64.9 255.30 143.8 255.80 64.9 256.30 91.2 256.80 64.9 257.30 170.1 257.80 64.9 258.30 143.8 258.80 64.9 261.30 64.9 261.80 91.2 262.30 64.9 262.80 64.9 263.30 91.2 263.80 64.9 264.30 64.9 264.80 38.6 265.30 91.2 265.80 64.9 266.30 91.2 266.80 64.9 267.30 38.6 267.80 64.9 268.30 91.2 268.80 64.9 269.30 91.2 269.80 91.2 270.30 117.5 270.80 64.9 271.30 91.2 271.80 64.9 273.30 64.9 273.80 91.2 274.30 38.6 275.30 38.6 275.80 91.2 276.30 64.9 276.80 38.6 277.30 38.6 277.80 91.2 278.30 38.6 278.80 117.5 279.30 64.9 279.80 38.6 280.80 38.6 281.30 91.2 281.80 64.9 284.80 64.9 285.30 91.2 285.80 38.6 287.80 38.6 288.30 91.2 288.80 38.6 290.80 38.6 291.30 64.9 291.80 38.6 294.80 38.6 295.30 64.9 295.80 117.5 296.30 38.6 296.80 117.5 297.30 117.5 297.80 64.9 298.30 91.2 298.80 38.6 299.30 64.9 299.80 38.6 300.30 64.9 301.30 64.9 301.80 91.2 302.30 91.2 302.80 38.6 304.30 38.6 304.80 91.2 305.30 38.6 305.80 64.9 306.30 38.6 306.80 38.6 307.30 64.9 307.80 38.6 309.30 38.6 309.80 64.9 310.30 38.6 310.80 64.9 311.30 64.9 311.80 91.2 312.30 64.9 312.80 64.9 313.30 91.2 313.80 64.9 314.30 38.6 315.30 38.6 315.80 91.2 316.30 38.6 316.80 64.9 317.30 64.9 317.80 38.6 318.30 64.9 318.80 64.9 319.30 38.6 320.80 38.6 321.30 64.9 321.80 64.9 322.30 91.2 322.80 38.6 325.80 38.6 326.30 91.2 326.80 38.6 327.80 38.6 328.30 64.9 328.80 38.6 332.30 38.6 332.80 64.9 333.30 38.6 333.80 64.9 334.30 38.6 335.30 38.6 335.80 91.2 336.30 38.6 336.80 38.6 337.30 64.9 337.80 38.6 340.30 38.6 340.80 64.9 341.30 64.9 341.80 38.6 343.30 38.6 343.80 64.9 344.30 38.6 344.80 64.9 345.30 64.9 345.80 38.6 346.30 38.6 346.80 64.9 347.30 38.6 347.80 91.2 348.30 38.6 348.80 64.9 349.30 38.6 349.80 170.1 350.30 38.6 350.80 64.9 351.80 64.9 352.30 38.6 352.80 38.6 353.30 64.9 353.80 38.6 354.30 64.9 354.80 64.9 355.30 38.6 356.30 38.6 356.80 64.9 357.30 38.6 357.80 64.9 358.30 38.6 358.80 38.6 359.30 91.2 359.80 38.6 360.30 64.9 361.80 64.9 362.30 38.6 363.30 38.6 363.80 117.5 364.30 64.9 364.80 38.6 365.30 91.2 365.80 64.9 366.30 91.2 366.80 38.6 367.80 38.6 368.30 91.2 368.80 64.9 369.30 91.2 369.80 38.6 370.30 91.2 370.80 64.9 371.30 91.2 371.80 117.5 372.30 64.9 372.80 64.9 373.30 91.2 373.80 64.9 374.80 64.9 375.30 38.6 376.30 38.6 376.80 91.2 377.30 64.9 378.30 64.9 378.80 117.5 379.30 117.5 379.80 91.2 380.30 64.9 380.80 38.6 381.30 91.2 381.80 64.9 382.30 91.2 382.80 38.6 383.30 64.9 383.80 64.9 384.30 91.2 385.30 91.2 385.80 38.6 386.30 38.6 386.80 64.9 387.30 91.2 387.80 64.9 388.30 38.6 388.80 38.6 389.30 91.2 389.80 38.6 390.80 38.6 391.30 64.9 391.80 64.9 392.30 38.6 392.80 91.2 393.30 38.6 395.30 38.6 395.80 91.2 396.30 38.6 396.80 38.6 397.30 91.2 397.80 91.2 398.30 38.6 398.80 64.9 399.30 38.6 400.30 38.6 400.80 64.9 401.30 64.9 401.80 38.6 402.80 38.6 403.30 64.9 404.30 64.9 404.80 117.5 405.30 38.6 405.80 64.9 406.30 117.5 406.80 38.6 407.30 64.9 407.80 38.6 408.80 38.6 409.30 64.9 409.80 38.6 410.80 38.6 411.30 64.9 411.80 38.6 412.30 64.9 412.80 38.6 414.30 38.6 414.80 64.9 415.80 64.9 416.30 38.6 417.80 38.6 418.30 91.2 418.80 64.9 419.30 38.6 420.80 38.6 421.30 64.9 421.80 38.6 422.30 64.9 422.80 38.6 423.80 38.6 424.30 91.2 424.80 38.6 425.30 38.6 425.80 91.2 426.30 38.6 426.80 64.9 427.30 38.6 428.80 38.6 429.30 91.2 429.80 64.9 430.30 38.6 430.80 38.6 431.30 64.9 431.80 91.2 432.30 143.8 432.80 38.6 433.30 38.6 433.80 64.9 434.80 64.9 435.30 38.6 435.80 91.2 436.30 64.9 436.80 38.6 437.80 38.6 438.30 91.2 438.80 64.9 439.30 117.5 439.80 64.9 440.30 38.6 440.80 64.9 441.30 38.6 441.80 64.9 442.30 38.6 443.30 38.6 443.80 91.2 444.80 91.2 445.30 38.6 445.80 38.6 446.30 64.9 446.80 91.2 447.30 91.2 447.80 38.6 448.30 38.6 448.80 117.5 449.30 64.9 449.80 38.6 450.30 38.6 450.80 143.8 451.30 38.6 451.80 38.6 452.30 64.9 452.80 38.6 453.30 91.2 453.80 38.6 454.30 38.6 454.80 117.5 455.30 91.2 455.80 64.9 456.80 64.9 457.30 117.5 457.80 117.5 458.30 64.9 458.80 38.6 459.30 64.9 459.80 64.9 460.30 38.6 462.80 38.6 463.30 91.2 463.80 117.5 464.30 91.2 464.80 38.6 465.30 64.9 465.80 38.6 466.30 117.5 466.80 38.6 467.30 91.2 467.80 64.9 468.80 64.9 469.30 117.5 469.80 91.2 470.30 38.6 470.80 91.2 471.30 38.6 471.80 117.5 472.30 38.6 472.80 38.6 473.30 143.8 473.80 64.9 474.30 143.8 474.80 64.9 475.30 64.9 475.80 91.2 476.30 64.9 476.80 38.6 477.30 38.6 477.80 64.9 478.30 91.2 478.80 38.6 479.30 64.9 480.30 64.9 480.80 38.6 481.80 38.6 482.30 64.9 482.80 143.8 483.30 64.9 483.80 38.6 484.30 64.9 484.80 117.5 485.30 64.9 485.80 64.9 486.30 91.2 486.80 64.9 487.80 64.9 488.30 38.6 489.30 38.6 489.80 91.2" stroke="#fa5a5a" stroke-width="1.5" fill="none" stroke-linejoin="bevel" stroke-miterlimit="4"/>
<path d="M46.30 170.1 47.30 170.1 47.80 91.2 48.30 117.5 48.80 64.9 49.30 170.1 49.80 117.5 50.30 117.5 50.80 170.1 51.30 143.8 51.80 170.1 52.30 143.8 52.80 143.8 53.30 117.5 53.80 143.8 54.30 170.1 54.80 170.1 55.30 91.2 55.80 170.1 57.30 170.1 57.80 143.8 58.80 143.8 59.30 170.1 59.80 143.8 60.30 91.2 60.80 91.2 61.30 143.8 62.30 143.8 62.80 91.2 63.30 143.8 63.80 117.5 64.30 38.6 64.80 64.9 65.30 64.9 65.80 143.8 66.30 91.2 66.80 117.5 67.30 91.2 67.80 117.5 68.30 117.5 68.80 143.8 69.30 91.2 69.80 91.2 70.30 117.5 70.80 91.2 71.30 64.9 71.80 117.5 72.30 117.5 72.80 64.9 73.30 143.8 73.80 117.5 74.30 64.9 74.80 117.5 75.30 91.2 75.80 64.9 76.30 64.9 76.80 91.2 77.30 117.5 77.80 91.2 78.30 117.5 78.80 38.6 79.30 91.2 79.80 64.9 80.30 64.9 80.80 91.2 82.30 91.2 82.80 38.6 83.30 91.2 83.80 38.6 84.30 64.9 84.80 143.8 85.30 91.2 86.30 91.2 86.80 38.6 87.30 117.5 87.80 91.2 88.30 117.5 88.80 117.5 89.30 91.2 89.80 38.6 90.30 91.2 90.80 117.5 91.30 91.2 92.80 91.2 93.30 38.6 93.80 91.2 94.30 64.9 94.80 91.2 95.30 170.1 95.80 38.6 96.30 117.5 96.80 38.6 97.30 64.9 97.80 91.2 98.30 64.9 98.80 38.6 99.30 117.5 100.30 117.5 100.80 91.2 101.30 38.6 101.80 117.5 102.30 117.5 102.80 64.9 103.30 38.6 103.80 38.6 104.30 64.9 104.80 64.9 105.30 38.6 105.80 91.2 106.30 117.5 106.80 64.9 107.30 117.5 107.80 38.6 108.30 64.9 109.30 64.9 109.80 38.6 110.30 91.2 110.80 64.9 111.30 117.5 111.80 64.9 112.30 117.5 112.80 91.2 113.30 91.2 113.80 64.9 114.30 91.2 114.80 91.2 115.30 117.5 115.80 91.2 116.30 38.6 116.80 91.2 117.30 117.5 117.80 91.2 118.30 91.2 118.80 38.6 119.30 38.6 119.80 64.9 120.30 91.2 120.80 91.2 121.30 38.6 122.80 38.6 123.30 91.2 123.80 38.6 124.30 64.9 124.80 91.2 125.30 91.2 125.80 117.5 126.30 91.2 126.80 91.2 127.30 117.5 127.80 64.9 128.30 91.2 128.80 38.6 129.30 64.9 129.80 64.9 130.30 38.6 130.80 64.9 131.30 117.5 131.80 38.6 132.80 38.6 133.30 64.9 133.80 38.6 134.30 91.2 134.80 64.9 135.30 117.5 135.80 64.9 136.30 91.2 136.80 38.6 137.30 91.2 137.80 38.6 139.30 38.6 139.80 64.9 140.30 38.6 140.80 91.2 141.30 38.6 141.80 38.6 142.30 143.8 142.80 38.6 143.30 143.8 143.80 38.6 145.30 38.6 145.80 91.2 146.30 38.6 146.80 117.5 147.30 38.6 147.80 64.9 148.30 64.9 148.80 38.6 149.30 143.8 149.80 64.9 150.30 64.9 150.80 38.6 151.30 38.6 151.80 91.2 152.30 38.6 152.80 64.9 153.30 38.6 153.80 91.2 154.30 38.6 156.30 38.6 156.80 91.2 157.30 38.6 157.80 91.2 158.30 38.6 158.80 117.5 159.30 38.6 159.80 91.2 160.30 64.9 160.80 117.5 161.30 91.2 161.80 38.6 162.30 64.9 162.80 91.2 163.30 38.6 163.80 117.5 164.30 38.6 164.80 91.2 165.30 64.9 165.80 64.9 166.30 38.6 166.80 91.2 167.30 91.2 167.80 38.6 168.30 64.9 168.80 38.6 169.30 91.2 169.80 38.6 170.30 38.6 170.80 143.8 171.30 38.6 171.80 64.9 172.30 117.5 172.80 38.6 173.30 64.9 174.30 64.9 174.80 170.1 175.30 91.2 175.80 38.6 176.30 64.9 176.80 38.6 177.30 38.6 177.80 91.2 178.30 64.9 178.80 117.5 179.30 143.8 179.80 38.6 180.30 38.6 180.80 64.9 181.30 38.6 181.80 38.6 182.30 117.5 182.80 38.6 183.30 64.9 183.80 117.5 184.30 38.6 184.80 38.6 185.30 91.2 185.80 38.6 186.30 64.9 186.80 38.6 187.30 64.9 187.80 91.2 188.30 91.2 188.80 38.6 189.30 64.9 189.80 38.6 190.30 91.2 190.80 38.6 191.30 117.5 191.80 38.6 192.30 117.5 192.80 38.6 193.30 117.5 193.80 91.2 194.30 64.9 194.80 143.8 195.30 64.9 196.30 64.9 196.80 38.6 197.80 38.6 198.30 91.2 199.30 91.2 199.80 38.6 200.30 64.9 200.80 117.5 201.30 117.5 201.80 38.6 202.30 117.5 202.80 91.2 203.30 64.9 203.80 38.6 204.30 143.8 204.80 64.9 205.30 91.2 205.80 143.8 206.30 38.6 207.30 38.6 207.80 64.9 208.30 64.9 208.80 170.1 209.30 38.6 209.80 117.5 210.30 64.9 210.80 117.5 211.30 117.5 211.80 91.2 212.30 38.6 212.80 38.6 213.30 117.5 213.80 38.6 214.30 64.9 214.80 64.9 215.30 91.2 215.80 64.9 216.30 91.2 216.80 38.6 217.80 38.6 218.30 91.2 218.80 91.2 219.30 38.6 219.80 38.6 220.30 91.2 220.80 38.6 221.30 38.6 221.80 64.9 222.30 38.6 222.80 64.9 223.30 38.6 223.80 64.9 224.30 38.6 224.80 38.6 225.30 64.9 225.80 64.9 226.30 170.1 226.80 38.6 227.30 64.9 227.80 143.8 228.30 38.6 228.80 64.9 229.30 38.6 229.80 117.5 230.30 91.2 230.80 38.6 231.30 38.6 231.80 64.9 232.30 38.6 233.30 38.6 233.80 64.9 234.30 38.6 234.80 64.9 235.30 64.9 235.80 38.6 236.30 91.2 236.80 64.9 237.30 91.2 237.80 38.6 238.30 64.9 238.80 64.9 239.30 38.6 239.80 38.6 240.30 64.9 240.80 38.6 242.80 38.6 243.30 64.9 243.80 38.6 244.30 64.9 244.80 38.6 245.30 64.9 245.80 38.6 246.30 64.9 246.80 91.2 247.30 64.9 247.80 38.6 248.30 38.6 248.80 117.5 249.30 64.9 249.80 38.6 250.30 91.2 250.80 38.6 251.30 64.9 251.80 38.6 253.80 38.6 254.30 117.5 254.80 117.5 255.30 64.9 256.30 64.9 256.80 38.6 257.30 38.6 257.80 143.8 258.30 91.2 258.80 38.6 259.30 64.9 259.80 64.9 260.30 91.2 260.80 64.9 261.30 91.2 261.80 38.6 262.80 38.6 263.30 91.2 263.80 64.9 264.30 38.6 265.80 38.6 266.30 64.9 266.80 64.9 267.30 38.6 267.80 64.9 268.30 64.9 268.80 38.6 274.30 38.6 274.80 64.9 275.30 38.6 276.30 38.6 276.80 64.9 277.30 91.2 277.80 64.9 278.30 38.6 278.80 64.9 279.80 64.9 280.30 117.5 280.80 38.6 281.30 64.9 281.80 64.9 282.30 38.6 288.80 38.6 289.30 91.2 289.80 64.9 290.30 38.6 290.80 64.9 291.30 64.9 291.80 38.6 292.30 38.6 292.80 91.2 293.30 64.9 293.80 38.6 294.80 38.6 295.30 91.2 295.80 38.6 296.30 64.9 296.80 38.6 297.30 64.9 297.80 38.6 298.30 91.2 298.80 38.6 299.30 38.6 299.80 64.9 300.30 38.6 301.30 38.6 301.80 143.8 302.30 38.6 303.80 38.6 304.30 91.2 304.80 38.6 305.30 38.6 305.80 64.9 306.30 91.2 306.80 38.6 307.30 38.6 307.80 117.5 308.30 38.6 309.30 38.6 309.80 64.9 310.30 64.9 310.80 38.6 312.80 38.6 313.30 64.9 313.80 91.2 314.30 38.6 314.80 38.6 315.30 91.2 315.80 38.6 316.30 91.2 316.80 38.6 317.30 64.9 317.80 38.6 318.80 38.6 319.30 64.9 319.80 38.6 320.30 64.9 320.80 91.2 321.30 64.9 321.80 91.2 322.30 38.6 322.80 64.9 323.30 38.6 323.80 38.6 324.30 117.5 324.80 38.6 325.30 143.8 325.80 38.6 327.30 38.6 327.80 64.9 328.30 38.6 328.80 91.2 329.30 91.2 329.80 64.9 330.30 38.6 330.80 64.9 332.30 64.9 332.80 38.6 333.30 38.6 333.80 64.9 334.30 91.2 334.80 38.6 335.30 117.5 335.80 91.2 336.30 64.9 336.80 64.9 337.30 91.2 337.80 64.9 338.30 38.6 343.30 38.6 343.80 64.9 344.30 64.9 344.80 38.6 345.30 64.9 345.80 91.2 346.30 64.9 346.80 38.6 347.30 38.6 347.80 91.2 348.30 91.2 348.80 38.6 349.80 38.6 350.30 64.9 351.80 64.9 352.30 38.6 352.80 64.9 353.30 38.6 353.80 64.9 354.30 64.9 354.80 38.6 356.30 38.6 356.80 91.2 357.30 117.5 357.80 38.6 358.30 143.8 358.80 64.9 359.30 38.6 359.80 64.9 360.80 64.9 361.30 117.5 361.80 38.6 362.30 38.6 362.80 64.9 363.30 91.2 363.80 64.9 364.30 64.9 364.80 91.2 365.30 38.6 365.80 64.9 366.30 64.9 366.80 38.6 369.80 38.6 370.30 64.9 370.80 91.2 371.30 64.9 371.80 38.6 372.80 38.6 373.30 64.9 373.80 38.6 374.30 91.2 374.80 38.6 375.30 64.9 375.80 117.5 376.30 38.6 376.80 64.9 377.30 64.9 377.80 38.6 378.80 38.6 379.30 64.9 379.80 38.6 380.30 64.9 380.80 64.9 381.30 91.2 381.80 91.2 382.30 38.6 382.80 64.9 383.30 64.9 383.80 38.6 384.30 38.6 384.80 64.9 385.80 64.9 386.30 91.2 386.80 64.9 387.30 38.6 387.80 64.9 388.30 38.6 388.80 91.2 389.30 64.9 389.80 38.6 390.80 38.6 391.30 64.9 391.80 91.2 392.30 38.6 393.30 38.6 393.80 64.9 394.30 64.9 394.80 38.6 395.30 91.2 395.80 38.6 396.30 64.9 396.80 38.6 399.30 38.6 399.80 64.9 400.30 64.9 400.80 38.6 401.30 38.6 401.80 91.2 402.30 143.8 402.80 91.2 403.30 38.6 403.80 64.9 404.80 64.9 405.30 38.6 407.80 38.6 408.30 91.2 408.80 64.9 409.30 38.6 409.80 38.6 410.30 91.2 410.80 38.6 414.30 38.6 414.80 91.2 415.30 38.6 415.80 38.6 416.30 117.5 416.80 38.6 418.80 38.6 419.30 91.2 419.80 38.6 420.30 64.9 420.80 38.6 421.80 38.6 422.30 64.9 423.30 64.9 423.80 38.6 426.30 38.6 426.80 64.9 427.30 64.9 427.80 38.6 428.30 64.9 429.80 64.9 430.30 38.6 430.80 64.9 431.30 38.6 431.80 38.6 432.30 117.5 432.80 38.6 433.30 64.9 433.80 38.6 434.30 38.6 434.80 143.8 435.30 117.5 435.80 64.9 436.30 38.6 436.80 64.9 437.30 38.6 437.80 64.9 438.30 38.6 438.80 91.2 439.30 38.6 439.80 64.9 440.30 64.9 440.80 38.6 441.30 64.9 441.80 91.2 442.30 38.6 442.80 91.2 443.30 64.9 443.80 64.9 444.30 38.6 444.80 64.9 445.30 64.9 445.80 38.6 446.30 38.6 446.80 64.9 447.30 64.9 447.80 91.2 448.30 38.6 448.80 64.9 449.30 91.2 449.80 64.9 450.30 64.9 450.80 38.6 451.30 64.9 451.80 38.6 452.30 38.6 452.80 64.9 453.80 64.9 454.30 91.2 454.80 91.2 455.30 38.6 455.80 64.9 456.80 64.9 457.30 38.6 457.80 91.2 458.30 143.8 458.80 38.6 459.30 38.6 459.80 91.2 460.30 64.9 460.80 64.9 461.30 38.6 462.30 38.6 462.80 64.9 463.30 91.2 463.80 38.6 464.30 91.2 464.80 64.9 465.30 64.9 465.80 38.6 466.30 91.2 466.80 64.9 467.30 64.9 467.80 38.6 468.30 38.6 468.80 64.9 469.30 38.6 469.80 38.6 470.30 64.9 470.80 64.9 471.30 38.6 471.80 91.2 472.30 91.2 472.80 117.5 473.30 64.9 473.80 91.2 474.30 64.9 477.30 64.9 477.80 38.6 478.30 64.9 479.80 64.9 480.30 38.6 480.80 64.9 481.80 64.9 482.30 38.6 482.80 38.6 483.30 64.9 483.80 38.6 484.30 38.6 484.80 64.9 485.30 64.9 485.80 91.2 486.30 64.9 486.80 38.6 487.30 64.9 487.80 91.2" stroke="#a6a6a6" stroke-width="1.5" fill="none" stroke-linejoin="bevel" stroke-miterlimit="4"/>
<rect x="107" y="12.30" width="380" height="26.60" fill="#a6a6a6"/>
<rect x="72.5" y="12.30" width="2.00" height="26.60" fill="#fa5a5a"/>
<rect x="81" y="12.30" width="1.50" height="26.60" fill="#a5d7f5"/>
<rect x="82.5" y="12.30" width="2.50" height="26.60" fill="#e588e6"/>
<rect x="87" y="12.30" width="2.50" height="26.60" fill="#35e0de"/>
<rect x="93.5" y="12.30" width="2.50" height="26.60" fill="#fa5a5a"/>
<rect x="99.5" y="12.30" width="4.50" height="26.60" fill="#fa5a5a"/>
<rect x="107" y="12.30" width="1.50" height="26.60" fill="#a6a6a6"/>
<rect x="108.5" y="12.30" width="2.50" height="26.60" fill="#35e0de"/>
<rect x="111" y="12.30" width="2.00" height="26.60" fill="#ffffff"/>
<rect x="113" y="12.30" width="1.50" height="26.60" fill="#e588e6"/>
<rect x="114.5" y="12.30" width="3.00" height="26.60" fill="#fa5a5a"/>
<rect x="117.5" y="12.30" width="2.00" height="26.60" fill="#35e0de"/>
<rect x="119.5" y="12.30" width="1.00" height="26.60" fill="#ffffff"/>
<rect x="120.5" y="12.30" width="2.50" height="26.60" fill="#fa5a5a"/>
<rect x="127.5" y="12.30" width="1.00" height="26.60" fill="#e4e4e4"/>
<rect x="128.5" y="12.30" width="2.50" height="26.60" fill="#35e0de"/>
<rect x="131" y="12.30" width="2.50" height="26.60" fill="#d98585"/>
<rect x="133.5" y="12.30" width="4.00" height="26.60" fill="#35e0de"/>
<rect x="143.5" y="12.30" width="2.50" height="26.60" fill="#d98585"/>
<rect x="146" y="12.30" width="1.50" height="26.60" fill="#e4e4e4"/>
<rect x="147.5" y="12.30" width="3.00" height="26.60" fill="#35e0de"/>
<rect x="152.5" y="12.30" width="2.50" height="26.60" fill="#fa5a5a"/>
<rect x="159.5" y="12.30" width="2.50" height="26.60" fill="#fa5a5a"/>
<rect x="165" y="12.30" width="3.00" height="26.60" fill="#35e0de"/>
<rect x="169.5" y="12.30" width="1.50" height="26.60" fill="#e4e4e4"/>
<rect x="173" y="12.30" width="2.00" height="26.60" fill="#fa5a5a"/>
<rect x="176.5" y="12.30" width="1.50" height="26.60" fill="#fa5a5a"/>
<rect x="178" y="12.30" width="2.00" height="26.60" fill="#ffffff"/>
<rect x="180" y="12.30" width="1.50" height="26.60" fill="#e4e4e4"/>
<rect x="181.5" y="12.30" width="2.00" height="26.60" fill="#fa5a5a"/>
<rect x="183.5" y="12.30" width="2.50" height="26.60" fill="#35e0de"/>
<rect x="186" y="12.30" width="1.00" height="26.60" fill="#e6b4e8"/>
<rect x="187" y="12.30" width="4.00" height="26.60" fill="#ffffff"/>
<rect x="196" y="12.30" width="2.00" height="26.60" fill="#35e0de"/>
<rect x="198" y="12.30" width="2.00" height="26.60" fill="#d98585"/>
<rect x="204" y="12.30" width="3.00" height="26.60" fill="#fa5a5a"/>
<rect x="209" y="12.30" width="2.00" height="26.60" fill="#e4e4e4"/>
<rect x="215" y="12.30" width="3.00" height="26.60" fill="#35e0de"/>
<rect x="224" y="12.30" width="2.00" height="26.60" fill="#fa5a5a"/>
<rect x="229.5" y="12.30" width="3.00" height="26.60" fill="#fa5a5a"/>
<rect x="235" y="12.30" width="2.00" height="26.60" fill="#d98585"/>
<rect x="238" y="12.30" width="1.50" height="26.60" fill="#fa5a5a"/>
<rect x="244" y="12.30" width="1.00" height="26.60" fill="#e4e4e4"/>
<rect x="250" y="12.30" width="1.50" height="26.60" fill="#e4e4e4"/>
<rect x="253.5" y="12.30" width="1.50" height="26.60" fill="#35e0de"/>
<rect x="255" y="12.30" width="2.50" height="26.60" fill="#fa5a5a"/>
<rect x="257.5" y="12.30" width="1.50" height="26.60" fill="#35e0de"/>
<rect x="261" y="12.30" width="2.00" height="26.60" fill="#e6b4e8"/>
<rect x="263" y="12.30" width="1.50" height="26.60" fill="#d98585"/>
<rect x="264.5" y="12.30" width="1.00" height="26.60" fill="#35e0de"/>
<rect x="265.5" y="12.30" width="2.50" height="26.60" fill="#fa5a5a"/>
<rect x="270.5" y="12.30" width="1.00" height="26.60" fill="#35e0de"/>
<rect x="271.5" y="12.30" width="2.00" height="26.60" fill="#fa5a5a"/>
<rect x="277" y="12.30" width="1.00" height="26.60" fill="#e4e4e4"/>
<rect x="284" y="12.30" width="3.00" height="26.60" fill="#35e0de"/>
<rect x="287" y="12.30" width="2.00" height="26.60" fill="#ffffff"/>
<rect x="289" y="12.30" width="1.00" height="26.60" fill="#e588e6"/>
<rect x="290" y="12.30" width="1.00" height="26.60" fill="#e588e6"/>
<rect x="291" y="12.30" width="3.00" height="26.60" fill="#fa5a5a"/>
<rect x="296" y="12.30" width="1.50" height="26.60" fill="#d98585"/>
<rect x="303" y="12.30" width="2.00" height="26.60" fill="#fa5a5a"/>
<rect x="308.5" y="12.30" width="1.50" height="26.60" fill="#d98585"/>
<rect x="313.5" y="12.30" width="2.50" height="26.60" fill="#fa5a5a"/>
<rect x="317.5" y="12.30" width="2.00" height="26.60" fill="#ffffff"/>
<rect x="325.5" y="12.30" width="2.00" height="26.60" fill="#35e0de"/>
<rect x="333" y="12.30" width="2.00" height="26.60" fill="#fa5a5a"/>
<rect x="342" y="12.30" width="1.00" height="26.60" fill="#e4e4e4"/>
<rect x="343" y="12.30" width="2.00" height="26.60" fill="#35e0de"/>
<rect x="345" y="12.30" width="1.50" height="26.60" fill="#a5d7f5"/>
<rect x="348.5" y="12.30" width="1.50" height="26.60" fill="#ffffff"/>
<rect x="352" y="12.30" width="2.50" height="26.60" fill="#fa5a5a"/>
<rect x="360" y="12.30" width="2.50" height="26.60" fill="#fa5a5a"/>
<rect x="364.5" y="12.30" width="1.50" height="26.60" fill="#fa5a5a"/>
<rect x="374" y="12.30" width="1.00" height="26.60" fill="#35e0de"/>
<rect x="375" y="12.30" width="2.00" height="26.60" fill="#d98585"/>
<rect x="380" y="12.30" width="3.00" height="26.60" fill="#fa5a5a"/>
<rect x="386.5" y="12.30" width="2.50" height="26.60" fill="#35e0de"/>
<rect x="389" y="12.30" width="4.00" height="26.60" fill="#fa5a5a"/>
<rect x="393" y="12.30" width="2.00" height="26.60" fill="#35e0de"/>
<rect x="395" y="12.30" width="3.00" height="26.60" fill="#fa5a5a"/>
<rect x="400" y="12.30" width="1.50" height="26.60" fill="#35e0de"/>
<rect x="404" y="12.30" width="2.00" height="26.60" fill="#d98585"/>
<rect x="409" y="12.30" width="2.00" height="26.60" fill="#ffffff"/>
<rect x="416" y="12.30" width="2.50" height="26.60" fill="#f8a574"/>
<rect x="424" y="12.30" width="2.50" height="26.60" fill="#fa5a5a"/>
<rect x="426.5" y="12.30" width="3.00" height="26.60" fill="#35e0de"/>
<rect x="433" y="12.30" width="2.50" height="26.60" fill="#fa5a5a"/>
<rect x="439.5" y="12.30" width="1.50" height="26.60" fill="#fa5a5a"/>
<rect x="441" y="12.30" width="2.00" height="26.60" fill="#ffffff"/>
<rect x="443" y="12.30" width="7.00" height="26.60" fill="#fa5a5a"/>
<rect x="452" y="12.30" width="3.00" height="26.60" fill="#fa5a5a"/>
<rect x="456" y="12.30" width="2.50" height="26.60" fill="#fa5a5a"/>
<rect x="464.5" y="12.30" width="2.00" height="26.60" fill="#35e0de"/>
<rect x="466.5" y="12.30" width="2.00" height="26.60" fill="#fa5a5a"/>
<rect x="468.5" y="12.30" width="3.50" height="26.60" fill="#35e0de"/>
<rect x="474" y="12.30" width="3.00" height="26.60" fill="#fa5a5a"/>
<rect x="482" y="12.30" width="2.00" height="26.60" fill="#fa5a5a"/>
<rect x="487" y="12.30" width="1.50" height="26.60" fill="#35e0de"/>
<rect x="489.5" y="12.30" width="1.50" height="26.60" fill="#e588e6"/>
<rect x="493" y="12.30" width="2.00" height="26.60" fill="#f8a574"/>
<rect x="498" y="12.30" width="2.00" height="26.60" fill="#90d65c"/>
<rect x="46" y="144.20" width="2.00" height="25.50" fill="#90d65c"/>
<rect x="48" y="144.20" width="2.00" height="25.50" fill="#e588e6"/>
<rect x="50" y="144.20" width="4.00" height="25.50" fill="#a6a6a6"/>
<rect x="54" y="144.20" width="3.00" height="25.50" fill="#35e0de"/>
<rect x="57" y="144.20" width="5.00" height="25.50" fill="#a6a6a6"/>
<rect x="62" y="144.20" width="3.00" height="25.50" fill="#d98585"/>
<rect x="65" y="144.20" width="4.00" height="25.50" fill="#a6a6a6"/>
<rect x="69" y="144.20" width="1.50" height="25.50" fill="#a5d7f5"/>
<rect x="70.5" y="144.20" width="1.50" height="25.50" fill="#f8a574"/>
<rect x="72" y="144.20" width="2.00" height="25.50" fill="#90d65c"/>
<rect x="74" y="144.20" width="2.00" height="25.50" fill="#fa5a5a"/>
<rect x="76" y="144.20" width="3.00" height="25.50" fill="#a6a6a6"/>
<rect x="79" y="144.20" width="1.50" height="25.50" fill="#fa5a5a"/>
<rect x="80.5" y="144.20" width="2.50" height="25.50" fill="#e588e6"/>
<rect x="83" y="144.20" width="1.50" height="25.50" fill="#35e0de"/>
<rect x="84.5" y="144.20" width="3.00" height="25.50" fill="#cfe8f8"/>
<rect x="87.5" y="144.20" width="2.50" height="25.50" fill="#90d65c"/>
<rect x="90" y="144.20" width="2.50" height="25.50" fill="#a5d7f5"/>
<rect x="92.5" y="144.20" width="2.00" height="25.50" fill="#fa5a5a"/>
<rect x="94.5" y="144.20" width="1.50" height="25.50" fill="#a5d7f5"/>
<rect x="96" y="144.20" width="2.50" height="25.50" fill="#fa5a5a"/>
<rect x="98.5" y="144.20" width="2.50" height="25.50" fill="#a5d7f5"/>
<rect x="101" y="144.20" width="1.50" height="25.50" fill="#a5d7f5"/>
<rect x="102.5" y="144.20" width="2.50" height="25.50" fill="#f8a574"/>
<rect x="105" y="144.20" width="1.00" height="25.50" fill="#f0f0f0"/>
<rect x="106" y="144.20" width="4.00" height="25.50" fill="#f8a574"/>
<rect x="110" y="144.20" width="1.50" height="25.50" fill="#a5d7f5"/>
<rect x="111.5" y="144.20" width="1.50" height="25.50" fill="#90d65c"/>
<rect x="113" y="144.20" width="1.50" height="25.50" fill="#a5d7f5"/>
<rect x="114.5" y="144.20" width="5.50" height="25.50" fill="#e588e6"/>
<rect x="120" y="144.20" width="3.00" height="25.50" fill="#a5d7f5"/>
<rect x="123" y="144.20" width="2.00" height="25.50" fill="#90d65c"/>
<rect x="125" y="144.20" width="6.00" height="25.50" fill="#a5d7f5"/>
<rect x="131" y="144.20" width="2.00" height="25.50" fill="#e588e6"/>
<rect x="133" y="144.20" width="2.00" height="25.50" fill="#f8a574"/>
<rect x="135" y="144.20" width="2.00" height="25.50" fill="#a5d7f5"/>
<rect x="137" y="144.20" width="1.50" height="25.50" fill="#c2e8a6"/>
<rect x="138.5" y="144.20" width="2.00" height="25.50" fill="#90d65c"/>
<rect x="140.5" y="144.20" width="2.50" height="25.50" fill="#a5d7f5"/>
<rect x="143" y="144.20" width="2.50" height="25.50" fill="#e588e6"/>
<rect x="145.5" y="144.20" width="2.00" height="25.50" fill="#a5d7f5"/>
<rect x="147.5" y="144.20" width="2.00" height="25.50" fill="#90d65c"/>
<rect x="149.5" y="144.20" width="1.50" height="25.50" fill="#f8a574"/>
<rect x="151" y="144.20" width="1.50" height="25.50" fill="#f0f0f0"/>
<rect x="152.5" y="144.20" width="1.50" height="25.50" fill="#e588e6"/>
<rect x="154" y="144.20" width="2.00" height="25.50" fill="#a5d7f5"/>
<rect x="156" y="144.20" width="1.00" height="25.50" fill="#e588e6"/>
<rect x="157" y="144.20" width="3.00" height="25.50" fill="#90d65c"/>
<rect x="160" y="144.20" width="5.50" height="25.50" fill="#a5d7f5"/>
<rect x="165.5" y="144.20" width="1.50" height="25.50" fill="#a6a6a6"/>
<rect x="167" y="144.20" width="2.50" height="25.50" fill="#f0f0f0"/>
<rect x="169.5" y="144.20" width="1.50" height="25.50" fill="#90d65c"/>
<rect x="171" y="144.20" width="1.50" height="25.50" fill="#e588e6"/>
<rect x="172.5" y="144.20" width="1.50" height="25.50" fill="#a5d7f5"/>
<rect x="174" y="144.20" width="3.50" height="25.50" fill="#f8a574"/>
<rect x="177.5" y="144.20" width="2.00" height="25.50" fill="#f8c8b0"/>
<rect x="179.5" y="144.20" width="1.50" height="25.50" fill="#a5d7f5"/>
<rect x="181" y="144.20" width="3.00" height="25.50" fill="#cfe8f8"/>
<rect x="184" y="144.20" width="5.00" height="25.50" fill="#90d65c"/>
<rect x="189" y="144.20" width="1.50" height="25.50" fill="#a5d7f5"/>
<rect x="190.5" y="144.20" width="2.00" height="25.50" fill="#f0f0f0"/>
<rect x="192.5" y="144.20" width="3.50" height="25.50" fill="#a5d7f5"/>
<rect x="196" y="144.20" width="1.50" height="25.50" fill="#ffffff"/>
<rect x="197.5" y="144.20" width="4.50" height="25.50" fill="#a5d7f5"/>
<rect x="202" y="144.20" width="4.00" height="25.50" fill="#90d65c"/>
<rect x="206" y="144.20" width="2.50" height="25.50" fill="#e588e6"/>
<rect x="208.5" y="144.20" width="2.50" height="25.50" fill="#90d65c"/>
<rect x="211" y="144.20" width="1.50" height="25.50" fill="#c2e8a6"/>
<rect x="212.5" y="144.20" width="2.50" height="25.50" fill="#a5d7f5"/>
<rect x="215" y="144.20" width="1.00" height="25.50" fill="#90d65c"/>
<rect x="216" y="144.20" width="2.50" height="25.50" fill="#ffffff"/>
<rect x="218.5" y="144.20" width="6.50" height="25.50" fill="#90d65c"/>
<rect x="225" y="144.20" width="1.50" height="25.50" fill="#f0f0f0"/>
<rect x="226.5" y="144.20" width="2.00" height="25.50" fill="#90d65c"/>
<rect x="228.5" y="144.20" width="4.50" height="25.50" fill="#a5d7f5"/>
<rect x="233" y="144.20" width="3.00" height="25.50" fill="#ffffff"/>
<rect x="236" y="144.20" width="2.00" height="25.50" fill="#90d65c"/>
<rect x="238" y="144.20" width="2.00" height="25.50" fill="#f8a574"/>
<rect x="240" y="144.20" width="1.00" height="25.50" fill="#90d65c"/>
<rect x="241" y="144.20" width="4.50" height="25.50" fill="#a5d7f5"/>
<rect x="245.5" y="144.20" width="1.50" height="25.50" fill="#ffffff"/>
<rect x="247" y="144.20" width="2.50" height="25.50" fill="#a5d7f5"/>
<rect x="249.5" y="144.20" width="1.50" height="25.50" fill="#ffffff"/>
<rect x="251" y="144.20" width="6.00" height="25.50" fill="#90d65c"/>
<rect x="257" y="144.20" width="1.00" height="25.50" fill="#c2e8a6"/>
<rect x="258" y="144.20" width="8.00" height="25.50" fill="#90d65c"/>
<rect x="266" y="144.20" width="1.00" height="25.50" fill="#90d65c"/>
<rect x="267" y="144.20" width="3.50" height="25.50" fill="#ffffff"/>
<rect x="270.5" y="144.20" width="2.00" height="25.50" fill="#a5d7f5"/>
<rect x="272.5" y="144.20" width="1.50" height="25.50" fill="#ffffff"/>
<rect x="274" y="144.20" width="2.00" height="25.50" fill="#e588e6"/>
<rect x="276" y="144.20" width="1.50" height="25.50" fill="#90d65c"/>
<rect x="277.5" y="144.20" width="7.50" height="25.50" fill="#ffffff"/>
<rect x="285" y="144.20" width="2.00" height="25.50" fill="#a5d7f5"/>
<rect x="287" y="144.20" width="2.00" height="25.50" fill="#ffffff"/>
<rect x="289" y="144.20" width="6.00" height="25.50" fill="#a5d7f5"/>
<rect x="295" y="144.20" width="2.00" height="25.50" fill="#f8a574"/>
<rect x="297" y="144.20" width="2.00" height="25.50" fill="#ffffff"/>
<rect x="299" y="144.20" width="2.00" height="25.50" fill="#90d65c"/>
<rect x="301" y="144.20" width="2.00" height="25.50" fill="#a5d7f5"/>
<rect x="303" y="144.20" width="1.50" height="25.50" fill="#ffffff"/>
<rect x="304.5" y="144.20" width="2.50" height="25.50" fill="#fa5a5a"/>
<rect x="307" y="144.20" width="3.00" height="25.50" fill="#a5d7f5"/>
<rect x="310" y="144.20" width="2.00" height="25.50" fill="#ffffff"/>
<rect x="312" y="144.20" width="2.00" height="25.50" fill="#a5d7f5"/>
<rect x="314" y="144.20" width="1.50" height="25.50" fill="#ffffff"/>
<rect x="315.5" y="144.20" width="2.00" height="25.50" fill="#90d65c"/>
<rect x="317.5" y="144.20" width="2.00" height="25.50" fill="#ffffff"/>
<rect x="319.5" y="144.20" width="1.50" height="25.50" fill="#90d65c"/>
<rect x="321" y="144.20" width="2.00" height="25.50" fill="#90d65c"/>
<rect x="323" y="144.20" width="1.00" height="25.50" fill="#a5d7f5"/>
<rect x="324" y="144.20" width="4.00" height="25.50" fill="#ffffff"/>
<rect x="328" y="144.20" width="2.00" height="25.50" fill="#e588e6"/>
<rect x="330" y="144.20" width="4.00" height="25.50" fill="#a5d7f5"/>
<rect x="334" y="144.20" width="2.00" height="25.50" fill="#90d65c"/>
<rect x="336" y="144.20" width="8.50" height="25.50" fill="#ffffff"/>
<rect x="344.5" y="144.20" width="4.00" height="25.50" fill="#90d65c"/>
<rect x="348.5" y="144.20" width="1.50" height="25.50" fill="#ffffff"/>
<rect x="350" y="144.20" width="3.00" height="25.50" fill="#a5d7f5"/>
<rect x="353" y="144.20" width="2.00" height="25.50" fill="#90d65c"/>
<rect x="355" y="144.20" width="3.00" height="25.50" fill="#35e0de"/>
<rect x="358" y="144.20" width="1.00" height="25.50" fill="#a5d7f5"/>
<rect x="359" y="144.20" width="1.50" height="25.50" fill="#90d65c"/>
<rect x="360.5" y="144.20" width="2.50" height="25.50" fill="#cfe8f8"/>
<rect x="363" y="144.20" width="1.00" height="25.50" fill="#ffffff"/>
<rect x="364" y="144.20" width="3.00" height="25.50" fill="#90d65c"/>
<rect x="367" y="144.20" width="3.00" height="25.50" fill="#a5d7f5"/>
<rect x="370" y="144.20" width="2.00" height="25.50" fill="#90d65c"/>
<rect x="372" y="144.20" width="2.50" height="25.50" fill="#f0f0f0"/>
<rect x="374.5" y="144.20" width="1.50" height="25.50" fill="#a5d7f5"/>
<rect x="376" y="144.20" width="1.00" height="25.50" fill="#ffffff"/>
<rect x="377" y="144.20" width="2.00" height="25.50" fill="#fa5a5a"/>
<rect x="379" y="144.20" width="1.00" height="25.50" fill="#ffffff"/>
<rect x="380" y="144.20" width="3.00" height="25.50" fill="#90d65c"/>
<rect x="383" y="144.20" width="3.00" height="25.50" fill="#a5d7f5"/>
<rect x="386" y="144.20" width="1.00" height="25.50" fill="#ffffff"/>
<rect x="387" y="144.20" width="8.00" height="25.50" fill="#90d65c"/>
<rect x="395" y="144.20" width="2.00" height="25.50" fill="#e588e6"/>
<rect x="397" y="144.20" width="2.00" height="25.50" fill="#90d65c"/>
<rect x="399" y="144.20" width="2.50" height="25.50" fill="#ffffff"/>
<rect x="401.5" y="144.20" width="4.50" height="25.50" fill="#90d65c"/>
<rect x="406" y="144.20" width="5.50" height="25.50" fill="#ffffff"/>
<rect x="411.5" y="144.20" width="2.00" height="25.50" fill="#90d65c"/>
<rect x="413.5" y="144.20" width="2.50" height="25.50" fill="#f8a574"/>
<rect x="416" y="144.20" width="2.00" height="25.50" fill="#c2e8a6"/>
<rect x="418" y="144.20" width="5.00" height="25.50" fill="#90d65c"/>
<rect x="423" y="144.20" width="2.00" height="25.50" fill="#ffffff"/>
<rect x="425" y="144.20" width="2.50" height="25.50" fill="#a5d7f5"/>
<rect x="427.5" y="144.20" width="3.50" height="25.50" fill="#ffffff"/>
<rect x="431" y="144.20" width="2.00" height="25.50" fill="#ffffff"/>
<rect x="433" y="144.20" width="1.50" height="25.50" fill="#e588e6"/>
<rect x="434.5" y="144.20" width="2.00" height="25.50" fill="#90d65c"/>
<rect x="436.5" y="144.20" width="4.50" height="25.50" fill="#a5d7f5"/>
<rect x="441" y="144.20" width="2.00" height="25.50" fill="#90d65c"/>
<rect x="443" y="144.20" width="1.50" height="25.50" fill="#ffffff"/>
<rect x="444.5" y="144.20" width="2.50" height="25.50" fill="#fa5a5a"/>
<rect x="447" y="144.20" width="2.00" height="25.50" fill="#a5d7f5"/>
<rect x="449" y="144.20" width="2.00" height="25.50" fill="#ffffff"/>
<rect x="451" y="144.20" width="3.50" height="25.50" fill="#90d65c"/>
<rect x="454.5" y="144.20" width="1.00" height="25.50" fill="#ffffff"/>
<rect x="455.5" y="144.20" width="6.50" height="25.50" fill="#90d65c"/>
<rect x="462" y="144.20" width="2.00" height="25.50" fill="#35e0de"/>
<rect x="464" y="144.20" width="2.50" height="25.50" fill="#ffffff"/>
<rect x="466.5" y="144.20" width="1.50" height="25.50" fill="#90d65c"/>
<rect x="468" y="144.20" width="2.00" height="25.50" fill="#e588e6"/>
<rect x="470" y="144.20" width="8.00" height="25.50" fill="#ffffff"/>
<rect x="478" y="144.20" width="1.50" height="25.50" fill="#a5d7f5"/>
<rect x="479.5" y="144.20" width="3.00" height="25.50" fill="#90d65c"/>
<rect x="482.5" y="144.20" width="4.50" height="25.50" fill="#ffffff"/>
<rect x="487" y="144.20" width="1.60" height="25.50" fill="#a5d7f5"/>
<rect x="488.6" y="144.20" width="21.40" height="25.50" fill="#ffffff"/>
<rect x="46" y="117.90" width="18.00" height="26.30" fill="#a6a6a6"/>
<rect x="64" y="117.90" width="2.00" height="26.30" fill="#d98585"/>
<rect x="66" y="117.90" width="8.00" height="26.30" fill="#a6a6a6"/>
<rect x="74" y="117.90" width="2.50" height="26.30" fill="#fa5a5a"/>
<rect x="76.5" y="117.90" width="3.50" height="26.30" fill="#a6a6a6"/>
<rect x="80" y="117.90" width="3.00" height="26.30" fill="#e588e6"/>
<rect x="83" y="117.90" width="2.00" height="26.30" fill="#35e0de"/>
<rect x="85" y="117.90" width="1.50" height="26.30" fill="#c2e8a6"/>
<rect x="86.5" y="117.90" width="3.50" height="26.30" fill="#a6a6a6"/>
<rect x="90" y="117.90" width="1.50" height="26.30" fill="#f8a574"/>
<rect x="91.5" y="117.90" width="1.50" height="26.30" fill="#a6a6a6"/>
<rect x="93" y="117.90" width="3.00" height="26.30" fill="#fa5a5a"/>
<rect x="96" y="117.90" width="2.00" height="26.30" fill="#e588e6"/>
<rect x="98" y="117.90" width="3.00" height="26.30" fill="#a5d7f5"/>
<rect x="101" y="117.90" width="1.50" height="26.30" fill="#a6a6a6"/>
<rect x="102.5" y="117.90" width="2.00" height="26.30" fill="#fa5a5a"/>
<rect x="104.5" y="117.90" width="2.50" height="26.30" fill="#f8a574"/>
<rect x="107" y="117.90" width="2.00" height="26.30" fill="#a6a6a6"/>
<rect x="109" y="117.90" width="3.00" height="26.30" fill="#f8a574"/>
<rect x="112" y="117.90" width="3.00" height="26.30" fill="#fa5a5a"/>
<rect x="115" y="117.90" width="2.00" height="26.30" fill="#f8a574"/>
<rect x="117" y="117.90" width="4.00" height="26.30" fill="#e588e6"/>
<rect x="121" y="117.90" width="2.50" height="26.30" fill="#35e0de"/>
<rect x="123.5" y="117.90" width="1.50" height="26.30" fill="#f8a574"/>
<rect x="125" y="117.90" width="2.00" height="26.30" fill="#fa5a5a"/>
<rect x="127" y="117.90" width="1.50" height="26.30" fill="#e588e6"/>
<rect x="128.5" y="117.90" width="3.00" height="26.30" fill="#f8a574"/>
<rect x="131.5" y="117.90" width="2.00" height="26.30" fill="#e588e6"/>
<rect x="133.5" y="117.90" width="2.00" height="26.30" fill="#fa5a5a"/>
<rect x="135.5" y="117.90" width="1.50" height="26.30" fill="#a6a6a6"/>
<rect x="137" y="117.90" width="8.00" height="26.30" fill="#e588e6"/>
<rect x="145" y="117.90" width="2.00" height="26.30" fill="#35e0de"/>
<rect x="147" y="117.90" width="2.00" height="26.30" fill="#90d65c"/>
<rect x="149" y="117.90" width="4.00" height="26.30" fill="#f8a574"/>
<rect x="153" y="117.90" width="1.50" height="26.30" fill="#a6a6a6"/>
<rect x="154.5" y="117.90" width="2.00" height="26.30" fill="#fa5a5a"/>
<rect x="156.5" y="117.90" width="1.50" height="26.30" fill="#cfe8f8"/>
<rect x="158" y="117.90" width="7.00" height="26.30" fill="#a5d7f5"/>
<rect x="165" y="117.90" width="2.00" height="26.30" fill="#a6a6a6"/>
<rect x="167" y="117.90" width="3.00" height="26.30" fill="#90d65c"/>
<rect x="170" y="117.90" width="1.50" height="26.30" fill="#e588e6"/>
<rect x="171.5" y="117.90" width="2.00" height="26.30" fill="#a5d7f5"/>
<rect x="173.5" y="117.90" width="3.00" height="26.30" fill="#f8a574"/>
<rect x="176.5" y="117.90" width="2.00" height="26.30" fill="#a6a6a6"/>
<rect x="178.5" y="117.90" width="2.00" height="26.30" fill="#fa5a5a"/>
<rect x="180.5" y="117.90" width="1.50" height="26.30" fill="#a5d7f5"/>
<rect x="182" y="117.90" width="2.00" height="26.30" fill="#f8a574"/>
<rect x="184" y="117.90" width="2.00" height="26.30" fill="#a6a6a6"/>
<rect x="186" y="117.90" width="2.50" height="26.30" fill="#90d65c"/>
<rect x="188.5" y="117.90" width="3.00" height="26.30" fill="#e588e6"/>
<rect x="191.5" y="117.90" width="2.50" height="26.30" fill="#a5d7f5"/>
<rect x="194" y="117.90" width="4.00" height="26.30" fill="#35e0de"/>
<rect x="198" y="117.90" width="2.00" height="26.30" fill="#a5d7f5"/>
<rect x="200" y="117.90" width="3.00" height="26.30" fill="#b8c8d0"/>
<rect x="203" y="117.90" width="3.00" height="26.30" fill="#e588e6"/>
<rect x="206" y="117.90" width="2.00" height="26.30" fill="#a5d7f5"/>
<rect x="208" y="117.90" width="2.00" height="26.30" fill="#e588e6"/>
<rect x="210" y="117.90" width="2.50" height="26.30" fill="#a5d7f5"/>
<rect x="212.5" y="117.90" width="3.00" height="26.30" fill="#fa5a5a"/>
<rect x="215.5" y="117.90" width="1.50" height="26.30" fill="#a6a6a6"/>
<rect x="217" y="117.90" width="2.00" height="26.30" fill="#a5d7f5"/>
<rect x="219" y="117.90" width="2.00" height="26.30" fill="#f8a574"/>
<rect x="221" y="117.90" width="1.00" height="26.30" fill="#f0f0f0"/>
<rect x="222" y="117.90" width="3.00" height="26.30" fill="#90d65c"/>
<rect x="225" y="117.90" width="3.00" height="26.30" fill="#fa5a5a"/>
<rect x="228" y="117.90" width="2.00" height="26.30" fill="#a6a6a6"/>
<rect x="230" y="117.90" width="3.00" height="26.30" fill="#a5d7f5"/>
<rect x="233" y="117.90" width="1.50" height="26.30" fill="#ffffff"/>
<rect x="234.5" y="117.90" width="2.00" height="26.30" fill="#f8a574"/>
<rect x="236.5" y="117.90" width="3.50" height="26.30" fill="#e588e6"/>
<rect x="240" y="117.90" width="6.50" height="26.30" fill="#a5d7f5"/>
<rect x="246.5" y="117.90" width="2.50" height="26.30" fill="#fa5a5a"/>
<rect x="249" y="117.90" width="2.00" height="26.30" fill="#e588e6"/>
<rect x="251" y="117.90" width="2.00" height="26.30" fill="#a6a6a6"/>
<rect x="253" y="117.90" width="2.00" height="26.30" fill="#a5d7f5"/>
<rect x="255" y="117.90" width="2.00" height="26.30" fill="#b8c8d0"/>
<rect x="257" y="117.90" width="2.00" height="26.30" fill="#fa5a5a"/>
<rect x="259" y="117.90" width="2.00" height="26.30" fill="#a5d7f5"/>
<rect x="261" y="117.90" width="1.50" height="26.30" fill="#e588e6"/>
<rect x="262.5" y="117.90" width="2.00" height="26.30" fill="#35e0de"/>
<rect x="264.5" y="117.90" width="6.50" height="26.30" fill="#90d65c"/>
<rect x="271" y="117.90" width="2.00" height="26.30" fill="#e588e6"/>
<rect x="273" y="117.90" width="2.00" height="26.30" fill="#f8a574"/>
<rect x="275" y="117.90" width="2.00" height="26.30" fill="#e588e6"/>
<rect x="277" y="117.90" width="3.00" height="26.30" fill="#a5d7f5"/>
<rect x="280" y="117.90" width="2.00" height="26.30" fill="#f8a574"/>
<rect x="282" y="117.90" width="2.50" height="26.30" fill="#e588e6"/>
<rect x="284.5" y="117.90" width="5.50" height="26.30" fill="#a5d7f5"/>
<rect x="290" y="117.90" width="1.00" height="26.30" fill="#cfe8f8"/>
<rect x="291" y="117.90" width="4.00" height="26.30" fill="#a5d7f5"/>
<rect x="295" y="117.90" width="2.00" height="26.30" fill="#f8a574"/>
<rect x="297" y="117.90" width="4.00" height="26.30" fill="#35e0de"/>
<rect x="301" y="117.90" width="3.50" height="26.30" fill="#a5d7f5"/>
<rect x="304.5" y="117.90" width="2.00" height="26.30" fill="#fa5a5a"/>
<rect x="306.5" y="117.90" width="2.00" height="26.30" fill="#e6b4e8"/>
<rect x="308.5" y="117.90" width="2.00" height="26.30" fill="#35e0de"/>
<rect x="310.5" y="117.90" width="1.50" height="26.30" fill="#a5d7f5"/>
<rect x="312" y="117.90" width="2.00" height="26.30" fill="#cfe8f8"/>
<rect x="314" y="117.90" width="6.00" height="26.30" fill="#a5d7f5"/>
<rect x="320" y="117.90" width="2.00" height="26.30" fill="#f8a574"/>
<rect x="322" y="117.90" width="3.00" height="26.30" fill="#a5d7f5"/>
<rect x="325" y="117.90" width="2.00" height="26.30" fill="#90d65c"/>
<rect x="327" y="117.90" width="2.00" height="26.30" fill="#f8a574"/>
<rect x="329" y="117.90" width="2.00" height="26.30" fill="#e588e6"/>
<rect x="331" y="117.90" width="2.00" height="26.30" fill="#a5d7f5"/>
<rect x="333" y="117.90" width="2.00" height="26.30" fill="#f8a574"/>
<rect x="335" y="117.90" width="1.50" height="26.30" fill="#90d65c"/>
<rect x="336.5" y="117.90" width="2.50" height="26.30" fill="#a5d7f5"/>
<rect x="339" y="117.90" width="2.50" height="26.30" fill="#f8a574"/>
<rect x="341.5" y="117.90" width="1.50" height="26.30" fill="#f0f0f0"/>
<rect x="343" y="117.90" width="1.50" height="26.30" fill="#a5d7f5"/>
<rect x="344.5" y="117.90" width="2.00" height="26.30" fill="#90d65c"/>
<rect x="346.5" y="117.90" width="2.50" height="26.30" fill="#e588e6"/>
<rect x="349" y="117.90" width="1.50" height="26.30" fill="#ffffff"/>
<rect x="350.5" y="117.90" width="3.50" height="26.30" fill="#a5d7f5"/>
<rect x="354" y="117.90" width="2.00" height="26.30" fill="#e588e6"/>
<rect x="356" y="117.90" width="2.50" height="26.30" fill="#35e0de"/>
<rect x="358.5" y="117.90" width="2.00" height="26.30" fill="#90d65c"/>
<rect x="360.5" y="117.90" width="3.50" height="26.30" fill="#a5d7f5"/>
<rect x="364" y="117.90" width="2.00" height="26.30" fill="#f8a574"/>
<rect x="366" y="117.90" width="2.00" height="26.30" fill="#a5d7f5"/>
<rect x="368" y="117.90" width="1.50" height="26.30" fill="#f8a574"/>
<rect x="369.5" y="117.90" width="2.00" height="26.30" fill="#90d65c"/>
<rect x="371.5" y="117.90" width="1.50" height="26.30" fill="#a6a6a6"/>
<rect x="373" y="117.90" width="2.00" height="26.30" fill="#a5d7f5"/>
<rect x="375" y="117.90" width="1.50" height="26.30" fill="#e588e6"/>
<rect x="376.5" y="117.90" width="2.50" height="26.30" fill="#fa5a5a"/>
<rect x="379" y="117.90" width="2.00" height="26.30" fill="#e588e6"/>
<rect x="381" y="117.90" width="1.50" height="26.30" fill="#90d65c"/>
<rect x="382.5" y="117.90" width="3.00" height="26.30" fill="#a5d7f5"/>
<rect x="385.5" y="117.90" width="2.50" height="26.30" fill="#f8a574"/>
<rect x="388" y="117.90" width="2.00" height="26.30" fill="#a5d7f5"/>
<rect x="390" y="117.90" width="1.50" height="26.30" fill="#90d65c"/>
<rect x="391.5" y="117.90" width="3.00" height="26.30" fill="#f8a574"/>
<rect x="394.5" y="117.90" width="2.50" height="26.30" fill="#e588e6"/>
<rect x="397" y="117.90" width="3.00" height="26.30" fill="#90d65c"/>
<rect x="400" y="117.90" width="1.50" height="26.30" fill="#e588e6"/>
<rect x="401.5" y="117.90" width="2.00" height="26.30" fill="#f8a574"/>
<rect x="403.5" y="117.90" width="1.50" height="26.30" fill="#a5d7f5"/>
<rect x="405" y="117.90" width="1.50" height="26.30" fill="#e588e6"/>
<rect x="406.5" y="117.90" width="1.50" height="26.30" fill="#ffffff"/>
<rect x="408" y="117.90" width="2.00" height="26.30" fill="#90d65c"/>
<rect x="410" y="117.90" width="4.00" height="26.30" fill="#a5d7f5"/>
<rect x="414" y="117.90" width="2.00" height="26.30" fill="#f8a574"/>
<rect x="416" y="117.90" width="2.00" height="26.30" fill="#a5d7f5"/>
<rect x="418" y="117.90" width="2.00" height="26.30" fill="#e588e6"/>
<rect x="420" y="117.90" width="3.00" height="26.30" fill="#35e0de"/>
<rect x="423" y="117.90" width="1.50" height="26.30" fill="#fa5a5a"/>
<rect x="424.5" y="117.90" width="2.00" height="26.30" fill="#e588e6"/>
<rect x="426.5" y="117.90" width="2.00" height="26.30" fill="#a5d7f5"/>
<rect x="428.5" y="117.90" width="2.50" height="26.30" fill="#f8a574"/>
<rect x="431" y="117.90" width="2.00" height="26.30" fill="#a5d7f5"/>
<rect x="433" y="117.90" width="3.00" height="26.30" fill="#e588e6"/>
<rect x="436" y="117.90" width="2.00" height="26.30" fill="#a5d7f5"/>
<rect x="438" y="117.90" width="4.00" height="26.30" fill="#f8a574"/>
<rect x="442" y="117.90" width="3.00" height="26.30" fill="#90d65c"/>
<rect x="445" y="117.90" width="2.00" height="26.30" fill="#d98585"/>
<rect x="447" y="117.90" width="1.50" height="26.30" fill="#90d65c"/>
<rect x="448.5" y="117.90" width="2.00" height="26.30" fill="#a5d7f5"/>
<rect x="450.5" y="117.90" width="2.00" height="26.30" fill="#fa5a5a"/>
<rect x="452.5" y="117.90" width="3.00" height="26.30" fill="#e588e6"/>
<rect x="455.5" y="117.90" width="2.50" height="26.30" fill="#90d65c"/>
<rect x="458" y="117.90" width="1.50" height="26.30" fill="#a5d7f5"/>
<rect x="459.5" y="117.90" width="3.00" height="26.30" fill="#e588e6"/>
<rect x="462.5" y="117.90" width="2.00" height="26.30" fill="#fa5a5a"/>
<rect x="464.5" y="117.90" width="1.50" height="26.30" fill="#ffffff"/>
<rect x="466" y="117.90" width="2.00" height="26.30" fill="#90d65c"/>
<rect x="468" y="117.90" width="2.00" height="26.30" fill="#e6b4e8"/>
<rect x="470" y="117.90" width="2.00" height="26.30" fill="#f0f0f0"/>
<rect x="472" y="117.90" width="2.50" height="26.30" fill="#90d65c"/>
<rect x="474.5" y="117.90" width="1.50" height="26.30" fill="#ffffff"/>
<rect x="476" y="117.90" width="2.00" height="26.30" fill="#b8c8d0"/>
<rect x="478" y="117.90" width="3.50" height="26.30" fill="#c2e8a6"/>
<rect x="481.5" y="117.90" width="2.00" height="26.30" fill="#fa5a5a"/>
<rect x="483.5" y="117.90" width="2.50" height="26.30" fill="#90d65c"/>
<rect x="486" y="117.90" width="3.00" height="26.30" fill="#a5d7f5"/>
<rect x="489" y="117.90" width="5.00" height="26.30" fill="#f8a574"/>
<rect x="494" y="117.90" width="2.80" height="26.30" fill="#90d65c"/>
<rect x="496.8" y="117.90" width="1.00" height="26.30" fill="#c2e8a6"/>
<rect x="497.8" y="117.90" width="5.00" height="26.30" fill="#90d65c"/>
<rect x="502.8" y="117.90" width="2.20" height="26.30" fill="#ffffff"/>
<rect x="505" y="117.90" width="1.40" height="26.30" fill="#90d65c"/>
<rect x="47.4" y="91.60" width="1.80" height="26.30" fill="#90d65c"/>
<rect x="49.2" y="91.60" width="1.80" height="26.30" fill="#e588e6"/>
<rect x="51" y="91.60" width="23.00" height="26.30" fill="#a6a6a6"/>
<rect x="74" y="91.60" width="2.50" height="26.30" fill="#fa5a5a"/>
<rect x="76.5" y="91.60" width="7.50" height="26.30" fill="#a6a6a6"/>
<rect x="84" y="91.60" width="2.00" height="26.30" fill="#fa5a5a"/>
<rect x="86" y="91.60" width="2.00" height="26.30" fill="#35e0de"/>
<rect x="88" y="91.60" width="2.00" height="26.30" fill="#d98585"/>
<rect x="90" y="91.60" width="2.00" height="26.30" fill="#35e0de"/>
<rect x="92" y="91.60" width="3.50" height="26.30" fill="#fa5a5a"/>
<rect x="95.5" y="91.60" width="3.50" height="26.30" fill="#a6a6a6"/>
<rect x="99" y="91.60" width="1.50" height="26.30" fill="#fa5a5a"/>
<rect x="100.5" y="91.60" width="1.50" height="26.30" fill="#a8dada"/>
<rect x="102" y="91.60" width="2.00" height="26.30" fill="#fa5a5a"/>
<rect x="104" y="91.60" width="4.00" height="26.30" fill="#a6a6a6"/>
<rect x="108" y="91.60" width="2.00" height="26.30" fill="#f8a574"/>
<rect x="110" y="91.60" width="5.00" height="26.30" fill="#a6a6a6"/>
<rect x="115" y="91.60" width="1.00" height="26.30" fill="#e588e6"/>
<rect x="116" y="91.60" width="2.00" height="26.30" fill="#35e0de"/>
<rect x="118" y="91.60" width="2.00" height="26.30" fill="#e588e6"/>
<rect x="120" y="91.60" width="4.00" height="26.30" fill="#a6a6a6"/>
<rect x="124" y="91.60" width="2.00" height="26.30" fill="#fa5a5a"/>
<rect x="126" y="91.60" width="6.00" height="26.30" fill="#a6a6a6"/>
<rect x="132" y="91.60" width="2.00" height="26.30" fill="#d98585"/>
<rect x="134" y="91.60" width="6.00" height="26.30" fill="#a6a6a6"/>
<rect x="140" y="91.60" width="2.00" height="26.30" fill="#d98585"/>
<rect x="142" y="91.60" width="2.00" height="26.30" fill="#a6a6a6"/>
<rect x="144" y="91.60" width="1.50" height="26.30" fill="#d98585"/>
<rect x="145.5" y="91.60" width="2.00" height="26.30" fill="#a6a6a6"/>
<rect x="147.5" y="91.60" width="1.50" height="26.30" fill="#ffffff"/>
<rect x="149" y="91.60" width="1.50" height="26.30" fill="#e8c0a8"/>
<rect x="150.5" y="91.60" width="6.50" height="26.30" fill="#a6a6a6"/>
<rect x="157" y="91.60" width="2.00" height="26.30" fill="#35e0de"/>
<rect x="159" y="91.60" width="3.00" height="26.30" fill="#a8dada"/>
<rect x="162" y="91.60" width="2.00" height="26.30" fill="#a6a6a6"/>
<rect x="164" y="91.60" width="2.00" height="26.30" fill="#d0a8d0"/>
<rect x="166" y="91.60" width="2.00" height="26.30" fill="#35e0de"/>
<rect x="168" y="91.60" width="2.00" height="26.30" fill="#a6a6a6"/>
<rect x="170" y="91.60" width="1.50" height="26.30" fill="#35e0de"/>
<rect x="171.5" y="91.60" width="2.00" height="26.30" fill="#d0a8d0"/>
<rect x="173.5" y="91.60" width="2.50" height="26.30" fill="#35e0de"/>
<rect x="176" y="91.60" width="3.00" height="26.30" fill="#a6a6a6"/>
<rect x="179" y="91.60" width="2.00" height="26.30" fill="#fa5a5a"/>
<rect x="181" y="91.60" width="4.50" height="26.30" fill="#a6a6a6"/>
<rect x="185.5" y="91.60" width="2.00" height="26.30" fill="#e8c0a8"/>
<rect x="187.5" y="91.60" width="3.00" height="26.30" fill="#a6a6a6"/>
<rect x="190.5" y="91.60" width="1.50" height="26.30" fill="#fa5a5a"/>
<rect x="192" y="91.60" width="2.00" height="26.30" fill="#e588e6"/>
<rect x="194" y="91.60" width="5.00" height="26.30" fill="#a6a6a6"/>
<rect x="199" y="91.60" width="2.00" height="26.30" fill="#d98585"/>
<rect x="201" y="91.60" width="3.00" height="26.30" fill="#a6a6a6"/>
<rect x="204" y="91.60" width="2.00" height="26.30" fill="#35e0de"/>
<rect x="206" y="91.60" width="2.00" height="26.30" fill="#a6a6a6"/>
<rect x="208" y="91.60" width="1.50" height="26.30" fill="#fa5a5a"/>
<rect x="209.5" y="91.60" width="4.00" height="26.30" fill="#e588e6"/>
<rect x="213.5" y="91.60" width="2.00" height="26.30" fill="#fa5a5a"/>
<rect x="215.5" y="91.60" width="1.50" height="26.30" fill="#e588e6"/>
<rect x="217" y="91.60" width="2.00" height="26.30" fill="#a6a6a6"/>
<rect x="219" y="91.60" width="2.00" height="26.30" fill="#d0a8d0"/>
<rect x="221" y="91.60" width="2.50" height="26.30" fill="#fa5a5a"/>
<rect x="223.5" y="91.60" width="1.50" height="26.30" fill="#e588e6"/>
<rect x="225" y="91.60" width="2.00" height="26.30" fill="#d0a8d0"/>
<rect x="227" y="91.60" width="2.00" height="26.30" fill="#35e0de"/>
<rect x="229" y="91.60" width="2.00" height="26.30" fill="#e588e6"/>
<rect x="231" y="91.60" width="2.00" height="26.30" fill="#a5d7f5"/>
<rect x="233" y="91.60" width="2.00" height="26.30" fill="#a6a6a6"/>
<rect x="235" y="91.60" width="2.00" height="26.30" fill="#fa5a5a"/>
<rect x="237" y="91.60" width="2.00" height="26.30" fill="#e588e6"/>
<rect x="239" y="91.60" width="2.00" height="26.30" fill="#fa5a5a"/>
<rect x="241" y="91.60" width="2.00" height="26.30" fill="#f8a574"/>
<rect x="243" y="91.60" width="3.00" height="26.30" fill="#35e0de"/>
<rect x="246" y="91.60" width="1.00" height="26.30" fill="#a6a6a6"/>
<rect x="247" y="91.60" width="5.00" height="26.30" fill="#fa5a5a"/>
<rect x="252" y="91.60" width="2.00" height="26.30" fill="#e588e6"/>
<rect x="254" y="91.60" width="1.50" height="26.30" fill="#35e0de"/>
<rect x="255.5" y="91.60" width="1.50" height="26.30" fill="#a6a6a6"/>
<rect x="257" y="91.60" width="2.50" height="26.30" fill="#d98585"/>
<rect x="259.5" y="91.60" width="4.00" height="26.30" fill="#a6a6a6"/>
<rect x="263.5" y="91.60" width="3.50" height="26.30" fill="#35e0de"/>
<rect x="267" y="91.60" width="2.50" height="26.30" fill="#d0a8d0"/>
<rect x="269.5" y="91.60" width="5.50" height="26.30" fill="#fa5a5a"/>
<rect x="275" y="91.60" width="1.50" height="26.30" fill="#a6a6a6"/>
<rect x="276.5" y="91.60" width="2.00" height="26.30" fill="#35e0de"/>
<rect x="278.5" y="91.60" width="1.50" height="26.30" fill="#a6a6a6"/>
<rect x="280" y="91.60" width="2.00" height="26.30" fill="#f8a574"/>
<rect x="282" y="91.60" width="2.00" height="26.30" fill="#35e0de"/>
<rect x="284" y="91.60" width="2.00" height="26.30" fill="#e588e6"/>
<rect x="286" y="91.60" width="2.00" height="26.30" fill="#a5d7f5"/>
<rect x="288" y="91.60" width="1.50" height="26.30" fill="#a6a6a6"/>
<rect x="289.5" y="91.60" width="2.00" height="26.30" fill="#fa5a5a"/>
<rect x="291.5" y="91.60" width="2.00" height="26.30" fill="#e588e6"/>
<rect x="293.5" y="91.60" width="3.00" height="26.30" fill="#a6a6a6"/>
<rect x="296.5" y="91.60" width="2.00" height="26.30" fill="#35e0de"/>
<rect x="298.5" y="91.60" width="1.50" height="26.30" fill="#a6a6a6"/>
<rect x="300" y="91.60" width="2.50" height="26.30" fill="#e588e6"/>
<rect x="302.5" y="91.60" width="2.00" height="26.30" fill="#35e0de"/>
<rect x="304.5" y="91.60" width="3.50" height="26.30" fill="#fa5a5a"/>
<rect x="308" y="91.60" width="2.00" height="26.30" fill="#e588e6"/>
<rect x="310" y="91.60" width="2.00" height="26.30" fill="#a8dada"/>
<rect x="312" y="91.60" width="2.50" height="26.30" fill="#35e0de"/>
<rect x="314.5" y="91.60" width="2.00" height="26.30" fill="#a6a6a6"/>
<rect x="316.5" y="91.60" width="2.00" height="26.30" fill="#e588e6"/>
<rect x="318.5" y="91.60" width="2.00" height="26.30" fill="#f8a574"/>
<rect x="320.5" y="91.60" width="1.50" height="26.30" fill="#35e0de"/>
<rect x="322" y="91.60" width="2.50" height="26.30" fill="#cfe8f8"/>
<rect x="324.5" y="91.60" width="2.00" height="26.30" fill="#e588e6"/>
<rect x="326.5" y="91.60" width="2.00" height="26.30" fill="#fa5a5a"/>
<rect x="328.5" y="91.60" width="1.50" height="26.30" fill="#a6a6a6"/>
<rect x="330" y="91.60" width="2.00" height="26.30" fill="#35e0de"/>
<rect x="332" y="91.60" width="3.00" height="26.30" fill="#a5d7f5"/>
<rect x="335" y="91.60" width="1.50" height="26.30" fill="#f8a574"/>
<rect x="336.5" y="91.60" width="2.00" height="26.30" fill="#e588e6"/>
<rect x="338.5" y="91.60" width="2.00" height="26.30" fill="#35e0de"/>
<rect x="340.5" y="91.60" width="2.00" height="26.30" fill="#f8a574"/>
<rect x="342.5" y="91.60" width="2.00" height="26.30" fill="#b8c8d0"/>
<rect x="344.5" y="91.60" width="2.50" height="26.30" fill="#35e0de"/>
<rect x="347" y="91.60" width="1.50" height="26.30" fill="#e588e6"/>
<rect x="348.5" y="91.60" width="1.50" height="26.30" fill="#f8a574"/>
<rect x="350" y="91.60" width="2.00" height="26.30" fill="#e588e6"/>
<rect x="352" y="91.60" width="2.00" height="26.30" fill="#f8a574"/>
<rect x="354" y="91.60" width="2.00" height="26.30" fill="#a6a6a6"/>
<rect x="356" y="91.60" width="2.00" height="26.30" fill="#35e0de"/>
<rect x="358" y="91.60" width="2.00" height="26.30" fill="#a5d7f5"/>
<rect x="360" y="91.60" width="2.50" height="26.30" fill="#a6a6a6"/>
<rect x="362.5" y="91.60" width="2.50" height="26.30" fill="#e588e6"/>
<rect x="365" y="91.60" width="2.00" height="26.30" fill="#a6a6a6"/>
<rect x="367" y="91.60" width="3.50" height="26.30" fill="#f8a574"/>
<rect x="370.5" y="91.60" width="2.50" height="26.30" fill="#a6a6a6"/>
<rect x="373" y="91.60" width="2.00" height="26.30" fill="#cfe8f8"/>
<rect x="375" y="91.60" width="2.00" height="26.30" fill="#e588e6"/>
<rect x="377" y="91.60" width="2.00" height="26.30" fill="#fa5a5a"/>
<rect x="379" y="91.60" width="2.00" height="26.30" fill="#e588e6"/>
<rect x="381" y="91.60" width="2.00" height="26.30" fill="#a5d7f5"/>
<rect x="383" y="91.60" width="1.50" height="26.30" fill="#a6a6a6"/>
<rect x="384.5" y="91.60" width="2.00" height="26.30" fill="#e588e6"/>
<rect x="386.5" y="91.60" width="3.50" height="26.30" fill="#f8a574"/>
<rect x="390" y="91.60" width="2.00" height="26.30" fill="#a5d7f5"/>
<rect x="392" y="91.60" width="8.00" height="26.30" fill="#e588e6"/>
<rect x="400" y="91.60" width="1.50" height="26.30" fill="#a6a6a6"/>
<rect x="401.5" y="91.60" width="2.00" height="26.30" fill="#a5d7f5"/>
<rect x="403.5" y="91.60" width="1.50" height="26.30" fill="#a6a6a6"/>
<rect x="405" y="91.60" width="3.00" height="26.30" fill="#fa5a5a"/>
<rect x="408" y="91.60" width="2.00" height="26.30" fill="#a5d7f5"/>
<rect x="410" y="91.60" width="2.00" height="26.30" fill="#e588e6"/>
<rect x="412" y="91.60" width="2.00" height="26.30" fill="#35e0de"/>
<rect x="414" y="91.60" width="3.00" height="26.30" fill="#a6a6a6"/>
<rect x="417" y="91.60" width="3.00" height="26.30" fill="#fa5a5a"/>
<rect x="420" y="91.60" width="2.00" height="26.30" fill="#b8c8d0"/>
<rect x="422" y="91.60" width="2.50" height="26.30" fill="#fa5a5a"/>
<rect x="424.5" y="91.60" width="2.00" height="26.30" fill="#a6a6a6"/>
<rect x="426.5" y="91.60" width="3.50" height="26.30" fill="#e588e6"/>
<rect x="430" y="91.60" width="2.00" height="26.30" fill="#fa5a5a"/>
<rect x="432" y="91.60" width="2.00" height="26.30" fill="#e588e6"/>
<rect x="434" y="91.60" width="2.00" height="26.30" fill="#35e0de"/>
<rect x="436" y="91.60" width="1.50" height="26.30" fill="#a5d7f5"/>
<rect x="437.5" y="91.60" width="2.00" height="26.30" fill="#f8a574"/>
<rect x="439.5" y="91.60" width="2.50" height="26.30" fill="#fa5a5a"/>
<rect x="442" y="91.60" width="3.00" height="26.30" fill="#d0a8d0"/>
<rect x="445" y="91.60" width="1.50" height="26.30" fill="#d98585"/>
<rect x="446.5" y="91.60" width="2.00" height="26.30" fill="#e588e6"/>
<rect x="448.5" y="91.60" width="2.00" height="26.30" fill="#a5d7f5"/>
<rect x="450.5" y="91.60" width="2.00" height="26.30" fill="#fa5a5a"/>
<rect x="452.5" y="91.60" width="2.00" height="26.30" fill="#a6a6a6"/>
<rect x="454.5" y="91.60" width="1.50" height="26.30" fill="#d98585"/>
<rect x="456" y="91.60" width="1.50" height="26.30" fill="#a5d7f5"/>
<rect x="457.5" y="91.60" width="5.00" height="26.30" fill="#e588e6"/>
<rect x="462.5" y="91.60" width="2.50" height="26.30" fill="#fa5a5a"/>
<rect x="465" y="91.60" width="1.50" height="26.30" fill="#35e0de"/>
<rect x="466.5" y="91.60" width="1.50" height="26.30" fill="#a6a6a6"/>
<rect x="468" y="91.60" width="2.00" height="26.30" fill="#fa5a5a"/>
<rect x="470" y="91.60" width="2.00" height="26.30" fill="#e588e6"/>
<rect x="472" y="91.60" width="2.00" height="26.30" fill="#fa5a5a"/>
<rect x="474" y="91.60" width="2.00" height="26.30" fill="#a5d7f5"/>
<rect x="476" y="91.60" width="6.00" height="26.30" fill="#a6a6a6"/>
<rect x="482" y="91.60" width="2.00" height="26.30" fill="#fa5a5a"/>
<rect x="484" y="91.60" width="3.00" height="26.30" fill="#35e0de"/>
<rect x="487" y="91.60" width="2.00" height="26.30" fill="#d98585"/>
<rect x="489" y="91.60" width="5.00" height="26.30" fill="#f8a574"/>
<rect x="494" y="91.60" width="2.80" height="26.30" fill="#90d65c"/>
<rect x="496.8" y="91.60" width="1.00" height="26.30" fill="#c2e8a6"/>
<rect x="497.8" y="91.60" width="5.00" height="26.30" fill="#90d65c"/>
<rect x="505" y="91.60" width="1.40" height="26.30" fill="#90d65c"/>
<rect x="47.4" y="64.9" width="1.8" height="92.0" fill="#90d65c"/>
<rect x="49.2" y="64.9" width="1.8" height="65.7" fill="#e588e6"/>
<rect x="51.8" y="38.6" width="1.6" height="28.9" fill="#90d65c"/>
<rect x="53.6" y="38.6" width="1.6" height="31.6" fill="#e588e6"/>
<rect x="57.4" y="38.6" width="1.9" height="31.6" fill="#35e0de"/>
<rect x="61.3" y="38.6" width="1.6" height="31.6" fill="#f8a574"/>
<rect x="66.4" y="38.6" width="2.1" height="31.6" fill="#35e0de"/>
<rect x="494.5" y="38.6" width="2.3" height="105.2" fill="#90d65c"/>
<rect x="497.8" y="12.3" width="2.1" height="131.5" fill="#90d65c"/>
<rect x="499.9" y="41.2" width="2.9" height="102.6" fill="#90d65c"/>
<rect x="505.0" y="80.7" width="1.4" height="63.1" fill="#90d65c"/>
<path d="M42.0 159.6 43.0 160.1 44.0 158.5 45.0 158.1 46.0 157.6 47.0 156.6 48.0 155.6 49.0 155.8 50.0 154.4 51.0 152.2 52.0 153.0 53.0 150.9 54.0 148.6 55.0 148.0 56.0 146.1 57.0 145.0 58.0 143.4 59.0 140.4 60.0 139.3 61.0 137.1 62.0 134.6 63.0 131.9 64.0 130.4 65.0 128.4 66.0 128.1 67.0 127.5 68.0 126.4 69.0 127.0 70.0 127.8 71.0 128.2 72.0 127.3 73.0 127.4 74.0 126.2 75.0 125.7 76.0 125.3 77.0 125.8 78.0 125.5 79.0 124.3 80.0 123.5 81.0 123.5 82.0 123.0 83.0 122.2 84.0 122.8 85.0 122.6 86.0 123.0 87.0 122.1 88.0 122.3 89.0 122.5 90.0 121.5 91.0 121.2 92.0 120.9 93.0 120.5 94.0 120.2 95.0 120.4 96.0 120.5 97.0 120.0 98.0 120.6 99.0 119.9 100.0 120.9 101.0 120.3 102.0 121.0 103.0 121.3 104.0 121.1 105.0 121.4 106.0 120.8 107.0 121.2 108.0 122.1 109.0 121.4 110.0 122.3 111.0 121.5 112.0 121.8 113.0 121.9 114.0 122.5 115.0 122.9 116.0 122.3 117.0 122.8 118.0 123.7 119.0 123.9 120.0 124.6 121.0 126.2 122.0 126.9 123.0 126.2 124.0 125.2 125.0 125.9 126.0 124.7 127.0 124.5 128.0 123.5 129.0 124.1 130.0 123.3 131.0 123.0 132.0 122.2 133.0 122.0 134.0 121.8 135.0 121.5 136.0 120.7 137.0 120.2 138.0 119.6 139.0 119.1 140.0 118.6 141.0 118.3 142.0 117.1 143.0 115.4 144.0 115.3 145.0 115.0 146.0 114.1 147.0 113.0 148.0 113.5 149.0 113.6 150.0 113.0 151.0 112.4 152.0 113.1 153.0 112.9 154.0 111.8 155.0 112.1 156.0 111.8 157.0 111.9 158.0 112.0 159.0 111.6 160.0 111.2 161.0 110.7 162.0 110.1 163.0 110.0 164.0 110.0 165.0 109.1 166.0 108.5 167.0 108.1 168.0 108.3 169.0 108.7 170.0 108.2 171.0 108.1 172.0 109.1 173.0 109.1 174.0 110.7 175.0 110.3 176.0 110.6 177.0 110.3 178.0 111.3 179.0 111.0 180.0 111.9 181.0 111.9 182.0 111.3 183.0 111.9 184.0 110.6 185.0 111.7 186.0 112.9 187.0 113.0 188.0 113.1 189.0 113.3 190.0 113.0 191.0 113.4 192.0 115.3 193.0 117.1 194.0 116.5 195.0 118.9 196.0 120.1 197.0 121.4 198.0 120.4 199.0 120.4 200.0 120.5 201.0 119.9 202.0 119.6 203.0 119.6 204.0 120.0 205.0 120.2 206.0 120.0 207.0 120.0 208.0 119.7 209.0 119.7 210.0 121.1 211.0 121.2 212.0 121.8 213.0 122.8 214.0 123.6 215.0 122.8 216.0 121.6 217.0 120.6 218.0 119.9 219.0 119.1 220.0 118.5 221.0 116.8 222.0 115.8 223.0 114.3 224.0 113.8 225.0 111.1 226.0 111.3 227.0 110.7 228.0 109.0 229.0 109.6 230.0 107.8 231.0 106.9 232.0 106.1 233.0 106.6 234.0 106.0 235.0 105.2 236.0 105.2 237.0 105.1 238.0 104.9 239.0 104.1 240.0 103.6 241.0 103.7 242.0 103.0 243.0 103.7 244.0 104.3 245.0 104.2 246.0 104.6 247.0 105.2 248.0 106.7 249.0 106.8 250.0 107.7 251.0 108.2 252.0 107.9 253.0 109.2 254.0 108.2 255.0 108.5 256.0 109.1 257.0 109.3 258.0 109.7 259.0 110.1 260.0 111.1 261.0 111.0 262.0 111.0 263.0 110.0 264.0 110.1 265.0 110.8 266.0 109.6 267.0 110.5 268.0 109.7 269.0 110.5 270.0 110.1 271.0 110.8 272.0 110.4 273.0 110.9 274.0 110.8 275.0 108.8 276.0 108.9 277.0 106.8 278.0 106.8 279.0 107.7 280.0 107.8 281.0 109.1 282.0 109.1 283.0 109.5 284.0 109.8 285.0 111.1 286.0 110.9 287.0 111.2 288.0 111.1 289.0 111.6 290.0 111.7 291.0 111.8 292.0 111.5 293.0 110.2 294.0 110.6 295.0 110.1 296.0 109.2 297.0 109.6 298.0 108.0 299.0 108.8 300.0 109.4 301.0 107.5 302.0 107.5 303.0 106.1 304.0 106.2 305.0 106.3 306.0 105.0 307.0 105.0 308.0 104.2 309.0 103.5 310.0 103.1 311.0 104.6 312.0 106.2 313.0 107.4 314.0 106.9 315.0 108.0 316.0 108.1 317.0 107.0 318.0 108.1 319.0 108.4 320.0 108.1 321.0 107.6 322.0 106.4 323.0 106.5 324.0 105.4 325.0 105.9 326.0 106.9 327.0 106.3 328.0 106.4 329.0 105.8 330.0 105.5 331.0 105.5 332.0 106.4 333.0 106.3 334.0 106.7 335.0 107.8 336.0 106.9 337.0 107.4 338.0 107.8 339.0 108.0 340.0 107.9 341.0 107.4 342.0 108.1 343.0 107.9 344.0 108.5 345.0 108.2 346.0 109.1 347.0 109.4 348.0 109.4 349.0 109.9 350.0 110.2 351.0 111.6 352.0 110.1 353.0 111.3 354.0 111.7 355.0 112.8 356.0 113.2 357.0 113.8 358.0 114.8 359.0 114.3 360.0 114.5 361.0 114.6 362.0 114.0 363.0 114.5 364.0 114.3 365.0 113.7 366.0 113.2 367.0 114.7 368.0 114.2 369.0 114.2 370.0 114.0 371.0 114.0 372.0 114.5 373.0 114.3 374.0 114.2 375.0 115.0 376.0 114.9 377.0 114.7 378.0 114.4 379.0 115.2 380.0 114.8 381.0 115.2 382.0 113.9 383.0 113.7 384.0 113.7 385.0 113.6 386.0 112.8 387.0 112.2 388.0 112.3 389.0 110.7 390.0 110.4 391.0 110.7 392.0 110.9 393.0 111.2 394.0 111.5 395.0 111.2 396.0 111.7 397.0 110.6 398.0 111.6 399.0 110.1 400.0 110.8 401.0 109.6 402.0 109.9 403.0 109.5 404.0 109.5 405.0 109.3 406.0 108.4 407.0 108.0 408.0 107.6 409.0 106.4 410.0 106.9 411.0 106.8 412.0 107.8 413.0 109.0 414.0 108.6 415.0 108.1 416.0 108.4 417.0 109.4 418.0 108.6 419.0 107.9 420.0 108.0 421.0 107.9 422.0 107.7 423.0 108.3 424.0 107.9 425.0 107.0 426.0 107.3 427.0 106.8 428.0 106.6 429.0 106.3 430.0 108.0 431.0 107.2 432.0 107.8 433.0 108.1 434.0 107.7 435.0 108.2 436.0 107.7 437.0 107.1 438.0 107.5 439.0 106.1 440.0 106.6 441.0 107.6 442.0 108.8 443.0 109.1 444.0 109.1 445.0 109.6 446.0 109.2 447.0 109.0 448.0 109.2 449.0 109.0 450.0 107.3 451.0 108.0 452.0 107.2 453.0 107.6 454.0 107.4 455.0 106.3 456.0 106.1 457.0 105.6 458.0 105.4 459.0 103.8 460.0 103.2 461.0 102.7 462.0 104.4 463.0 105.7 464.0 105.5 465.0 104.3 466.0 104.3 467.0 103.2 468.0 103.2 469.0 101.9 470.0 101.6 471.0 101.1 472.0 100.7 473.0 100.1 474.0 100.3 475.0 99.4 476.0 98.1 477.0 98.9 478.0 98.9 479.0 99.2 480.0 100.7 481.0 99.3 482.0 99.5 483.0 98.9 484.0 99.6 485.0 99.5 486.0 100.4 487.0 100.4 488.0 101.8 489.0 100.9 490.0 101.9 491.0 101.3 492.0 100.6 493.0 101.5 494.0 100.8 495.0 102.2 496.0 101.4 497.0 100.9 498.0 100.5 499.0 100.2 500.0 100.0 501.0 100.5 502.0 101.4 503.0 100.3 504.0 101.0 505.0 100.2 506.0 100.7" stroke="#6f9c3a" stroke-width="1.05" fill="none" stroke-linejoin="round"/>
<path d="M43.0 195.3 44.0 193.8 45.0 191.9 46.0 190.1 47.0 189.1 48.0 186.7 49.0 183.8 50.0 183.5 51.0 180.2 52.0 178.2 53.0 177.0 54.0 176.4 55.0 175.2 56.0 172.1 57.0 171.4 58.0 169.1 59.0 167.5 60.0 163.7 61.0 161.0 62.0 157.5 63.0 153.6 64.0 151.7 65.0 148.4 66.0 146.2 67.0 144.4 68.0 141.9 69.0 140.7 70.0 139.4 71.0 139.5 72.0 140.3 73.0 140.5 74.0 140.8 75.0 139.9 76.0 138.2 77.0 136.9 78.0 137.7 79.0 136.5 80.0 135.2 81.0 134.4 82.0 134.3 83.0 134.3 84.0 134.7 85.0 135.1 86.0 135.2 87.0 134.4 88.0 134.1 89.0 133.4 90.0 133.0 91.0 132.5 92.0 132.2 93.0 130.0 94.0 129.5 95.0 128.4 96.0 126.8 97.0 126.1 98.0 124.5 99.0 123.7 100.0 122.9 101.0 121.9 102.0 120.7 103.0 120.5 104.0 119.1 105.0 118.3 106.0 117.4 107.0 116.2 108.0 115.3 109.0 115.2 110.0 113.8 111.0 113.0 112.0 112.7 113.0 113.6 114.0 113.0 115.0 113.1 116.0 112.8 117.0 112.9 118.0 113.2 119.0 112.8 120.0 113.5 121.0 114.1 122.0 114.1 123.0 113.1 124.0 113.4 125.0 113.3 126.0 113.6 127.0 114.0 128.0 113.6 129.0 112.6 130.0 113.3 131.0 113.5 132.0 112.8 133.0 113.5 134.0 112.0 135.0 112.4 136.0 112.6 137.0 110.6 138.0 110.6 139.0 110.6 140.0 111.4 141.0 110.4 142.0 112.8 143.0 113.9 144.0 114.8 145.0 115.0 146.0 115.4 147.0 115.9 148.0 115.8 149.0 117.4 150.0 116.5 151.0 117.1 152.0 117.4 153.0 117.8 154.0 117.2 155.0 116.0 156.0 115.4 157.0 115.4 158.0 114.3 159.0 112.9 160.0 112.2 161.0 110.3 162.0 109.6 163.0 107.7 164.0 106.7 165.0 105.6 166.0 105.2 167.0 103.4 168.0 102.2 169.0 100.7 170.0 99.5 171.0 98.2 172.0 97.8 173.0 97.1 174.0 96.1 175.0 95.6 176.0 97.2 177.0 98.0 178.0 98.3 179.0 97.9 180.0 100.0 181.0 100.1 182.0 100.6 183.0 101.3 184.0 101.8 185.0 103.5 186.0 104.1 187.0 103.5 188.0 104.4 189.0 105.1 190.0 106.1 191.0 104.9 192.0 106.9 193.0 107.8 194.0 106.7 195.0 106.6 196.0 107.1 197.0 106.5 198.0 105.6 199.0 105.5 200.0 104.9 201.0 104.0 202.0 104.0 203.0 103.1 204.0 102.7 205.0 102.3 206.0 102.3 207.0 101.1 208.0 99.7 209.0 100.6 210.0 99.4 211.0 99.5 212.0 98.6 213.0 98.8 214.0 98.4 215.0 98.3 216.0 98.7 217.0 97.7 218.0 97.7 219.0 97.4 220.0 96.8 221.0 95.7 222.0 96.5 223.0 94.7 224.0 96.0 225.0 97.1 226.0 98.2 227.0 99.0 228.0 99.7 229.0 100.3 230.0 99.8 231.0 100.5 232.0 99.9 233.0 100.5 234.0 99.0 235.0 99.6 236.0 99.9 237.0 100.3 238.0 99.4 239.0 101.0 240.0 101.3 241.0 101.3 242.0 100.5 243.0 101.1 244.0 100.0 245.0 100.4 246.0 99.7 247.0 99.5 248.0 99.2 249.0 99.0 250.0 98.9 251.0 98.5 252.0 97.9 253.0 97.1 254.0 96.4 255.0 95.7 256.0 95.5 257.0 93.8 258.0 93.0 259.0 92.5 260.0 91.0 261.0 90.9 262.0 90.6 263.0 89.9 264.0 89.7 265.0 90.0 266.0 89.2 267.0 89.0 268.0 89.2 269.0 88.2 270.0 87.7 271.0 88.0 272.0 88.7 273.0 88.2 274.0 89.8 275.0 89.9 276.0 90.3 277.0 90.6 278.0 91.4 279.0 92.4 280.0 92.7 281.0 93.4 282.0 93.3 283.0 94.7 284.0 95.3 285.0 95.5 286.0 95.1 287.0 97.0 288.0 98.1 289.0 96.6 290.0 96.0 291.0 97.1 292.0 95.9 293.0 96.2 294.0 96.2 295.0 95.0 296.0 95.6 297.0 95.9 298.0 95.0 299.0 95.3 300.0 94.7 301.0 94.8 302.0 94.8 303.0 93.2 304.0 93.2 305.0 93.2 306.0 93.4 307.0 94.0 308.0 94.8 309.0 95.5 310.0 96.0 311.0 97.1 312.0 97.4 313.0 97.3 314.0 97.3 315.0 97.5 316.0 96.4 317.0 96.9 318.0 97.3 319.0 97.6 320.0 96.8 321.0 98.5 322.0 97.4 323.0 98.1 324.0 97.8 325.0 97.5 326.0 96.2 327.0 95.8 328.0 95.7 329.0 95.3 330.0 95.2 331.0 94.6 332.0 94.2 333.0 93.7 334.0 95.0 335.0 93.4 336.0 94.6 337.0 94.8 338.0 95.3 339.0 95.8 340.0 96.3 341.0 96.0 342.0 96.0 343.0 94.8 344.0 95.5 345.0 94.9 346.0 95.1 347.0 95.6 348.0 95.5 349.0 96.5 350.0 96.4 351.0 97.2 352.0 96.3 353.0 94.9 354.0 95.2 355.0 94.9 356.0 94.6 357.0 94.0 358.0 93.9 359.0 94.4 360.0 94.3 361.0 93.8 362.0 94.4 363.0 93.1 364.0 93.9 365.0 93.9 366.0 94.3 367.0 93.1 368.0 92.3 369.0 92.8 370.0 93.1 371.0 91.9 372.0 92.0 373.0 91.9 374.0 92.0 375.0 92.6 376.0 92.9 377.0 92.2 378.0 92.2 379.0 93.3 380.0 92.8 381.0 93.0 382.0 93.1 383.0 93.4 384.0 93.9 385.0 93.9 386.0 94.4 387.0 94.4 388.0 94.8 389.0 94.5 390.0 94.8 391.0 95.1 392.0 94.5 393.0 94.1 394.0 94.0 395.0 92.5 396.0 92.1 397.0 93.3 398.0 92.9 399.0 93.6 400.0 93.0 401.0 92.5 402.0 93.9 403.0 92.9 404.0 92.4 405.0 92.2 406.0 92.6 407.0 92.0 408.0 92.3 409.0 92.5 410.0 91.1 411.0 91.3 412.0 91.5 413.0 91.8 414.0 91.2 415.0 90.3 416.0 90.9 417.0 89.8 418.0 90.6 419.0 91.5 420.0 91.5 421.0 94.1 422.0 93.9 423.0 94.1 424.0 94.2 425.0 94.5 426.0 95.7 427.0 96.3 428.0 96.3 429.0 96.9 430.0 97.4 431.0 97.3 432.0 96.7 433.0 98.0 434.0 97.9 435.0 98.3 436.0 97.8 437.0 97.4 438.0 97.9 439.0 98.8 440.0 99.8 441.0 100.1 442.0 99.1 443.0 98.3 444.0 98.9 445.0 99.2 446.0 99.2 447.0 99.0 448.0 98.8 449.0 96.9 450.0 95.5 451.0 95.3 452.0 94.3 453.0 95.0 454.0 94.1 455.0 93.7 456.0 94.8 457.0 95.1 458.0 94.9 459.0 95.1 460.0 95.7 461.0 95.6 462.0 95.3 463.0 96.1 464.0 96.4 465.0 95.9 466.0 95.9 467.0 95.5 468.0 94.9 469.0 94.6 470.0 94.7 471.0 93.9 472.0 94.3 473.0 94.0 474.0 93.0 475.0 94.2 476.0 94.3 477.0 94.7 478.0 95.6 479.0 95.9 480.0 96.8 481.0 96.1 482.0 95.7 483.0 94.6 484.0 94.3 485.0 94.8 486.0 92.7 487.0 94.3 488.0 92.4 489.0 92.4" stroke="#2b78bd" stroke-width="1.05" fill="none" stroke-linejoin="round"/>
<path d="M42.5 224.8 43.5 223.5 44.5 221.8 45.5 219.2 46.5 216.2 47.5 210.9 48.5 205.5 49.5 199.0 50.5 194.6 51.5 191.2 52.5 187.6 53.5 184.5 54.5 181.9 55.5 179.4 56.5 176.1 57.5 173.5 58.5 170.4 59.5 167.3 60.5 163.1 61.5 158.7 62.5 148.8 63.5 140.2 64.5 130.6 65.5 123.8 66.5 119.2 67.5 116.6 68.5 113.9 69.5 112.3 70.5 111.1 71.5 109.7 72.5 108.2 73.5 107.6 74.5 106.4 75.5 105.0 76.5 104.4 77.5 103.2 78.5 103.1 79.5 102.1 80.5 103.5 81.5 102.8 82.5 103.4 83.5 102.7 84.5 104.2 85.5 104.2 86.5 105.1 87.5 104.6 88.5 104.1 89.5 104.2 90.5 103.1 91.5 103.5 92.5 101.7 93.5 100.7 94.5 100.5 95.5 99.5 96.5 98.8 97.5 97.5 98.5 96.0 99.5 95.6 100.5 94.4 101.5 95.3 102.5 95.1 103.5 94.7 104.5 95.2 105.5 95.3 106.5 95.3 107.5 95.2 108.5 95.4 109.5 95.0 110.5 94.0 111.5 93.8 112.5 95.3 113.5 94.5 114.5 92.6 115.5 93.3 116.5 92.4 117.5 92.0 118.5 90.6 119.5 91.6 120.5 90.7 121.5 90.6 122.5 90.2 123.5 89.8 124.5 89.5 125.5 88.4 126.5 87.8 127.5 87.0 128.5 87.0 129.5 86.1 130.5 85.4 131.5 86.3 132.5 86.0 133.5 84.3 134.5 84.6 135.5 85.2 136.5 84.6 137.5 85.6 138.5 85.0 139.5 85.0 140.5 84.9 141.5 84.6 142.5 83.3 143.5 83.2 144.5 82.6 145.5 82.3 146.5 81.7 147.5 81.6 148.5 80.8 149.5 79.9 150.5 79.8 151.5 78.8 152.5 79.8 153.5 81.3 154.5 81.3 155.5 81.9 156.5 83.2 157.5 83.1 158.5 83.6 159.5 83.5 160.5 84.0 161.5 84.1 162.5 86.3 163.5 86.6 164.5 87.7 165.5 88.5 166.5 88.6 167.5 89.5 168.5 90.0 169.5 90.8 170.5 91.9 171.5 93.1 172.5 92.8 173.5 93.4 174.5 94.0 175.5 94.0 176.5 94.6 177.5 93.8 178.5 93.5 179.5 93.5 180.5 93.8 181.5 92.8 182.5 93.4 183.5 91.8 184.5 92.4 185.5 93.5 186.5 93.5 187.5 92.9 188.5 92.2 189.5 91.6 190.5 89.8 191.5 89.3 192.5 87.2 193.5 85.0 194.5 82.3 195.5 82.5 196.5 81.6 197.5 81.3 198.5 80.9 199.5 80.7 200.5 80.3 201.5 79.8 202.5 79.1 203.5 79.6 204.5 77.3 205.5 77.7 206.5 76.7 207.5 76.6 208.5 76.5 209.5 77.9 210.5 77.9 211.5 78.3 212.5 78.7 213.5 79.6 214.5 79.4 215.5 80.2 216.5 81.5 217.5 80.7 218.5 80.8 219.5 81.0 220.5 82.2 221.5 82.2 222.5 82.0 223.5 82.1 224.5 82.7 225.5 82.4 226.5 84.0 227.5 83.2 228.5 83.4 229.5 83.4 230.5 82.5 231.5 82.6 232.5 82.9 233.5 83.0 234.5 82.3 235.5 83.5 236.5 82.8 237.5 82.9 238.5 82.4 239.5 81.3 240.5 82.1 241.5 80.6 242.5 79.3 243.5 78.6 244.5 79.3 245.5 79.2 246.5 78.5 247.5 78.8 248.5 77.5 249.5 77.5 250.5 77.2 251.5 76.0 252.5 76.2 253.5 75.8 254.5 75.7 255.5 75.5 256.5 75.3 257.5 74.4 258.5 74.9 259.5 75.0 260.5 74.4 261.5 74.6 262.5 74.4 263.5 74.5 264.5 73.8 265.5 73.8 266.5 73.5 267.5 73.3 268.5 72.8 269.5 72.8 270.5 72.3 271.5 72.5 272.5 72.8 273.5 72.6 274.5 72.5 275.5 72.0 276.5 72.8 277.5 72.1 278.5 72.8 279.5 72.8 280.5 72.4 281.5 72.5 282.5 73.3 283.5 73.2 284.5 73.5 285.5 75.0 286.5 74.2 287.5 74.2 288.5 74.7 289.5 74.4 290.5 74.8 291.5 75.4 292.5 75.0 293.5 75.6 294.5 75.8 295.5 76.2 296.5 75.6 297.5 77.5 298.5 76.9 299.5 77.8 300.5 78.1 301.5 78.9 302.5 80.5 303.5 80.8 304.5 81.1 305.5 80.3 306.5 80.2 307.5 80.6 308.5 80.7 309.5 80.6 310.5 80.1 311.5 80.2 312.5 79.7 313.5 80.6 314.5 80.5 315.5 80.5 316.5 79.3 317.5 80.4 318.5 79.7 319.5 80.2 320.5 80.0 321.5 80.3 322.5 79.5 323.5 79.3 324.5 78.9 325.5 78.7 326.5 79.4 327.5 78.4 328.5 78.6 329.5 77.6 330.5 77.0 331.5 77.2 332.5 76.7 333.5 75.3 334.5 75.2 335.5 75.0 336.5 75.1 337.5 74.4 338.5 74.4 339.5 74.4 340.5 74.6 341.5 74.6 342.5 73.8 343.5 74.8 344.5 74.2 345.5 73.7 346.5 73.3 347.5 73.8 348.5 73.0 349.5 74.1 350.5 74.3 351.5 74.5 352.5 73.9 353.5 72.6 354.5 73.0 355.5 73.2 356.5 71.7 357.5 72.0 358.5 72.4 359.5 72.2 360.5 71.6 361.5 72.6 362.5 73.2 363.5 74.5 364.5 73.7 365.5 73.8 366.5 74.7 367.5 75.1 368.5 75.6 369.5 76.4 370.5 76.1 371.5 75.8 372.5 76.9 373.5 77.0 374.5 77.3 375.5 77.1 376.5 76.3 377.5 76.8 378.5 76.8 379.5 76.1 380.5 76.5 381.5 76.0 382.5 75.9 383.5 75.6 384.5 75.9 385.5 76.8 386.5 75.4 387.5 74.7 388.5 75.0 389.5 75.0 390.5 75.7 391.5 75.9 392.5 77.5 393.5 77.0 394.5 77.9 395.5 77.1 396.5 77.7 397.5 78.8 398.5 76.7 399.5 77.2 400.5 76.0 401.5 77.0 402.5 75.3 403.5 75.5 404.5 75.1 405.5 74.0 406.5 75.4 407.5 73.7 408.5 74.0 409.5 72.5 410.5 71.6 411.5 71.9 412.5 71.4 413.5 72.5 414.5 71.0 415.5 71.2 416.5 71.9 417.5 72.7 418.5 73.1 419.5 73.0 420.5 73.9 421.5 74.9 422.5 75.8 423.5 75.8 424.5 76.7 425.5 76.0 426.5 77.3 427.5 78.5 428.5 78.8 429.5 79.2 430.5 80.5 431.5 79.6 432.5 78.8 433.5 78.9 434.5 78.4 435.5 77.3 436.5 77.7 437.5 77.8 438.5 76.8 439.5 76.6 440.5 77.0 441.5 77.6 442.5 76.8 443.5 76.7 444.5 76.8 445.5 76.9 446.5 76.4 447.5 75.7 448.5 75.8 449.5 75.8 450.5 74.0 451.5 74.2 452.5 73.4 453.5 74.0 454.5 71.4 455.5 70.9 456.5 70.3 457.5 68.8 458.5 68.8 459.5 68.8 460.5 67.5 461.5 67.9 462.5 68.3 463.5 66.9 464.5 66.7 465.5 66.1 466.5 67.3 467.5 66.7 468.5 67.6 469.5 67.7 470.5 66.8 471.5 65.8 472.5 66.2 473.5 65.6 474.5 65.2 475.5 65.4 476.5 65.6 477.5 65.4 478.5 65.8 479.5 66.5 480.5 66.0 481.5 66.4 482.5 66.2 483.5 67.4 484.5 67.2 485.5 67.5 486.5 66.7 487.5 67.1 488.5 65.7 489.5 66.1 490.5 65.4 491.5 64.8 492.5 65.5 493.5 63.6" stroke="#c4622e" stroke-width="1.05" fill="none" stroke-linejoin="round"/>
<path d="M42.0 171.9 43.0 170.5 44.0 169.3 45.0 168.0 46.0 165.3 47.0 163.1 48.0 159.0 49.0 154.8 50.0 151.0 51.0 147.1 52.0 144.5 53.0 141.6 54.0 140.4 55.0 140.2 56.0 138.9 57.0 137.5 58.0 135.8 59.0 134.2 60.0 129.8 61.0 126.2 62.0 119.4 63.0 114.3 64.0 111.4 65.0 105.8 66.0 101.7 67.0 99.5 68.0 98.3 69.0 96.2 70.0 95.0 71.0 94.8 72.0 94.5 73.0 94.1 74.0 93.2 75.0 92.5 76.0 91.9 77.0 91.7 78.0 90.8 79.0 90.4 80.0 90.2 81.0 89.6 82.0 88.8 83.0 87.6 84.0 86.6 85.0 86.6 86.0 85.9 87.0 84.9 88.0 84.5 89.0 84.1 90.0 82.9 91.0 82.6 92.0 81.4 93.0 81.1 94.0 80.2 95.0 79.4 96.0 79.6 97.0 77.5 98.0 78.2 99.0 78.0 100.0 77.2 101.0 77.1 102.0 78.8 103.0 78.7 104.0 79.9 105.0 81.8 106.0 82.1 107.0 82.4 108.0 81.3 109.0 80.8 110.0 81.3 111.0 82.1 112.0 81.8 113.0 81.8 114.0 81.1 115.0 81.1 116.0 80.9 117.0 82.6 118.0 81.5 119.0 82.5 120.0 81.9 121.0 82.9 122.0 82.0 123.0 82.5 124.0 83.2 125.0 82.5 126.0 82.3 127.0 82.2 128.0 81.8 129.0 82.5 130.0 82.0 131.0 80.6 132.0 81.8 133.0 80.4 134.0 79.7 135.0 79.0 136.0 78.9 137.0 78.1 138.0 76.9 139.0 76.6 140.0 75.3 141.0 75.2 142.0 72.5 143.0 70.9 144.0 70.2 145.0 69.9 146.0 69.5 147.0 68.4 148.0 67.9 149.0 67.4 150.0 67.8 151.0 67.0 152.0 65.8 153.0 67.0 154.0 66.3 155.0 66.8 156.0 65.5 157.0 65.4 158.0 65.6 159.0 65.5 160.0 66.5 161.0 67.7 162.0 68.0 163.0 67.3 164.0 69.9 165.0 70.5 166.0 71.4 167.0 71.2 168.0 71.4 169.0 71.5 170.0 71.7 171.0 71.3 172.0 72.4 173.0 72.5 174.0 73.1 175.0 73.5 176.0 73.7 177.0 74.3 178.0 73.4 179.0 73.8 180.0 73.4 181.0 72.9 182.0 71.8 183.0 72.5 184.0 71.2 185.0 70.6 186.0 69.8 187.0 69.1 188.0 68.9 189.0 68.2 190.0 68.1 191.0 69.0 192.0 68.3 193.0 68.5 194.0 67.2 195.0 66.4 196.0 66.5 197.0 66.3 198.0 68.7 199.0 69.5 200.0 69.7 201.0 70.5 202.0 70.6 203.0 70.6 204.0 71.1 205.0 70.4 206.0 70.8 207.0 71.0 208.0 70.3 209.0 70.6 210.0 71.2 211.0 72.2 212.0 71.5 213.0 73.7 214.0 74.0 215.0 74.9 216.0 75.1 217.0 76.0 218.0 75.8 219.0 76.9 220.0 76.2 221.0 76.1 222.0 76.5 223.0 76.4 224.0 75.4 225.0 74.8 226.0 74.7 227.0 74.0 228.0 74.0 229.0 72.8 230.0 70.8 231.0 71.3 232.0 70.5 233.0 69.7 234.0 69.8 235.0 69.5 236.0 69.1 237.0 69.7 238.0 68.9 239.0 68.7 240.0 68.3 241.0 68.6 242.0 67.4 243.0 68.3 244.0 67.5 245.0 68.2 246.0 68.0 247.0 67.5 248.0 66.9 249.0 67.1 250.0 66.8 251.0 65.7 252.0 65.9 253.0 65.4 254.0 66.0 255.0 65.8 256.0 65.6 257.0 66.5 258.0 67.0 259.0 68.6 260.0 69.8 261.0 71.1 262.0 70.6 263.0 72.4 264.0 71.7 265.0 71.2 266.0 71.1 267.0 70.7 268.0 71.0 269.0 70.5 270.0 70.8 271.0 69.8 272.0 69.2 273.0 69.6 274.0 70.2 275.0 69.4 276.0 69.7 277.0 70.3 278.0 69.4 279.0 70.4 280.0 69.8 281.0 69.0 282.0 68.9 283.0 68.3 284.0 68.0 285.0 67.6 286.0 67.4 287.0 67.0 288.0 66.7 289.0 66.6 290.0 67.9 291.0 66.5 292.0 66.9 293.0 67.5 294.0 67.5 295.0 66.7 296.0 67.8 297.0 67.6 298.0 66.5 299.0 66.0 300.0 66.7 301.0 66.2 302.0 66.0 303.0 65.6 304.0 65.9 305.0 66.3 306.0 66.8 307.0 65.6 308.0 65.6 309.0 67.2 310.0 66.5 311.0 67.3 312.0 66.9 313.0 67.3 314.0 67.0 315.0 66.4 316.0 66.3 317.0 66.4 318.0 66.5 319.0 65.7 320.0 65.8 321.0 67.1 322.0 67.5 323.0 67.9 324.0 68.1 325.0 69.3 326.0 68.0 327.0 68.3 328.0 68.9 329.0 67.6 330.0 68.0 331.0 68.5 332.0 69.0 333.0 68.6 334.0 70.3 335.0 70.4 336.0 70.9 337.0 71.0 338.0 71.2 339.0 71.9 340.0 72.3 341.0 70.7 342.0 71.0 343.0 71.1 344.0 70.0 345.0 71.4 346.0 70.2 347.0 70.6 348.0 70.3 349.0 69.9 350.0 69.3 351.0 69.4 352.0 69.4 353.0 69.5 354.0 69.2 355.0 69.3 356.0 69.6 357.0 70.5 358.0 70.2 359.0 70.0 360.0 70.0 361.0 70.8 362.0 70.9 363.0 71.5 364.0 72.7 365.0 72.6 366.0 72.2 367.0 72.0 368.0 72.4 369.0 70.9 370.0 71.5 371.0 71.0 372.0 71.2 373.0 71.4 374.0 71.4 375.0 72.0 376.0 71.0 377.0 72.3 378.0 72.7 379.0 72.2 380.0 72.4 381.0 73.9 382.0 72.8 383.0 73.2 384.0 73.3 385.0 73.1 386.0 72.8 387.0 71.9 388.0 73.7 389.0 72.1 390.0 72.3 391.0 71.9 392.0 72.2 393.0 71.3 394.0 70.8 395.0 70.2 396.0 69.5 397.0 68.5 398.0 68.9 399.0 67.7 400.0 68.7 401.0 68.6 402.0 68.3 403.0 67.5 404.0 68.7 405.0 67.7 406.0 67.9 407.0 66.4 408.0 66.8 409.0 66.2 410.0 65.8 411.0 65.5 412.0 66.2 413.0 65.0 414.0 64.7 415.0 65.0 416.0 62.9 417.0 63.7 418.0 63.8 419.0 64.7 420.0 65.8 421.0 66.2 422.0 66.3 423.0 66.5 424.0 66.8 425.0 67.3 426.0 67.5 427.0 66.8 428.0 67.2 429.0 67.2 430.0 66.7 431.0 66.6 432.0 66.0 433.0 66.3 434.0 65.7 435.0 65.5 436.0 65.4 437.0 65.1 438.0 64.7 439.0 64.4 440.0 65.0 441.0 64.8 442.0 64.8 443.0 65.0 444.0 64.7 445.0 65.2 446.0 65.4 447.0 65.1 448.0 65.9 449.0 65.6 450.0 66.6 451.0 66.8 452.0 66.8 453.0 67.4 454.0 67.9 455.0 68.1 456.0 67.5 457.0 68.8 458.0 69.2 459.0 69.9 460.0 69.6 461.0 70.0 462.0 69.5 463.0 69.2 464.0 68.6 465.0 69.0 466.0 70.0 467.0 69.1 468.0 68.0 469.0 67.7 470.0 66.6 471.0 65.6 472.0 64.3 473.0 64.7 474.0 63.4 475.0 62.9 476.0 61.2 477.0 61.0 478.0 60.6 479.0 59.6 480.0 58.7 481.0 58.5 482.0 59.1 483.0 58.8 484.0 58.8 485.0 58.4 486.0 57.7 487.0 57.4 488.0 56.7 489.0 56.3 490.0 55.1 491.0 54.5 492.0 54.3 493.0 53.4" stroke="#7d2c90" stroke-width="1.05" fill="none" stroke-linejoin="round"/>
<path d="M42.5 221.6 43.5 218.2 44.5 213.4 45.5 210.5 46.5 208.2 47.5 205.9 48.5 201.5 49.5 194.8 50.5 188.9 51.5 183.6 52.5 179.4 53.5 174.8 54.5 172.5 55.5 170.3 56.5 167.6 57.5 165.8 58.5 163.5 59.5 161.2 60.5 158.3 61.5 154.6 62.5 150.8 63.5 145.7 64.5 127.9 65.5 111.9 66.5 106.2 67.5 100.9 68.5 97.5 69.5 95.1 70.5 94.9 71.5 93.6 72.5 93.9 73.5 90.6 74.5 89.9 75.5 87.7 76.5 86.8 77.5 86.5 78.5 84.9 79.5 82.4 80.5 81.5 81.5 80.1 82.5 78.7 83.5 78.1 84.5 77.6 85.5 77.7 86.5 77.8 87.5 78.0 88.5 78.3 89.5 77.4 90.5 77.0 91.5 76.7 92.5 76.6 93.5 76.0 94.5 75.3 95.5 75.2 96.5 75.4 97.5 74.3 98.5 74.8 99.5 73.7 100.5 74.4 101.5 74.2 102.5 73.7 103.5 73.5 104.5 72.7 105.5 72.9 106.5 71.2 107.5 70.4 108.5 70.2 109.5 69.8 110.5 68.8 111.5 67.9 112.5 67.7 113.5 66.2 114.5 65.5 115.5 64.6 116.5 65.0 117.5 62.8 118.5 62.5 119.5 62.5 120.5 61.9 121.5 62.0 122.5 60.9 123.5 60.0 124.5 60.4 125.5 59.7 126.5 59.3 127.5 58.7 128.5 58.1 129.5 56.9 130.5 56.8 131.5 57.8 132.5 56.7 133.5 55.5 134.5 56.1 135.5 56.2 136.5 56.1 137.5 56.6 138.5 56.2 139.5 57.9 140.5 58.6 141.5 60.4 142.5 60.7 143.5 61.5 144.5 61.7 145.5 62.2 146.5 62.8 147.5 62.8 148.5 63.0 149.5 63.2 150.5 64.0 151.5 63.9 152.5 64.0 153.5 63.6 154.5 64.0 155.5 63.7 156.5 65.2 157.5 65.6 158.5 65.6 159.5 65.7 160.5 66.3 161.5 65.4 162.5 65.1 163.5 65.8 164.5 64.4 165.5 64.5 166.5 63.8 167.5 62.7 168.5 63.2 169.5 63.6 170.5 63.6 171.5 61.6 172.5 61.8 173.5 62.0 174.5 62.7 175.5 63.0 176.5 63.2 177.5 63.4 178.5 62.6 179.5 62.5 180.5 63.4 181.5 62.7 182.5 62.6 183.5 62.3 184.5 62.1 185.5 62.4 186.5 61.0 187.5 60.2 188.5 60.1 189.5 60.0 190.5 59.8 191.5 60.0 192.5 59.3 193.5 60.0 194.5 61.0 195.5 60.5 196.5 60.3 197.5 61.1 198.5 60.3 199.5 60.9 200.5 60.7 201.5 60.6 202.5 60.5 203.5 60.7 204.5 59.9 205.5 58.5 206.5 58.1 207.5 58.0 208.5 56.6 209.5 56.3 210.5 56.0 211.5 56.1 212.5 55.2 213.5 56.0 214.5 56.2 215.5 56.7 216.5 56.3 217.5 56.1 218.5 55.8 219.5 56.6 220.5 56.9 221.5 56.9 222.5 57.0 223.5 57.2 224.5 57.2 225.5 58.0 226.5 56.5 227.5 56.3 228.5 57.2 229.5 56.6 230.5 57.3 231.5 57.6 232.5 57.5 233.5 58.5 234.5 58.6 235.5 58.7 236.5 59.1 237.5 59.3 238.5 58.6 239.5 58.9 240.5 58.6 241.5 58.4 242.5 58.1 243.5 58.9 244.5 58.2 245.5 57.2 246.5 57.9 247.5 56.3 248.5 57.4 249.5 57.4 250.5 57.5 251.5 56.8 252.5 56.2 253.5 57.1 254.5 56.5 255.5 56.6 256.5 56.0 257.5 56.6 258.5 55.6 259.5 56.7 260.5 55.7 261.5 56.3 262.5 56.3 263.5 57.2 264.5 56.6 265.5 55.5 266.5 55.8 267.5 54.8 268.5 53.3 269.5 53.5 270.5 52.4 271.5 52.9 272.5 52.9 273.5 52.3 274.5 52.9 275.5 52.9 276.5 51.9 277.5 52.4 278.5 52.0 279.5 51.8 280.5 52.5 281.5 51.2 282.5 51.2 283.5 51.2 284.5 51.3 285.5 51.5 286.5 51.0 287.5 52.3 288.5 52.8 289.5 53.2 290.5 52.6 291.5 52.6 292.5 52.7 293.5 53.8 294.5 54.0 295.5 54.4 296.5 54.6 297.5 54.3 298.5 55.6 299.5 56.1 300.5 56.6 301.5 56.6 302.5 57.6 303.5 58.2 304.5 58.2 305.5 59.5 306.5 59.7 307.5 60.0 308.5 60.2 309.5 59.9 310.5 59.9 311.5 60.2 312.5 60.3 313.5 60.4 314.5 59.9 315.5 60.2 316.5 60.1 317.5 58.7 318.5 58.9 319.5 58.8 320.5 58.6 321.5 59.2 322.5 58.6 323.5 57.7 324.5 57.3 325.5 56.3 326.5 56.0 327.5 56.7 328.5 54.8 329.5 55.5 330.5 54.9 331.5 55.4 332.5 55.9 333.5 57.2 334.5 56.9 335.5 57.4 336.5 58.0 337.5 56.9 338.5 59.2 339.5 58.0 340.5 58.8 341.5 59.8 342.5 59.4 343.5 59.4 344.5 60.8 345.5 60.2 346.5 60.9 347.5 60.7 348.5 60.5 349.5 61.4 350.5 60.0 351.5 60.5 352.5 58.7 353.5 58.1 354.5 57.8 355.5 57.7 356.5 56.6 357.5 56.3 358.5 56.8 359.5 55.7 360.5 55.7 361.5 54.8 362.5 53.9 363.5 53.3 364.5 53.2 365.5 52.7 366.5 51.9 367.5 51.4 368.5 51.8 369.5 51.1 370.5 50.3 371.5 49.5 372.5 49.0 373.5 49.9 374.5 48.5 375.5 49.6 376.5 48.1 377.5 47.5 378.5 48.9 379.5 47.8 380.5 48.4 381.5 47.8 382.5 47.4 383.5 47.8 384.5 47.2 385.5 47.4 386.5 47.0 387.5 46.2 388.5 47.1 389.5 46.6 390.5 46.7 391.5 46.8 392.5 45.8 393.5 46.5 394.5 46.3 395.5 46.7 396.5 46.0 397.5 45.6 398.5 45.2 399.5 46.0 400.5 45.9 401.5 47.3 402.5 47.5 403.5 48.0 404.5 48.7 405.5 49.5 406.5 50.0 407.5 50.0 408.5 51.8 409.5 51.8 410.5 52.6 411.5 53.1 412.5 53.3 413.5 54.2 414.5 54.2 415.5 54.2 416.5 54.9 417.5 55.5 418.5 55.6 419.5 55.7 420.5 55.6 421.5 55.9 422.5 56.1 423.5 55.7 424.5 56.8 425.5 56.6 426.5 56.1 427.5 57.5 428.5 57.8 429.5 56.2 430.5 56.3 431.5 55.7 432.5 56.0 433.5 54.7 434.5 55.1 435.5 54.7 436.5 54.7 437.5 53.1 438.5 53.5 439.5 53.6 440.5 54.0 441.5 53.5 442.5 53.6 443.5 53.4 444.5 52.6 445.5 52.9 446.5 52.6 447.5 52.5 448.5 52.1 449.5 52.8 450.5 52.4 451.5 51.3 452.5 52.4 453.5 51.8 454.5 51.4 455.5 52.7 456.5 52.2 457.5 52.5 458.5 52.3 459.5 52.4 460.5 52.1 461.5 54.1 462.5 54.2 463.5 55.1 464.5 55.2 465.5 54.9 466.5 54.9 467.5 55.6 468.5 56.3 469.5 55.6 470.5 55.8 471.5 56.3 472.5 56.2 473.5 57.3 474.5 57.1 475.5 58.2 476.5 57.2 477.5 58.2 478.5 57.1 479.5 57.5 480.5 57.2 481.5 57.9 482.5 58.3 483.5 59.1 484.5 59.4 485.5 58.4 486.5 57.5" stroke="#6ee6ee" stroke-width="1.05" fill="none" stroke-linejoin="round"/>
<path d="M42.5 196.5 43.5 194.6 44.5 192.7 45.5 190.9 46.5 188.0 47.5 184.2 48.5 181.6 49.5 178.5 50.5 177.0 51.5 175.0 52.5 171.7 53.5 170.1 54.5 167.6 55.5 165.0 56.5 162.4 57.5 159.7 58.5 157.7 59.5 153.1 60.5 147.6 61.5 139.6 62.5 126.6 63.5 121.3 64.5 114.9 65.5 111.8 66.5 108.8 67.5 107.1 68.5 103.9 69.5 102.1 70.5 100.3 71.5 99.4 72.5 96.9 73.5 96.5 74.5 94.9 75.5 94.7 76.5 93.8 77.5 92.5 78.5 89.1 79.5 87.4 80.5 84.8 81.5 85.2 82.5 84.6 83.5 85.5 84.5 86.5 85.5 87.6 86.5 86.5 87.5 86.0 88.5 85.3 89.5 84.0 90.5 84.8 91.5 84.1 92.5 82.7 93.5 82.0 94.5 82.3 95.5 81.9 96.5 80.2 97.5 79.7 98.5 78.6 99.5 78.2 100.5 76.3 101.5 75.9 102.5 76.6 103.5 75.9 104.5 75.8 105.5 75.4 106.5 75.3 107.5 74.9 108.5 74.4 109.5 74.4 110.5 73.6 111.5 74.4 112.5 73.1 113.5 73.2 114.5 73.5 115.5 72.8 116.5 73.2 117.5 73.2 118.5 72.7 119.5 71.9 120.5 72.9 121.5 72.4 122.5 71.8 123.5 73.2 124.5 72.4 125.5 72.7 126.5 72.9 127.5 72.3 128.5 73.1 129.5 72.2 130.5 72.4 131.5 72.7 132.5 73.9 133.5 73.3 134.5 73.3 135.5 72.2 136.5 72.2 137.5 70.5 138.5 70.9 139.5 70.8 140.5 69.9 141.5 68.9 142.5 68.7 143.5 69.3 144.5 69.3 145.5 68.1 146.5 68.6 147.5 66.8 148.5 67.2 149.5 66.5 150.5 66.3 151.5 64.7 152.5 65.3 153.5 64.5 154.5 63.7 155.5 63.5 156.5 63.2 157.5 63.0 158.5 62.2 159.5 61.8 160.5 62.2 161.5 62.0 162.5 62.1 163.5 62.2 164.5 60.9 165.5 61.6 166.5 61.6 167.5 61.4 168.5 60.8 169.5 61.5 170.5 61.8 171.5 60.8 172.5 60.4 173.5 61.0 174.5 60.5 175.5 60.5 176.5 60.4 177.5 59.9 178.5 60.0 179.5 59.6 180.5 58.8 181.5 60.0 182.5 59.4 183.5 59.0 184.5 59.3 185.5 58.4 186.5 58.7 187.5 58.9 188.5 58.8 189.5 58.7 190.5 59.9 191.5 60.1 192.5 60.9 193.5 59.8 194.5 60.4 195.5 60.4 196.5 60.3 197.5 60.1 198.5 60.1 199.5 58.8 200.5 59.7 201.5 59.5 202.5 59.1 203.5 59.9 204.5 59.7 205.5 59.4 206.5 59.5 207.5 60.4 208.5 59.2 209.5 60.5 210.5 60.4 211.5 61.7 212.5 63.2 213.5 63.4 214.5 63.6 215.5 64.4 216.5 64.1 217.5 63.2 218.5 63.1 219.5 61.9 220.5 61.5 221.5 60.7 222.5 60.1 223.5 59.8 224.5 58.9 225.5 58.9 226.5 59.8 227.5 59.0 228.5 58.5 229.5 59.2 230.5 59.0 231.5 57.7 232.5 57.8 233.5 58.9 234.5 58.4 235.5 58.7 236.5 58.6 237.5 58.6 238.5 59.9 239.5 59.3 240.5 60.1 241.5 60.9 242.5 60.3 243.5 59.9 244.5 60.3 245.5 60.3 246.5 59.8 247.5 60.1 248.5 59.5 249.5 59.2 250.5 59.8 251.5 59.2 252.5 59.7 253.5 60.0 254.5 60.1 255.5 61.0 256.5 60.1 257.5 60.6 258.5 61.0 259.5 61.0 260.5 62.8 261.5 61.3 262.5 60.9 263.5 60.3 264.5 60.8 265.5 58.9 266.5 58.0 267.5 58.4 268.5 57.3 269.5 56.4 270.5 57.6 271.5 57.3 272.5 56.0 273.5 55.8 274.5 56.1 275.5 55.3 276.5 54.5 277.5 54.2 278.5 55.1 279.5 54.2 280.5 52.8 281.5 52.7 282.5 52.3 283.5 51.8 284.5 51.8 285.5 52.5 286.5 51.3 287.5 51.1 288.5 51.3 289.5 50.9 290.5 50.8 291.5 50.9 292.5 50.9 293.5 52.2 294.5 51.5 295.5 52.7 296.5 52.0 297.5 52.2 298.5 53.0 299.5 52.7 300.5 53.0 301.5 52.7 302.5 53.2 303.5 50.5 304.5 51.1 305.5 51.3 306.5 51.0 307.5 50.7 308.5 51.4 309.5 48.7 310.5 49.5 311.5 48.6 312.5 48.2 313.5 48.2 314.5 47.2 315.5 47.0 316.5 46.6 317.5 45.9 318.5 43.8 319.5 43.7 320.5 42.7 321.5 42.5 322.5 42.6 323.5 43.5 324.5 42.1 325.5 42.1 326.5 42.0 327.5 43.0 328.5 42.7 329.5 43.8 330.5 44.5 331.5 44.8 332.5 44.0 333.5 44.7 334.5 46.0 335.5 45.1 336.5 45.7 337.5 45.0 338.5 45.8 339.5 45.5 340.5 44.6 341.5 45.1 342.5 45.2 343.5 46.0 344.5 47.3 345.5 47.4 346.5 47.9 347.5 48.7 348.5 48.3 349.5 49.0 350.5 48.8 351.5 48.9 352.5 48.8 353.5 48.8 354.5 48.9 355.5 49.1 356.5 50.0 357.5 50.1 358.5 49.8 359.5 50.9 360.5 50.5 361.5 51.1 362.5 51.2 363.5 51.9 364.5 53.2 365.5 53.5 366.5 53.3 367.5 54.6 368.5 54.4 369.5 54.8 370.5 55.6 371.5 55.5 372.5 55.4 373.5 55.3 374.5 56.6 375.5 55.1 376.5 55.9 377.5 55.3 378.5 55.9 379.5 56.5 380.5 56.1 381.5 56.5 382.5 57.0 383.5 58.3 384.5 58.5 385.5 58.2 386.5 57.5 387.5 57.4 388.5 57.1 389.5 56.0 390.5 55.3 391.5 54.0 392.5 53.4 393.5 53.1 394.5 53.4 395.5 52.5 396.5 53.7 397.5 52.3 398.5 51.7 399.5 51.3 400.5 49.8 401.5 49.6 402.5 50.4 403.5 51.2 404.5 51.5 405.5 52.4 406.5 52.7 407.5 52.9 408.5 53.3 409.5 53.2 410.5 53.8 411.5 53.5 412.5 53.7 413.5 54.6 414.5 53.6 415.5 55.3 416.5 55.7 417.5 54.7 418.5 55.2 419.5 54.8 420.5 54.1 421.5 54.6 422.5 54.6 423.5 54.7 424.5 53.9 425.5 54.0 426.5 53.4 427.5 53.9 428.5 53.1 429.5 53.3 430.5 52.4 431.5 52.5 432.5 51.8 433.5 51.6 434.5 52.4 435.5 51.6 436.5 51.6 437.5 51.8 438.5 51.0 439.5 52.1 440.5 50.7 441.5 50.8 442.5 51.8 443.5 49.8 444.5 51.3 445.5 50.5 446.5 50.4 447.5 50.0 448.5 51.4 449.5 51.5 450.5 53.4 451.5 53.7 452.5 54.3 453.5 55.1 454.5 55.7 455.5 56.7 456.5 56.9 457.5 56.9 458.5 57.4 459.5 57.6 460.5 58.4 461.5 58.2 462.5 57.5 463.5 56.9 464.5 57.0 465.5 56.1 466.5 56.4 467.5 56.3 468.5 56.7 469.5 57.1 470.5 57.4 471.5 57.0 472.5 57.7 473.5 57.4 474.5 57.3 475.5 57.7 476.5 57.4 477.5 56.8 478.5 55.4 479.5 54.2 480.5 55.0 481.5 54.6 482.5 54.8 483.5 55.1 484.5 54.5 485.5 54.5 486.5 54.8 487.5 55.1 488.5 55.7" stroke="#dc3540" stroke-width="1.05" fill="none" stroke-linejoin="round"/>
<path d="M42.5 191.6 43.5 186.2 44.5 182.8 45.5 180.7 46.5 178.5 47.5 174.4 48.5 168.5 49.5 162.3 50.5 159.4 51.5 156.8 52.5 155.2 53.5 154.8 54.5 154.3 55.5 154.3 56.5 153.3 57.5 151.1 58.5 148.6 59.5 145.4 60.5 130.7 61.5 121.6 62.5 115.0 63.5 109.5 64.5 107.1 65.5 105.8 66.5 105.0 67.5 103.1 68.5 101.1 69.5 100.1 70.5 99.3 71.5 98.5 72.5 97.0 73.5 95.6 74.5 95.1 75.5 94.2 76.5 93.2 77.5 92.2 78.5 91.8 79.5 91.5 80.5 89.9 81.5 89.0 82.5 89.2 83.5 87.6 84.5 87.1 85.5 87.1 86.5 86.7 87.5 86.3 88.5 85.9 89.5 85.3 90.5 84.2 91.5 83.1 92.5 81.3 93.5 82.3 94.5 81.3 95.5 80.4 96.5 79.2 97.5 78.0 98.5 77.8 99.5 77.1 100.5 76.0 101.5 76.6 102.5 75.0 103.5 75.0 104.5 75.6 105.5 74.1 106.5 74.2 107.5 74.3 108.5 73.5 109.5 72.5 110.5 72.6 111.5 72.4 112.5 71.5 113.5 72.4 114.5 71.6 115.5 71.4 116.5 71.0 117.5 70.9 118.5 70.4 119.5 69.8 120.5 70.6 121.5 70.2 122.5 70.8 123.5 69.4 124.5 69.8 125.5 70.6 126.5 68.9 127.5 68.8 128.5 69.3 129.5 69.8 130.5 68.3 131.5 68.7 132.5 68.4 133.5 68.1 134.5 68.1 135.5 68.6 136.5 67.9 137.5 67.0 138.5 67.0 139.5 67.1 140.5 66.1 141.5 65.9 142.5 65.5 143.5 64.3 144.5 65.5 145.5 63.4 146.5 63.4 147.5 62.7 148.5 61.8 149.5 62.0 150.5 61.3 151.5 60.7 152.5 61.5 153.5 61.1 154.5 60.3 155.5 59.9 156.5 60.7 157.5 59.9 158.5 58.9 159.5 59.4 160.5 58.1 161.5 58.0 162.5 57.6 163.5 56.7 164.5 58.1 165.5 60.1 166.5 59.6 167.5 60.3 168.5 60.8 169.5 61.5 170.5 62.0 171.5 62.5 172.5 62.3 173.5 62.9 174.5 62.6 175.5 62.6 176.5 62.5 177.5 62.2 178.5 61.2 179.5 60.9 180.5 61.2 181.5 60.5 182.5 60.3 183.5 60.4 184.5 60.1 185.5 60.7 186.5 60.2 187.5 61.8 188.5 61.8 189.5 62.9 190.5 62.6 191.5 63.7 192.5 62.8 193.5 63.2 194.5 61.3 195.5 61.6 196.5 60.2 197.5 59.7 198.5 60.0 199.5 60.0 200.5 59.1 201.5 59.4 202.5 59.6 203.5 59.8 204.5 60.7 205.5 60.4 206.5 60.7 207.5 59.2 208.5 59.0 209.5 58.9 210.5 57.8 211.5 56.8 212.5 57.7 213.5 57.4 214.5 56.7 215.5 56.5 216.5 56.0 217.5 56.0 218.5 56.1 219.5 55.5 220.5 55.1 221.5 54.7 222.5 54.6 223.5 54.1 224.5 54.6 225.5 53.2 226.5 52.6 227.5 52.3 228.5 51.5 229.5 50.7 230.5 49.7 231.5 49.2 232.5 47.7 233.5 47.4 234.5 47.6 235.5 48.5 236.5 49.1 237.5 48.4 238.5 48.4 239.5 48.7 240.5 49.8 241.5 49.2 242.5 49.2 243.5 49.1 244.5 49.7 245.5 50.2 246.5 49.8 247.5 49.5 248.5 50.5 249.5 50.0 250.5 50.8 251.5 49.5 252.5 50.0 253.5 50.1 254.5 49.2 255.5 50.2 256.5 50.7 257.5 50.6 258.5 51.1 259.5 51.2 260.5 51.0 261.5 52.0 262.5 51.6 263.5 51.8 264.5 51.3 265.5 51.7 266.5 50.9 267.5 50.7 268.5 49.7 269.5 50.3 270.5 50.6 271.5 48.9 272.5 49.8 273.5 49.4 274.5 48.4 275.5 49.0 276.5 50.0 277.5 49.9 278.5 50.5 279.5 51.2 280.5 50.9 281.5 51.8 282.5 51.3 283.5 51.7 284.5 53.0 285.5 53.2 286.5 53.3 287.5 52.5 288.5 53.3 289.5 53.2 290.5 54.7 291.5 53.5 292.5 53.6 293.5 54.1 294.5 54.6 295.5 54.3 296.5 54.6 297.5 55.0 298.5 55.0 299.5 53.9 300.5 53.7 301.5 54.5 302.5 53.3 303.5 53.6 304.5 52.9 305.5 52.3 306.5 51.3 307.5 51.6 308.5 50.4 309.5 51.4 310.5 50.4 311.5 50.2 312.5 49.5 313.5 49.2 314.5 49.1 315.5 48.7 316.5 48.5 317.5 48.2 318.5 48.7 319.5 49.0 320.5 49.2 321.5 48.6 322.5 48.1 323.5 48.2 324.5 48.5 325.5 47.6 326.5 47.8 327.5 47.3 328.5 47.0 329.5 46.5 330.5 47.1 331.5 46.7 332.5 46.9 333.5 47.7 334.5 48.2 335.5 48.5 336.5 48.8 337.5 48.7 338.5 49.1 339.5 50.1 340.5 50.8 341.5 49.0 342.5 51.0 343.5 50.8 344.5 50.9 345.5 50.9 346.5 51.4 347.5 51.7 348.5 52.8 349.5 52.8 350.5 53.6 351.5 53.6 352.5 55.5 353.5 55.9 354.5 55.7 355.5 57.0 356.5 57.0 357.5 57.1 358.5 57.8 359.5 58.4 360.5 59.0 361.5 58.8 362.5 59.2 363.5 58.5 364.5 58.0 365.5 57.6 366.5 56.2 367.5 56.4 368.5 57.0 369.5 55.5 370.5 55.4 371.5 56.3 372.5 54.5 373.5 54.5 374.5 54.1 375.5 53.6 376.5 54.0 377.5 53.9 378.5 53.0 379.5 54.0 380.5 52.8 381.5 52.8 382.5 53.6 383.5 54.5 384.5 54.6 385.5 55.7 386.5 54.5 387.5 55.1 388.5 54.7 389.5 54.5 390.5 54.3 391.5 53.9 392.5 53.0 393.5 52.9 394.5 51.8 395.5 51.9 396.5 52.1 397.5 51.0 398.5 51.3 399.5 52.4 400.5 53.8 401.5 54.0 402.5 53.5 403.5 52.9 404.5 53.2 405.5 51.6 406.5 52.8 407.5 52.0 408.5 52.4 409.5 51.8 410.5 52.2 411.5 51.0 412.5 50.1 413.5 50.7 414.5 50.2 415.5 50.1 416.5 50.8 417.5 50.5 418.5 51.8 419.5 52.5 420.5 53.2 421.5 52.2 422.5 53.2 423.5 53.0 424.5 53.3 425.5 53.2 426.5 53.5 427.5 54.2 428.5 54.7 429.5 54.3 430.5 53.6 431.5 54.8 432.5 53.9 433.5 54.4 434.5 55.2 435.5 54.5 436.5 55.2 437.5 54.9 438.5 54.7 439.5 55.4 440.5 55.2 441.5 56.3 442.5 56.5 443.5 56.5 444.5 55.5 445.5 56.5 446.5 55.1 447.5 54.5 448.5 53.7 449.5 52.7 450.5 52.4 451.5 52.2 452.5 52.0 453.5 51.1 454.5 50.5 455.5 49.8 456.5 49.4 457.5 49.9 458.5 49.0 459.5 48.7 460.5 48.0 461.5 48.1 462.5 50.5 463.5 53.0 464.5 54.6 465.5 54.4 466.5 54.3 467.5 54.1 468.5 54.5 469.5 53.8 470.5 54.8 471.5 54.8 472.5 55.3 473.5 54.4 474.5 55.1 475.5 56.5 476.5 56.7 477.5 55.8 478.5 56.5 479.5 57.0 480.5 56.8 481.5 57.1 482.5 57.0 483.5 56.7 484.5 57.4 485.5 57.7 486.5 58.7" stroke="#1e1e1e" stroke-width="1.05" fill="none" stroke-linejoin="round"/>
<path d="M42.25 12.30V275.30H540.25M42.25 275.30v-4.5M104.50 275.30v-4.5M166.75 275.30v-4.5M229.00 275.30v-4.5M291.25 275.30v-4.5M353.50 275.30v-4.5M415.75 275.30v-4.5M478.00 275.30v-4.5M540.25 275.30v-4.5M42.25 275.30h4.5M42.25 249.00h4.5M42.25 222.70h4.5M42.25 196.40h4.5M42.25 170.10h4.5M42.25 143.80h4.5M42.25 117.50h4.5M42.25 91.20h4.5M42.25 64.90h4.5M42.25 38.60h4.5M42.25 12.30h4.5" stroke="#a0a0a0" stroke-width="1" fill="none"/>
<g font-family="Liberation Sans, sans-serif" font-size="9" fill="#2a2a2a" stroke="#2a2a2a" stroke-width="0.25"><text x="42.25" y="287.9" text-anchor="middle">0</text><text x="104.50" y="287.9" text-anchor="middle">0.5</text><text x="166.75" y="287.9" text-anchor="middle">1</text><text x="229.00" y="287.9" text-anchor="middle">1.5</text><text x="291.25" y="287.9" text-anchor="middle">2</text><text x="353.50" y="287.9" text-anchor="middle">2.5</text><text x="415.75" y="287.9" text-anchor="middle">3</text><text x="478.00" y="287.9" text-anchor="middle">3.5</text><text x="540.25" y="287.9" text-anchor="middle">4</text><text x="38.9" y="279.00" text-anchor="end">0</text><text x="38.9" y="252.70" text-anchor="end">10</text><text x="38.9" y="226.40" text-anchor="end">20</text><text x="38.9" y="200.10" text-anchor="end">30</text><text x="38.9" y="173.80" text-anchor="end">40</text><text x="38.9" y="147.50" text-anchor="end">50</text><text x="38.9" y="121.20" text-anchor="end">60</text><text x="38.9" y="94.90" text-anchor="end">70</text><text x="38.9" y="68.60" text-anchor="end">80</text><text x="38.9" y="42.30" text-anchor="end">90</text><text x="38.9" y="16.00" text-anchor="end">100</text></g>
<text x="291.1" y="303.4" text-anchor="middle" font-family="Liberation Sans, sans-serif" font-size="13.5" fill="#262626" stroke="#262626" stroke-width="0.15">Episode</text>
<text transform="translate(20.3 143.9) rotate(-90)" text-anchor="middle" font-family="Liberation Sans, sans-serif" font-size="13.8" fill="#262626" stroke="#262626" stroke-width="0.15">Success Rate (%)</text>
<text x="519.8" y="301.7" font-family="Liberation Sans, sans-serif" font-size="8.8" fill="#2a2a2a" stroke="#2a2a2a" stroke-width="0.12">&#215;10<tspan font-size="6" dy="-4.6">4</tspan></text>
<rect x="384.4" y="202.4" width="151.70" height="69.10" fill="#fff" stroke="#9a9a9a" stroke-width="0.9"/>
<g font-family="Liberation Serif, serif" font-size="8.6" fill="#333" stroke="#333" stroke-width="0.2"><path d="M385.5 207.40H398.7" stroke="#90d65c" stroke-width="1.6"/><path d="M425.7 207.40H438.9" stroke="#6f9c3a" stroke-width="1.3"/><text x="399.90" y="209.90" font-style="italic" textLength="4.9" lengthAdjust="spacingAndGlyphs">n</text><text x="404.90" y="211.20" font-style="italic" textLength="2.6" lengthAdjust="spacingAndGlyphs" font-size="5.8">d</text><text x="410.30" y="211.50" textLength="6.0" lengthAdjust="spacingAndGlyphs" font-size="10.5">=</text><text x="419.00" y="209.90" textLength="3.2" lengthAdjust="spacingAndGlyphs">1</text><text x="439.60" y="209.90" textLength="6.3" lengthAdjust="spacingAndGlyphs">30</text><text x="450.50" y="209.90" textLength="13.6" lengthAdjust="spacingAndGlyphs">per.</text><text x="469.20" y="209.90" textLength="14.0" lengthAdjust="spacingAndGlyphs">Mov</text><text x="486.70" y="209.90" textLength="13.6" lengthAdjust="spacingAndGlyphs">Avg.</text><text x="505.40" y="209.90" textLength="2.2" lengthAdjust="spacingAndGlyphs">(</text><text x="507.50" y="209.90" font-style="italic" textLength="4.9" lengthAdjust="spacingAndGlyphs">n</text><text x="512.40" y="211.20" font-style="italic" textLength="2.6" lengthAdjust="spacingAndGlyphs" font-size="5.8">d</text><text x="517.40" y="211.50" textLength="6.0" lengthAdjust="spacingAndGlyphs" font-size="10.5">=</text><text x="527.00" y="209.90" textLength="3.2" lengthAdjust="spacingAndGlyphs">1</text><text x="532.00" y="209.90" textLength="2.2" lengthAdjust="spacingAndGlyphs">)</text><path d="M385.5 217.25H398.7" stroke="#a5d7f5" stroke-width="1.6"/><path d="M425.7 217.25H438.9" stroke="#2b78bd" stroke-width="1.3"/><text x="399.90" y="219.75" font-style="italic" textLength="4.9" lengthAdjust="spacingAndGlyphs">n</text><text x="404.90" y="221.05" font-style="italic" textLength="2.6" lengthAdjust="spacingAndGlyphs" font-size="5.8">d</text><text x="410.30" y="221.35" textLength="6.0" lengthAdjust="spacingAndGlyphs" font-size="10.5">=</text><text x="419.00" y="219.75" textLength="3.2" lengthAdjust="spacingAndGlyphs">2</text><text x="439.60" y="219.75" textLength="6.3" lengthAdjust="spacingAndGlyphs">30</text><text x="450.50" y="219.75" textLength="13.6" lengthAdjust="spacingAndGlyphs">per.</text><text x="469.20" y="219.75" textLength="14.0" lengthAdjust="spacingAndGlyphs">Mov</text><text x="486.70" y="219.75" textLength="13.6" lengthAdjust="spacingAndGlyphs">Avg.</text><text x="505.40" y="219.75" textLength="2.2" lengthAdjust="spacingAndGlyphs">(</text><text x="507.50" y="219.75" font-style="italic" textLength="4.9" lengthAdjust="spacingAndGlyphs">n</text><text x="512.40" y="221.05" font-style="italic" textLength="2.6" lengthAdjust="spacingAndGlyphs" font-size="5.8">d</text><text x="517.40" y="221.35" textLength="6.0" lengthAdjust="spacingAndGlyphs" font-size="10.5">=</text><text x="527.00" y="219.75" textLength="3.2" lengthAdjust="spacingAndGlyphs">2</text><text x="532.00" y="219.75" textLength="2.2" lengthAdjust="spacingAndGlyphs">)</text><path d="M385.5 227.10H398.7" stroke="#f8a574" stroke-width="1.6"/><path d="M425.7 227.10H438.9" stroke="#c4622e" stroke-width="1.3"/><text x="399.90" y="229.60" font-style="italic" textLength="4.9" lengthAdjust="spacingAndGlyphs">n</text><text x="404.90" y="230.90" font-style="italic" textLength="2.6" lengthAdjust="spacingAndGlyphs" font-size="5.8">d</text><text x="410.30" y="231.20" textLength="6.0" lengthAdjust="spacingAndGlyphs" font-size="10.5">=</text><text x="419.00" y="229.60" textLength="3.2" lengthAdjust="spacingAndGlyphs">3</text><text x="439.60" y="229.60" textLength="6.3" lengthAdjust="spacingAndGlyphs">30</text><text x="450.50" y="229.60" textLength="13.6" lengthAdjust="spacingAndGlyphs">per.</text><text x="469.20" y="229.60" textLength="14.0" lengthAdjust="spacingAndGlyphs">Mov</text><text x="486.70" y="229.60" textLength="13.6" lengthAdjust="spacingAndGlyphs">Avg.</text><text x="505.40" y="229.60" textLength="2.2" lengthAdjust="spacingAndGlyphs">(</text><text x="507.50" y="229.60" font-style="italic" textLength="4.9" lengthAdjust="spacingAndGlyphs">n</text><text x="512.40" y="230.90" font-style="italic" textLength="2.6" lengthAdjust="spacingAndGlyphs" font-size="5.8">d</text><text x="517.40" y="231.20" textLength="6.0" lengthAdjust="spacingAndGlyphs" font-size="10.5">=</text><text x="527.00" y="229.60" textLength="3.2" lengthAdjust="spacingAndGlyphs">3</text><text x="532.00" y="229.60" textLength="2.2" lengthAdjust="spacingAndGlyphs">)</text><path d="M385.5 236.95H398.7" stroke="#e588e6" stroke-width="1.6"/><path d="M425.7 236.95H438.9" stroke="#7d2c90" stroke-width="1.3"/><text x="399.90" y="239.45" font-style="italic" textLength="4.9" lengthAdjust="spacingAndGlyphs">n</text><text x="404.90" y="240.75" font-style="italic" textLength="2.6" lengthAdjust="spacingAndGlyphs" font-size="5.8">d</text><text x="410.30" y="241.05" textLength="6.0" lengthAdjust="spacingAndGlyphs" font-size="10.5">=</text><text x="419.00" y="239.45" textLength="3.2" lengthAdjust="spacingAndGlyphs">4</text><text x="439.60" y="239.45" textLength="6.3" lengthAdjust="spacingAndGlyphs">30</text><text x="450.50" y="239.45" textLength="13.6" lengthAdjust="spacingAndGlyphs">per.</text><text x="469.20" y="239.45" textLength="14.0" lengthAdjust="spacingAndGlyphs">Mov</text><text x="486.70" y="239.45" textLength="13.6" lengthAdjust="spacingAndGlyphs">Avg.</text><text x="505.40" y="239.45" textLength="2.2" lengthAdjust="spacingAndGlyphs">(</text><text x="507.50" y="239.45" font-style="italic" textLength="4.9" lengthAdjust="spacingAndGlyphs">n</text><text x="512.40" y="240.75" font-style="italic" textLength="2.6" lengthAdjust="spacingAndGlyphs" font-size="5.8">d</text><text x="517.40" y="241.05" textLength="6.0" lengthAdjust="spacingAndGlyphs" font-size="10.5">=</text><text x="527.00" y="239.45" textLength="3.2" lengthAdjust="spacingAndGlyphs">4</text><text x="532.00" y="239.45" textLength="2.2" lengthAdjust="spacingAndGlyphs">)</text><path d="M385.5 246.80H398.7" stroke="#35e0de" stroke-width="1.6"/><path d="M425.7 246.80H438.9" stroke="#6ee6ee" stroke-width="1.3"/><text x="399.90" y="249.30" font-style="italic" textLength="4.9" lengthAdjust="spacingAndGlyphs">n</text><text x="404.90" y="250.60" font-style="italic" textLength="2.6" lengthAdjust="spacingAndGlyphs" font-size="5.8">d</text><text x="410.30" y="250.90" textLength="6.0" lengthAdjust="spacingAndGlyphs" font-size="10.5">=</text><text x="419.00" y="249.30" textLength="3.2" lengthAdjust="spacingAndGlyphs">5</text><text x="439.60" y="249.30" textLength="6.3" lengthAdjust="spacingAndGlyphs">30</text><text x="450.50" y="249.30" textLength="13.6" lengthAdjust="spacingAndGlyphs">per.</text><text x="469.20" y="249.30" textLength="14.0" lengthAdjust="spacingAndGlyphs">Mov</text><text x="486.70" y="249.30" textLength="13.6" lengthAdjust="spacingAndGlyphs">Avg.</text><text x="505.40" y="249.30" textLength="2.2" lengthAdjust="spacingAndGlyphs">(</text><text x="507.50" y="249.30" font-style="italic" textLength="4.9" lengthAdjust="spacingAndGlyphs">n</text><text x="512.40" y="250.60" font-style="italic" textLength="2.6" lengthAdjust="spacingAndGlyphs" font-size="5.8">d</text><text x="517.40" y="250.90" textLength="6.0" lengthAdjust="spacingAndGlyphs" font-size="10.5">=</text><text x="527.00" y="249.30" textLength="3.2" lengthAdjust="spacingAndGlyphs">5</text><text x="532.00" y="249.30" textLength="2.2" lengthAdjust="spacingAndGlyphs">)</text><path d="M385.5 256.65H398.7" stroke="#fa5a5a" stroke-width="1.6"/><path d="M425.7 256.65H438.9" stroke="#dc3540" stroke-width="1.3"/><text x="399.90" y="259.15" font-style="italic" textLength="4.9" lengthAdjust="spacingAndGlyphs">n</text><text x="404.90" y="260.45" font-style="italic" textLength="2.6" lengthAdjust="spacingAndGlyphs" font-size="5.8">d</text><text x="410.30" y="260.75" textLength="6.0" lengthAdjust="spacingAndGlyphs" font-size="10.5">=</text><text x="419.00" y="259.15" textLength="3.2" lengthAdjust="spacingAndGlyphs">6</text><text x="439.60" y="259.15" textLength="6.3" lengthAdjust="spacingAndGlyphs">30</text><text x="450.50" y="259.15" textLength="13.6" lengthAdjust="spacingAndGlyphs">per.</text><text x="469.20" y="259.15" textLength="14.0" lengthAdjust="spacingAndGlyphs">Mov</text><text x="486.70" y="259.15" textLength="13.6" lengthAdjust="spacingAndGlyphs">Avg.</text><text x="505.40" y="259.15" textLength="2.2" lengthAdjust="spacingAndGlyphs">(</text><text x="507.50" y="259.15" font-style="italic" textLength="4.9" lengthAdjust="spacingAndGlyphs">n</text><text x="512.40" y="260.45" font-style="italic" textLength="2.6" lengthAdjust="spacingAndGlyphs" font-size="5.8">d</text><text x="517.40" y="260.75" textLength="6.0" lengthAdjust="spacingAndGlyphs" font-size="10.5">=</text><text x="527.00" y="259.15" textLength="3.2" lengthAdjust="spacingAndGlyphs">6</text><text x="532.00" y="259.15" textLength="2.2" lengthAdjust="spacingAndGlyphs">)</text><path d="M385.5 266.50H398.7" stroke="#a6a6a6" stroke-width="1.6"/><path d="M425.7 266.50H438.9" stroke="#1e1e1e" stroke-width="1.3"/><text x="399.90" y="269.00" font-style="italic" textLength="4.9" lengthAdjust="spacingAndGlyphs">n</text><text x="404.90" y="270.30" font-style="italic" textLength="2.6" lengthAdjust="spacingAndGlyphs" font-size="5.8">d</text><text x="410.30" y="270.60" textLength="6.0" lengthAdjust="spacingAndGlyphs" font-size="10.5">=</text><text x="419.00" y="269.00" textLength="3.2" lengthAdjust="spacingAndGlyphs">7</text><text x="439.60" y="269.00" textLength="6.3" lengthAdjust="spacingAndGlyphs">30</text><text x="450.50" y="269.00" textLength="13.6" lengthAdjust="spacingAndGlyphs">per.</text><text x="469.20" y="269.00" textLength="14.0" lengthAdjust="spacingAndGlyphs">Mov</text><text x="486.70" y="269.00" textLength="13.6" lengthAdjust="spacingAndGlyphs">Avg.</text><text x="505.40" y="269.00" textLength="2.2" lengthAdjust="spacingAndGlyphs">(</text><text x="507.50" y="269.00" font-style="italic" textLength="4.9" lengthAdjust="spacingAndGlyphs">n</text><text x="512.40" y="270.30" font-style="italic" textLength="2.6" lengthAdjust="spacingAndGlyphs" font-size="5.8">d</text><text x="517.40" y="270.60" textLength="6.0" lengthAdjust="spacingAndGlyphs" font-size="10.5">=</text><text x="527.00" y="269.00" textLength="3.2" lengthAdjust="spacingAndGlyphs">7</text><text x="532.00" y="269.00" textLength="2.2" lengthAdjust="spacingAndGlyphs">)</text></g>
</svg></body></html>
